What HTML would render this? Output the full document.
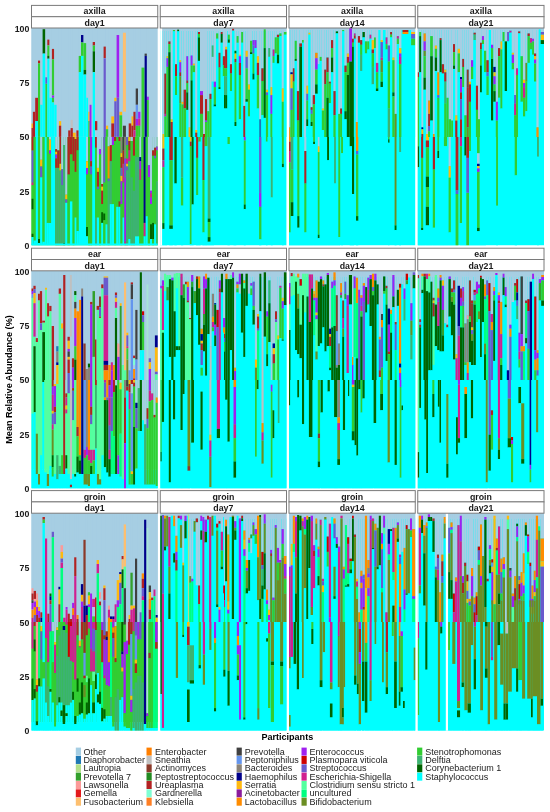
<!DOCTYPE html>
<html><head><meta charset="utf-8"><title>Mean Relative Abundance</title>
<style>
html,body{margin:0;padding:0;background:#fff;}
body{width:550px;height:812px;overflow:hidden;position:relative;}
svg text{font-family:"Liberation Sans",Arial,sans-serif;fill:#111;}
.b{font-size:8.8px;font-weight:bold;fill:#1a1a1a;}
.t{font-size:8.8px;font-weight:bold;fill:#1a1a1a;}
.a{font-size:9.05px;font-weight:bold;fill:#000;}
.l{font-size:9.0px;fill:#222;}
</style></head><body>
<svg width="550" height="812" viewBox="0 0 550 812" style="position:absolute;left:0;top:0">
<g>
<path fill="#A6CEE3" d="M31.5 28.0h126.2v109.0h-126.2z"/>
<path fill="#32CD32" d="M31.5 137.0h126.2v108.3h-126.2z"/>
<path fill="#A6CEE3" d="M31.5 28.0h1.4v95.4h-1.4z"/>
<path fill="#FFB90F" d="M31.5 123.4h1.4v4.7h-1.4z"/>
<path fill="#B22222" d="M31.5 128.1h1.4v8.8h-1.4z"/>
<path fill="#A6CEE3" d="M32.9 28.0h2.3v83.8h-2.3z"/>
<path fill="#B22222" d="M32.9 111.8h2.3v25.1h-2.3z"/>
<path fill="#A6CEE3" d="M35.2 28.0h2.8v69.8h-2.8z"/>
<path fill="#B22222" d="M35.2 97.8h2.8v23.3h-2.8z"/>
<path fill="#00FFFF" d="M35.2 121.1h2.8v15.8h-2.8z"/>
<path fill="#A6CEE3" d="M38.0 28.0h2.3v32.6h-2.3z"/>
<path fill="#B22222" d="M38.0 60.6h2.3v2.8h-2.3z"/>
<path fill="#32CD32" d="M38.0 63.4h2.3v73.5h-2.3z"/>
<path fill="#A6CEE3" d="M40.3 28.0h2.3v76.8h-2.3z"/>
<path fill="#00FFFF" d="M40.3 104.8h2.3v32.1h-2.3z"/>
<path fill="#A6CEE3" d="M42.6 28.0h2.8v1.2h-2.8z"/>
<path fill="#006400" d="M42.6 29.2h2.8v24.4h-2.8z"/>
<path fill="#00FFFF" d="M42.6 53.6h2.8v83.3h-2.8z"/>
<path fill="#A6CEE3" d="M45.4 28.0h1.9v49.3h-1.9z"/>
<path fill="#6A5ACD" d="M45.4 77.3h1.9v6.5h-1.9z"/>
<path fill="#32CD32" d="M45.4 83.9h1.9v53.1h-1.9z"/>
<path fill="#A6CEE3" d="M47.3 28.0h2.3v11.6h-2.3z"/>
<path fill="#B22222" d="M47.3 39.6h2.3v5.8h-2.3z"/>
<path fill="#32CD32" d="M47.3 45.5h2.3v10.5h-2.3z"/>
<path fill="#006400" d="M47.3 55.9h2.3v2.8h-2.3z"/>
<path fill="#00FFFF" d="M47.3 58.7h2.3v78.2h-2.3z"/>
<path fill="#A6CEE3" d="M49.6 28.0h2.3v69.8h-2.3z"/>
<path fill="#00FFFF" d="M49.6 97.8h2.3v39.1h-2.3z"/>
<path fill="#A6CEE3" d="M51.9 28.0h2.3v20.9h-2.3z"/>
<path fill="#B22222" d="M51.9 48.9h2.3v10.5h-2.3z"/>
<path fill="#32CD32" d="M51.9 59.4h2.3v36.1h-2.3z"/>
<path fill="#A020F0" d="M51.9 95.5h2.3v2.3h-2.3z"/>
<path fill="#32CD32" d="M51.9 97.8h2.3v4.7h-2.3z"/>
<path fill="#00FFFF" d="M51.9 102.5h2.3v34.4h-2.3z"/>
<path fill="#A6CEE3" d="M54.3 28.0h2.3v76.8h-2.3z"/>
<path fill="#00FFFF" d="M54.3 104.8h2.3v32.1h-2.3z"/>
<path fill="#A6CEE3" d="M58.9 28.0h2.3v93.1h-2.3z"/>
<path fill="#FFB90F" d="M58.9 121.1h2.3v4.7h-2.3z"/>
<path fill="#B22222" d="M58.9 125.7h2.3v11.2h-2.3z"/>
<path fill="#A6CEE3" d="M68.2 28.0h2.3v102.4h-2.3z"/>
<path fill="#B22222" d="M68.2 130.4h2.3v6.5h-2.3z"/>
<path fill="#A6CEE3" d="M70.6 28.0h2.3v91.9h-2.3z"/>
<path fill="#C0C0C0" d="M70.6 119.9h2.3v8.1h-2.3z"/>
<path fill="#B22222" d="M70.6 128.1h2.3v8.8h-2.3z"/>
<path fill="#A6CEE3" d="M72.9 28.0h2.8v104.7h-2.8z"/>
<path fill="#FFB90F" d="M72.9 132.7h2.8v4.2h-2.8z"/>
<path fill="#A6CEE3" d="M76.4 28.0h2.3v102.4h-2.3z"/>
<path fill="#B22222" d="M76.4 130.4h2.3v6.5h-2.3z"/>
<path fill="#A6CEE3" d="M78.7 28.0h2.3v27.9h-2.3z"/>
<path fill="#32CD32" d="M78.7 55.9h2.3v16.3h-2.3z"/>
<path fill="#00FFFF" d="M78.7 72.2h2.3v64.7h-2.3z"/>
<path fill="#A6CEE3" d="M81.0 28.0h2.6v7.0h-2.6z"/>
<path fill="#00008B" d="M81.0 35.0h2.6v7.4h-2.6z"/>
<path fill="#32CD32" d="M81.0 42.4h2.6v13.5h-2.6z"/>
<path fill="#00FFFF" d="M81.0 55.9h2.6v81.0h-2.6z"/>
<path fill="#A6CEE3" d="M83.6 28.0h2.8v15.1h-2.8z"/>
<path fill="#32CD32" d="M83.6 43.1h2.8v26.8h-2.8z"/>
<path fill="#006400" d="M83.6 69.9h2.8v4.7h-2.8z"/>
<path fill="#00FFFF" d="M83.6 74.5h2.8v62.4h-2.8z"/>
<path fill="#A6CEE3" d="M86.4 28.0h1.9v69.8h-1.9z"/>
<path fill="#00FFFF" d="M86.4 97.8h1.9v39.1h-1.9z"/>
<path fill="#A6CEE3" d="M88.3 28.0h1.4v83.8h-1.4z"/>
<path fill="#FFB90F" d="M88.3 111.8h1.4v9.3h-1.4z"/>
<path fill="#32CD32" d="M88.3 121.1h1.4v15.8h-1.4z"/>
<path fill="#A6CEE3" d="M89.6 28.0h1.9v76.8h-1.9z"/>
<path fill="#A020F0" d="M89.6 104.8h1.9v32.1h-1.9z"/>
<path fill="#A6CEE3" d="M92.7 28.0h2.3v14.0h-2.3z"/>
<path fill="#B22222" d="M92.7 42.0h2.3v3.5h-2.3z"/>
<path fill="#32CD32" d="M92.7 45.5h2.3v5.8h-2.3z"/>
<path fill="#006400" d="M92.7 51.3h2.3v20.9h-2.3z"/>
<path fill="#00FFFF" d="M92.7 72.2h2.3v64.7h-2.3z"/>
<path fill="#A6CEE3" d="M95.0 28.0h2.3v93.1h-2.3z"/>
<path fill="#B22222" d="M95.0 121.1h2.3v9.3h-2.3z"/>
<path fill="#A6CEE3" d="M95.0 130.4h2.3v6.5h-2.3zM103.6 28.0h2.3v18.6h-2.3z"/>
<path fill="#B22222" d="M103.6 46.6h2.3v11.6h-2.3z"/>
<path fill="#6A5ACD" d="M103.6 58.3h2.3v78.7h-2.3z"/>
<path fill="#A6CEE3" d="M105.9 28.0h2.3v97.7h-2.3z"/>
<path fill="#FFB90F" d="M105.9 125.7h2.3v3.5h-2.3z"/>
<path fill="#32CD32" d="M105.9 129.2h2.3v7.7h-2.3z"/>
<path fill="#A6CEE3" d="M111.3 28.0h3.0v88.4h-3.0z"/>
<path fill="#FFB90F" d="M111.3 116.4h3.0v7.0h-3.0z"/>
<path fill="#B22222" d="M111.3 123.4h3.0v13.5h-3.0z"/>
<path fill="#A6CEE3" d="M114.3 28.0h2.3v69.8h-2.3z"/>
<path fill="#FFB90F" d="M114.3 97.8h2.3v3.5h-2.3z"/>
<path fill="#6A5ACD" d="M114.3 101.3h2.3v35.6h-2.3z"/>
<path fill="#A6CEE3" d="M116.6 28.0h2.8v7.0h-2.8z"/>
<path fill="#A020F0" d="M116.6 35.0h2.8v62.8h-2.8z"/>
<path fill="#6A5ACD" d="M116.6 97.8h2.8v39.1h-2.8z"/>
<path fill="#A6CEE3" d="M119.4 28.0h2.8v83.8h-2.8z"/>
<path fill="#FFB90F" d="M119.4 111.8h2.8v3.5h-2.8z"/>
<path fill="#32CD32" d="M119.4 115.3h2.8v21.6h-2.8z"/>
<path fill="#A6CEE3" d="M122.9 28.0h3.0v4.7h-3.0z"/>
<path fill="#FDBF6F" d="M122.9 32.7h3.0v79.1h-3.0z"/>
<path fill="#A6CEE3" d="M122.9 111.8h3.0v14.0h-3.0z"/>
<path fill="#404040" d="M122.9 125.7h3.0v11.2h-3.0z"/>
<path fill="#A6CEE3" d="M128.7 28.0h2.8v95.4h-2.8z"/>
<path fill="#B22222" d="M128.7 123.4h2.8v13.5h-2.8z"/>
<path fill="#A6CEE3" d="M131.5 28.0h1.9v88.4h-1.9z"/>
<path fill="#FFB90F" d="M131.5 116.4h1.9v9.3h-1.9z"/>
<path fill="#B22222" d="M131.5 125.7h1.9v11.2h-1.9z"/>
<path fill="#A6CEE3" d="M133.4 28.0h2.3v83.8h-2.3z"/>
<path fill="#B22222" d="M133.4 111.8h2.3v18.6h-2.3z"/>
<path fill="#D02090" d="M133.4 130.4h2.3v6.5h-2.3z"/>
<path fill="#A6CEE3" d="M135.7 28.0h2.3v60.5h-2.3z"/>
<path fill="#404040" d="M135.7 88.5h2.3v16.3h-2.3z"/>
<path fill="#6495ED" d="M135.7 104.8h2.3v14.0h-2.3z"/>
<path fill="#A020F0" d="M135.7 118.8h2.3v7.0h-2.3z"/>
<path fill="#32CD32" d="M135.7 125.7h2.3v11.2h-2.3z"/>
<path fill="#A6CEE3" d="M138.1 28.0h2.3v83.8h-2.3z"/>
<path fill="#A020F0" d="M138.1 111.8h2.3v7.0h-2.3z"/>
<path fill="#D02090" d="M138.1 118.8h2.3v7.0h-2.3z"/>
<path fill="#32CD32" d="M138.1 125.7h2.3v11.2h-2.3z"/>
<path fill="#A6CEE3" d="M141.5 28.0h3.0v39.6h-3.0z"/>
<path fill="#32CD32" d="M141.5 67.6h3.0v69.4h-3.0z"/>
<path fill="#A6CEE3" d="M144.6 28.0h2.3v25.6h-2.3z"/>
<path fill="#404040" d="M144.6 53.6h2.3v2.3h-2.3z"/>
<path fill="#00008B" d="M144.6 55.9h2.3v81.0h-2.3z"/>
<path fill="#A6CEE3" d="M146.9 28.0h1.9v68.7h-1.9z"/>
<path fill="#A020F0" d="M146.9 96.7h1.9v3.5h-1.9z"/>
<path fill="#32CD32" d="M146.9 100.1h1.9v36.8h-1.9z"/>
<path fill="#B22222" d="M31.5 137.0h2.1v13.4h-2.1z"/>
<path fill="#6A5ACD" d="M31.5 150.4h2.1v32.2h-2.1z"/>
<path fill="#D02090" d="M31.5 182.6h2.1v2.7h-2.1z"/>
<path fill="#32CD32" d="M31.5 185.3h2.1v13.4h-2.1z"/>
<path fill="#006400" d="M31.5 198.7h2.1v10.7h-2.1z"/>
<path fill="#32CD32" d="M31.5 209.5h2.1v24.2h-2.1z"/>
<path fill="#006400" d="M31.5 233.7h2.1v3.4h-2.1z"/>
<path fill="#00FFFF" d="M31.5 237.0h2.1v8.3h-2.1z"/>
<path fill="#32CD32" d="M33.7 137.0h2.1v103.4h-2.1z"/>
<path fill="#00FFFF" d="M33.7 240.4h2.1v4.9h-2.1zM35.8 137.0h2.1v108.3h-2.1z"/>
<path fill="#32CD32" d="M38.0 137.0h2.1v102.0h-2.1z"/>
<path fill="#006400" d="M38.0 239.0h2.1v4.0h-2.1z"/>
<path fill="#00FFFF" d="M38.0 243.0h2.1v2.3h-2.1z"/>
<path fill="#A6CEE3" d="M40.1 137.0h2.4v22.8h-2.4z"/>
<path fill="#FFB90F" d="M40.1 159.8h2.4v6.7h-2.4z"/>
<path fill="#6A5ACD" d="M40.1 166.5h2.4v10.7h-2.4z"/>
<path fill="#00FFFF" d="M40.1 177.3h2.4v68.0h-2.4z"/>
<path fill="#32CD32" d="M42.5 137.0h2.1v104.7h-2.1z"/>
<path fill="#00FFFF" d="M42.5 241.7h2.1v3.6h-2.1zM44.7 137.0h2.1v108.3h-2.1z"/>
<path fill="#32CD32" d="M46.8 137.0h2.1v85.9h-2.1z"/>
<path fill="#00FFFF" d="M46.8 222.9h2.1v22.4h-2.1z"/>
<path fill="#A6CEE3" d="M49.0 137.0h2.1v2.7h-2.1z"/>
<path fill="#FFB90F" d="M49.0 139.7h2.1v10.7h-2.1z"/>
<path fill="#A020F0" d="M49.0 150.4h2.1v3.4h-2.1z"/>
<path fill="#32CD32" d="M49.0 153.8h2.1v69.1h-2.1z"/>
<path fill="#00FFFF" d="M49.0 222.9h2.1v22.4h-2.1zM51.1 137.0h4.0v108.3h-4.0z"/>
<path fill="#A6CEE3" d="M55.2 137.0h2.0v12.1h-2.0z"/>
<path fill="#B22222" d="M55.2 149.1h2.0v2.7h-2.0z"/>
<path fill="#FFB90F" d="M55.2 151.8h2.0v2.7h-2.0z"/>
<path fill="#A020F0" d="M55.2 154.5h2.0v4.0h-2.0z"/>
<path fill="#B22222" d="M55.2 158.5h2.0v9.4h-2.0z"/>
<path fill="#3CB371" d="M55.2 167.9h2.0v77.4h-2.0z"/>
<path fill="#A6CEE3" d="M57.2 137.0h2.3v13.4h-2.3z"/>
<path fill="#B22222" d="M57.2 150.4h2.3v17.5h-2.3z"/>
<path fill="#3CB371" d="M57.2 167.9h2.3v77.4h-2.3z"/>
<path fill="#B22222" d="M59.5 137.0h1.7v26.8h-1.7z"/>
<path fill="#FFB90F" d="M59.5 163.8h1.7v6.7h-1.7z"/>
<path fill="#3CB371" d="M59.5 170.6h1.7v74.7h-1.7z"/>
<path fill="#A6CEE3" d="M61.2 137.0h2.0v32.2h-2.0z"/>
<path fill="#6A5ACD" d="M61.2 169.2h2.0v16.1h-2.0z"/>
<path fill="#3CB371" d="M61.2 185.3h2.0v60.0h-2.0z"/>
<path fill="#A6CEE3" d="M63.2 137.0h2.0v8.1h-2.0z"/>
<path fill="#3CB371" d="M63.2 145.1h2.0v98.0h-2.0z"/>
<path fill="#006400" d="M63.2 243.0h2.0v2.3h-2.0z"/>
<path fill="#A6CEE3" d="M65.2 137.0h2.3v57.7h-2.3z"/>
<path fill="#FFB90F" d="M65.2 194.7h2.3v4.7h-2.3z"/>
<path fill="#6A5ACD" d="M65.2 199.4h2.3v3.4h-2.3z"/>
<path fill="#00FFFF" d="M65.2 202.8h2.3v42.5h-2.3z"/>
<path fill="#B22222" d="M67.5 137.0h2.4v37.6h-2.4z"/>
<path fill="#32CD32" d="M67.5 174.6h2.4v70.7h-2.4z"/>
<path fill="#B22222" d="M69.9 137.0h2.7v17.5h-2.7z"/>
<path fill="#32CD32" d="M69.9 154.5h2.7v47.0h-2.7z"/>
<path fill="#00FFFF" d="M69.9 201.4h2.7v43.9h-2.7z"/>
<path fill="#B22222" d="M72.6 137.0h2.0v24.2h-2.0z"/>
<path fill="#32CD32" d="M72.6 161.2h2.0v84.1h-2.0z"/>
<path fill="#FFB90F" d="M74.6 137.0h2.0v2.0h-2.0z"/>
<path fill="#B22222" d="M74.6 139.0h2.0v32.9h-2.0z"/>
<path fill="#32CD32" d="M74.6 171.9h2.0v45.6h-2.0z"/>
<path fill="#00FFFF" d="M74.6 217.5h2.0v27.8h-2.0z"/>
<path fill="#B22222" d="M76.6 137.0h2.1v13.4h-2.1z"/>
<path fill="#32CD32" d="M76.6 150.4h2.1v80.5h-2.1z"/>
<path fill="#00FFFF" d="M76.6 231.0h2.1v14.3h-2.1zM78.8 137.0h7.2v108.3h-7.2z"/>
<path fill="#A6CEE3" d="M86.0 137.0h2.0v24.2h-2.0z"/>
<path fill="#FFB90F" d="M86.0 161.2h2.0v6.7h-2.0z"/>
<path fill="#A020F0" d="M86.0 167.9h2.0v6.7h-2.0z"/>
<path fill="#32CD32" d="M86.0 174.6h2.0v52.4h-2.0z"/>
<path fill="#006400" d="M86.0 226.9h2.0v9.4h-2.0z"/>
<path fill="#00FFFF" d="M86.0 236.3h2.0v9.0h-2.0z"/>
<path fill="#32CD32" d="M88.1 137.0h2.0v108.3h-2.0z"/>
<path fill="#A020F0" d="M90.1 137.0h2.1v24.2h-2.1z"/>
<path fill="#B22222" d="M90.1 161.2h2.1v5.4h-2.1z"/>
<path fill="#6A5ACD" d="M90.1 166.5h2.1v8.1h-2.1z"/>
<path fill="#32CD32" d="M90.1 174.6h2.1v70.7h-2.1z"/>
<path fill="#00FFFF" d="M92.2 137.0h2.8v108.3h-2.8z"/>
<path fill="#B22222" d="M95.0 137.0h1.9v10.7h-1.9z"/>
<path fill="#32CD32" d="M95.0 147.7h1.9v69.8h-1.9z"/>
<path fill="#3CB371" d="M95.0 217.5h1.9v27.8h-1.9z"/>
<path fill="#A6CEE3" d="M96.9 137.0h2.1v30.9h-2.1z"/>
<path fill="#FFB90F" d="M96.9 167.9h2.1v4.0h-2.1z"/>
<path fill="#B22222" d="M96.9 171.9h2.1v14.8h-2.1z"/>
<path fill="#6A5ACD" d="M96.9 186.7h2.1v2.7h-2.1z"/>
<path fill="#32CD32" d="M96.9 189.4h2.1v28.2h-2.1z"/>
<path fill="#00FFFF" d="M96.9 217.5h2.1v27.8h-2.1z"/>
<path fill="#A6CEE3" d="M99.0 137.0h2.1v12.1h-2.1z"/>
<path fill="#A020F0" d="M99.0 149.1h2.1v5.4h-2.1z"/>
<path fill="#32CD32" d="M99.0 154.5h2.1v90.8h-2.1z"/>
<path fill="#A6CEE3" d="M101.2 137.0h2.1v47.0h-2.1z"/>
<path fill="#B22222" d="M101.2 184.0h2.1v2.7h-2.1z"/>
<path fill="#FFB90F" d="M101.2 186.7h2.1v4.0h-2.1z"/>
<path fill="#B22222" d="M101.2 190.7h2.1v13.4h-2.1z"/>
<path fill="#32CD32" d="M101.2 204.1h2.1v8.1h-2.1z"/>
<path fill="#006400" d="M101.2 212.2h2.1v10.7h-2.1z"/>
<path fill="#00FFFF" d="M101.2 222.9h2.1v22.4h-2.1z"/>
<path fill="#6A5ACD" d="M103.3 137.0h2.1v45.6h-2.1z"/>
<path fill="#32CD32" d="M103.3 182.6h2.1v30.9h-2.1z"/>
<path fill="#006400" d="M103.3 213.5h2.1v6.7h-2.1z"/>
<path fill="#32CD32" d="M103.3 220.2h2.1v25.1h-2.1zM105.5 137.0h2.1v87.3h-2.1z"/>
<path fill="#00FFFF" d="M105.5 224.3h2.1v21.0h-2.1z"/>
<path fill="#A6CEE3" d="M107.6 137.0h2.1v9.4h-2.1z"/>
<path fill="#FF8C00" d="M107.6 146.4h2.1v32.2h-2.1z"/>
<path fill="#6A5ACD" d="M107.6 178.6h2.1v2.7h-2.1z"/>
<path fill="#3CB371" d="M107.6 181.3h2.1v64.0h-2.1z"/>
<path fill="#A6CEE3" d="M109.8 137.0h2.1v8.1h-2.1z"/>
<path fill="#B22222" d="M109.8 145.1h2.1v16.1h-2.1z"/>
<path fill="#3CB371" d="M109.8 161.2h2.1v43.0h-2.1z"/>
<path fill="#00FFFF" d="M109.8 204.1h2.1v41.2h-2.1z"/>
<path fill="#A020F0" d="M111.9 137.0h2.1v8.1h-2.1z"/>
<path fill="#32CD32" d="M111.9 145.1h2.1v59.1h-2.1z"/>
<path fill="#00FFFF" d="M111.9 204.1h2.1v41.2h-2.1z"/>
<path fill="#B22222" d="M114.1 137.0h2.1v4.0h-2.1z"/>
<path fill="#32CD32" d="M114.1 141.0h2.1v104.3h-2.1zM116.2 137.0h2.3v69.8h-2.3z"/>
<path fill="#00FFFF" d="M116.2 206.8h2.3v38.5h-2.3z"/>
<path fill="#B22222" d="M118.5 137.0h2.0v4.0h-2.0z"/>
<path fill="#32CD32" d="M118.5 141.0h2.0v60.4h-2.0z"/>
<path fill="#8B3A2A" d="M118.5 201.4h2.0v5.4h-2.0z"/>
<path fill="#00FFFF" d="M118.5 206.8h2.0v38.5h-2.0z"/>
<path fill="#8B8378" d="M120.5 137.0h2.0v16.1h-2.0z"/>
<path fill="#FFB90F" d="M120.5 153.1h2.0v4.0h-2.0z"/>
<path fill="#B22222" d="M120.5 157.1h2.0v10.7h-2.0z"/>
<path fill="#6A5ACD" d="M120.5 167.9h2.0v8.1h-2.0z"/>
<path fill="#FFB90F" d="M120.5 175.9h2.0v5.4h-2.0z"/>
<path fill="#A020F0" d="M120.5 181.3h2.0v22.8h-2.0z"/>
<path fill="#32CD32" d="M120.5 204.1h2.0v41.2h-2.0z"/>
<path fill="#404040" d="M122.5 137.0h1.7v13.4h-1.7z"/>
<path fill="#B22222" d="M122.5 150.4h1.7v13.4h-1.7z"/>
<path fill="#D02090" d="M122.5 163.8h1.7v18.8h-1.7z"/>
<path fill="#32CD32" d="M122.5 182.6h1.7v34.9h-1.7z"/>
<path fill="#00FFFF" d="M122.5 217.5h1.7v27.8h-1.7z"/>
<path fill="#8B8378" d="M124.3 137.0h1.9v21.5h-1.9z"/>
<path fill="#A020F0" d="M124.3 158.5h1.9v5.4h-1.9z"/>
<path fill="#6A5ACD" d="M124.3 163.8h1.9v13.4h-1.9z"/>
<path fill="#A020F0" d="M124.3 177.3h1.9v64.4h-1.9z"/>
<path fill="#D02090" d="M124.3 241.7h1.9v3.6h-1.9z"/>
<path fill="#6A5ACD" d="M126.1 137.0h2.1v8.1h-2.1z"/>
<path fill="#32CD32" d="M126.1 145.1h2.1v13.4h-2.1z"/>
<path fill="#D02090" d="M126.1 158.5h2.1v5.4h-2.1z"/>
<path fill="#FFB90F" d="M126.1 163.8h2.1v2.7h-2.1z"/>
<path fill="#6A5ACD" d="M126.1 166.5h2.1v4.0h-2.1z"/>
<path fill="#3CB371" d="M126.1 170.6h2.1v74.7h-2.1z"/>
<path fill="#FFB90F" d="M128.3 137.0h2.3v4.0h-2.3z"/>
<path fill="#B22222" d="M128.3 141.0h2.3v9.4h-2.3z"/>
<path fill="#D02090" d="M128.3 150.4h2.3v10.7h-2.3z"/>
<path fill="#3CB371" d="M128.3 161.2h2.3v77.9h-2.3z"/>
<path fill="#00FFFF" d="M128.3 239.0h2.3v6.3h-2.3z"/>
<path fill="#A6CEE3" d="M130.6 137.0h2.3v4.0h-2.3z"/>
<path fill="#32CD32" d="M130.6 141.0h2.3v36.2h-2.3z"/>
<path fill="#3CB371" d="M130.6 177.3h2.3v68.0h-2.3z"/>
<path fill="#B22222" d="M132.9 137.0h2.1v18.8h-2.1z"/>
<path fill="#32CD32" d="M132.9 155.8h2.1v34.9h-2.1z"/>
<path fill="#3CB371" d="M132.9 190.7h2.1v54.6h-2.1z"/>
<path fill="#32CD32" d="M135.0 137.0h4.3v20.1h-4.3z"/>
<path fill="#3CB371" d="M135.0 157.1h4.3v79.2h-4.3z"/>
<path fill="#00FFFF" d="M135.0 236.3h4.3v9.0h-4.3z"/>
<path fill="#A6CEE3" d="M139.3 137.0h2.1v20.1h-2.1z"/>
<path fill="#00008B" d="M139.3 157.1h2.1v4.0h-2.1z"/>
<path fill="#A020F0" d="M139.3 161.2h2.1v8.1h-2.1z"/>
<path fill="#D02090" d="M139.3 169.2h2.1v10.7h-2.1z"/>
<path fill="#32CD32" d="M139.3 180.0h2.1v65.3h-2.1zM141.4 137.0h2.1v108.3h-2.1z"/>
<path fill="#00008B" d="M143.6 137.0h2.1v85.9h-2.1z"/>
<path fill="#D02090" d="M143.6 222.9h2.1v13.4h-2.1z"/>
<path fill="#00FFFF" d="M143.6 236.3h2.1v9.0h-2.1z"/>
<path fill="#32CD32" d="M145.7 137.0h2.1v79.2h-2.1z"/>
<path fill="#00FFFF" d="M145.7 216.2h2.1v29.1h-2.1z"/>
<path fill="#A6CEE3" d="M147.9 137.0h2.1v28.2h-2.1z"/>
<path fill="#A020F0" d="M147.9 165.2h2.1v12.1h-2.1z"/>
<path fill="#32CD32" d="M147.9 177.3h2.1v68.0h-2.1z"/>
<path fill="#A6CEE3" d="M150.0 137.0h2.0v53.7h-2.0z"/>
<path fill="#A020F0" d="M150.0 190.7h2.0v2.7h-2.0z"/>
<path fill="#D02090" d="M150.0 193.4h2.0v4.0h-2.0z"/>
<path fill="#A020F0" d="M150.0 197.4h2.0v6.7h-2.0z"/>
<path fill="#32CD32" d="M150.0 204.1h2.0v20.1h-2.0z"/>
<path fill="#006400" d="M150.0 224.3h2.0v14.8h-2.0z"/>
<path fill="#00FFFF" d="M150.0 239.0h2.0v6.3h-2.0z"/>
<path fill="#A6CEE3" d="M152.1 137.0h2.0v13.4h-2.0z"/>
<path fill="#B22222" d="M152.1 150.4h2.0v5.4h-2.0z"/>
<path fill="#32CD32" d="M152.1 155.8h2.0v67.1h-2.0z"/>
<path fill="#006400" d="M152.1 222.9h2.0v16.1h-2.0z"/>
<path fill="#32CD32" d="M152.1 239.0h2.0v6.3h-2.0z"/>
<path fill="#A6CEE3" d="M154.1 137.0h2.1v10.7h-2.1z"/>
<path fill="#B22222" d="M154.1 147.7h2.1v8.1h-2.1z"/>
<path fill="#6A5ACD" d="M154.1 155.8h2.1v2.7h-2.1z"/>
<path fill="#32CD32" d="M154.1 158.5h2.1v65.8h-2.1z"/>
<path fill="#00FFFF" d="M154.1 224.3h2.1v21.0h-2.1z"/>
<path fill="#A6CEE3" d="M156.2 137.0h1.5v9.4h-1.5z"/>
<path fill="#A020F0" d="M156.2 146.4h1.5v4.0h-1.5z"/>
<path fill="#32CD32" d="M156.2 150.4h1.5v30.9h-1.5z"/>
<path fill="#3CB371" d="M156.2 181.3h1.5v64.0h-1.5z"/>
<path fill="#00FFFF" d="M31.5 243.6h126.2v1.7h-126.2z"/>
</g>
<g>
<path fill="#A6CEE3" d="M160.2 28.0h126.2v2.7h-126.2z"/>
<path fill="#00FFFF" d="M160.2 30.7h126.2v214.6h-126.2z"/>
<path fill="#FFFFFF" d="M160.2 28.0h2.2v109.0h-2.2z"/>
<path fill="#A6CEE3" d="M162.4 28.0h1.9v106.0h-1.9z"/>
<path fill="#FFB90F" d="M162.4 134.0h1.9v3.0h-1.9z"/>
<path fill="#A6CEE3" d="M164.3 28.0h2.1v45.6h-2.1z"/>
<path fill="#B22222" d="M164.3 73.6h2.1v40.3h-2.1z"/>
<path fill="#D02090" d="M164.3 113.9h2.1v2.7h-2.1z"/>
<path fill="#32CD32" d="M164.3 116.6h2.1v20.4h-2.1z"/>
<path fill="#A6CEE3" d="M166.4 28.0h1.9v28.2h-1.9z"/>
<path fill="#FFB90F" d="M166.4 56.2h1.9v2.0h-1.9z"/>
<path fill="#A020F0" d="M166.4 58.2h1.9v8.7h-1.9z"/>
<path fill="#32CD32" d="M166.4 66.9h1.9v70.1h-1.9z"/>
<path fill="#A6CEE3" d="M168.3 28.0h2.4v13.4h-2.4z"/>
<path fill="#B22222" d="M168.3 41.4h2.4v2.7h-2.4z"/>
<path fill="#32CD32" d="M168.3 44.1h2.4v8.1h-2.4z"/>
<path fill="#006400" d="M168.3 52.2h2.4v84.8h-2.4z"/>
<path fill="#A6CEE3" d="M170.7 28.0h2.1v91.3h-2.1z"/>
<path fill="#FFB90F" d="M170.7 119.3h2.1v2.7h-2.1z"/>
<path fill="#B22222" d="M170.7 122.0h2.1v15.0h-2.1z"/>
<path fill="#A6CEE3" d="M172.9 28.0h2.1v2.0h-2.1z"/>
<path fill="#32CD32" d="M172.9 30.0h2.1v1.3h-2.1z"/>
<path fill="#00FFFF" d="M172.9 31.4h2.1v105.6h-2.1z"/>
<path fill="#A6CEE3" d="M175.0 28.0h2.1v36.2h-2.1z"/>
<path fill="#B22222" d="M175.0 64.2h2.1v12.1h-2.1z"/>
<path fill="#32CD32" d="M175.0 76.3h2.1v18.8h-2.1z"/>
<path fill="#00FFFF" d="M175.0 95.1h2.1v41.9h-2.1z"/>
<path fill="#A6CEE3" d="M177.2 28.0h2.1v1.6h-2.1z"/>
<path fill="#006400" d="M177.2 29.6h2.1v1.7h-2.1z"/>
<path fill="#00FFFF" d="M177.2 31.4h2.1v105.6h-2.1z"/>
<path fill="#A6CEE3" d="M179.3 28.0h2.1v32.2h-2.1z"/>
<path fill="#FFB90F" d="M179.3 60.2h2.1v2.0h-2.1z"/>
<path fill="#A020F0" d="M179.3 62.2h2.1v10.1h-2.1z"/>
<path fill="#B22222" d="M179.3 72.3h2.1v4.0h-2.1z"/>
<path fill="#6B8E23" d="M179.3 76.3h2.1v26.8h-2.1z"/>
<path fill="#32CD32" d="M179.3 103.2h2.1v33.8h-2.1z"/>
<path fill="#A6CEE3" d="M181.5 28.0h2.1v73.8h-2.1z"/>
<path fill="#FFB90F" d="M181.5 101.8h2.1v2.7h-2.1z"/>
<path fill="#32CD32" d="M181.5 104.5h2.1v32.5h-2.1z"/>
<path fill="#A6CEE3" d="M183.6 28.0h2.7v61.7h-2.7z"/>
<path fill="#B22222" d="M183.6 89.7h2.7v18.8h-2.7z"/>
<path fill="#32CD32" d="M183.6 108.5h2.7v28.5h-2.7z"/>
<path fill="#A6CEE3" d="M186.3 28.0h2.1v28.2h-2.1z"/>
<path fill="#A020F0" d="M186.3 56.2h2.1v24.2h-2.1z"/>
<path fill="#B22222" d="M186.3 80.4h2.1v2.7h-2.1z"/>
<path fill="#32CD32" d="M186.3 83.0h2.1v9.4h-2.1z"/>
<path fill="#006400" d="M186.3 92.4h2.1v17.5h-2.1z"/>
<path fill="#00FFFF" d="M186.3 109.9h2.1v27.1h-2.1z"/>
<path fill="#A6CEE3" d="M188.5 28.0h2.1v99.3h-2.1z"/>
<path fill="#FFB90F" d="M188.5 127.3h2.1v9.7h-2.1z"/>
<path fill="#A6CEE3" d="M190.6 28.0h2.1v27.5h-2.1z"/>
<path fill="#A020F0" d="M190.6 55.5h2.1v10.1h-2.1z"/>
<path fill="#32CD32" d="M190.6 65.6h2.1v14.8h-2.1z"/>
<path fill="#006400" d="M190.6 80.4h2.1v56.6h-2.1z"/>
<path fill="#A6CEE3" d="M192.8 28.0h2.4v35.6h-2.4z"/>
<path fill="#FFB90F" d="M192.8 63.6h2.4v2.0h-2.4z"/>
<path fill="#32CD32" d="M192.8 65.6h2.4v6.7h-2.4z"/>
<path fill="#00FFFF" d="M192.8 72.3h2.4v64.7h-2.4z"/>
<path fill="#A6CEE3" d="M195.2 28.0h2.1v102.0h-2.1z"/>
<path fill="#FFB90F" d="M195.2 130.0h2.1v2.7h-2.1z"/>
<path fill="#B22222" d="M195.2 132.7h2.1v4.3h-2.1z"/>
<path fill="#A6CEE3" d="M197.9 28.0h2.1v4.0h-2.1z"/>
<path fill="#B22222" d="M197.9 32.0h2.1v2.0h-2.1z"/>
<path fill="#32CD32" d="M197.9 34.0h2.1v3.4h-2.1z"/>
<path fill="#006400" d="M197.9 37.4h2.1v23.5h-2.1z"/>
<path fill="#00FFFF" d="M197.9 60.9h2.1v76.1h-2.1z"/>
<path fill="#A6CEE3" d="M200.0 28.0h3.0v63.1h-3.0z"/>
<path fill="#A020F0" d="M200.0 91.1h3.0v4.0h-3.0z"/>
<path fill="#B22222" d="M200.0 95.1h3.0v18.8h-3.0z"/>
<path fill="#32CD32" d="M200.0 113.9h3.0v23.1h-3.0z"/>
<path fill="#A6CEE3" d="M203.0 28.0h2.0v106.0h-2.0z"/>
<path fill="#B22222" d="M203.0 134.0h2.0v3.0h-2.0z"/>
<path fill="#A6CEE3" d="M205.0 28.0h2.3v71.1h-2.3z"/>
<path fill="#B22222" d="M205.0 99.1h2.3v21.5h-2.3z"/>
<path fill="#A020F0" d="M205.0 120.6h2.3v1.3h-2.3z"/>
<path fill="#32CD32" d="M205.0 122.0h2.3v15.0h-2.3z"/>
<path fill="#A6CEE3" d="M207.3 28.0h2.1v83.2h-2.1z"/>
<path fill="#32CD32" d="M207.3 111.2h2.1v25.8h-2.1z"/>
<path fill="#A6CEE3" d="M209.4 28.0h2.3v65.8h-2.3z"/>
<path fill="#B22222" d="M209.4 93.8h2.3v5.4h-2.3z"/>
<path fill="#32CD32" d="M209.4 99.1h2.3v37.9h-2.3z"/>
<path fill="#A6CEE3" d="M211.7 28.0h2.0v17.5h-2.0z"/>
<path fill="#3CB371" d="M211.7 45.5h2.0v11.4h-2.0z"/>
<path fill="#A6CEE3" d="M211.7 56.9h2.0v24.8h-2.0z"/>
<path fill="#00FFFF" d="M211.7 81.7h2.0v55.3h-2.0z"/>
<path fill="#A6CEE3" d="M213.7 28.0h2.4v53.7h-2.4z"/>
<path fill="#A020F0" d="M213.7 81.7h2.4v5.4h-2.4z"/>
<path fill="#32CD32" d="M213.7 87.1h2.4v17.5h-2.4z"/>
<path fill="#006400" d="M213.7 104.5h2.4v2.0h-2.4z"/>
<path fill="#00FFFF" d="M213.7 106.5h2.4v30.5h-2.4z"/>
<path fill="#A6CEE3" d="M216.1 28.0h2.4v5.4h-2.4z"/>
<path fill="#32CD32" d="M216.1 33.4h2.4v5.4h-2.4z"/>
<path fill="#00FFFF" d="M216.1 38.7h2.4v98.3h-2.4z"/>
<path fill="#A6CEE3" d="M218.5 28.0h2.1v24.8h-2.1z"/>
<path fill="#B22222" d="M218.5 52.8h2.1v14.8h-2.1z"/>
<path fill="#32CD32" d="M218.5 67.6h2.1v19.5h-2.1z"/>
<path fill="#006400" d="M218.5 87.1h2.1v2.0h-2.1z"/>
<path fill="#00FFFF" d="M218.5 89.1h2.1v47.9h-2.1z"/>
<path fill="#A6CEE3" d="M220.7 28.0h2.1v4.0h-2.1z"/>
<path fill="#B22222" d="M220.7 32.0h2.1v2.0h-2.1z"/>
<path fill="#006400" d="M220.7 34.0h2.1v8.7h-2.1z"/>
<path fill="#00FFFF" d="M220.7 42.8h2.1v94.2h-2.1z"/>
<path fill="#A6CEE3" d="M222.8 28.0h1.2v28.2h-1.2z"/>
<path fill="#B22222" d="M222.8 56.2h1.2v9.4h-1.2z"/>
<path fill="#32CD32" d="M222.8 65.6h1.2v10.7h-1.2z"/>
<path fill="#00FFFF" d="M222.8 76.3h1.2v60.7h-1.2z"/>
<path fill="#A6CEE3" d="M224.0 28.0h1.1v28.2h-1.1z"/>
<path fill="#B22222" d="M224.0 56.2h1.1v12.1h-1.1z"/>
<path fill="#32CD32" d="M224.0 68.3h1.1v8.1h-1.1z"/>
<path fill="#3CB371" d="M224.0 76.3h1.1v18.8h-1.1z"/>
<path fill="#006400" d="M224.0 95.1h1.1v13.4h-1.1z"/>
<path fill="#00FFFF" d="M224.0 108.5h1.1v28.5h-1.1z"/>
<path fill="#A6CEE3" d="M225.1 28.0h2.1v18.8h-2.1z"/>
<path fill="#FFB90F" d="M225.1 46.8h2.1v2.7h-2.1z"/>
<path fill="#B22222" d="M225.1 49.5h2.1v18.8h-2.1z"/>
<path fill="#32CD32" d="M225.1 68.3h2.1v8.1h-2.1z"/>
<path fill="#3CB371" d="M225.1 76.3h2.1v18.8h-2.1z"/>
<path fill="#006400" d="M225.1 95.1h2.1v13.4h-2.1z"/>
<path fill="#00FFFF" d="M225.1 108.5h2.1v28.5h-2.1z"/>
<path fill="#A6CEE3" d="M227.8 28.0h2.1v6.7h-2.1z"/>
<path fill="#32CD32" d="M227.8 34.7h2.1v4.7h-2.1z"/>
<path fill="#006400" d="M227.8 39.4h2.1v3.4h-2.1z"/>
<path fill="#00FFFF" d="M227.8 42.8h2.1v94.2h-2.1z"/>
<path fill="#A6CEE3" d="M229.9 28.0h2.1v36.2h-2.1z"/>
<path fill="#B22222" d="M229.9 64.2h2.1v9.4h-2.1z"/>
<path fill="#32CD32" d="M229.9 73.6h2.1v17.5h-2.1z"/>
<path fill="#00FFFF" d="M229.9 91.1h2.1v45.9h-2.1z"/>
<path fill="#A6CEE3" d="M232.1 28.0h2.1v0.7h-2.1z"/>
<path fill="#B22222" d="M232.1 28.7h2.1v2.0h-2.1z"/>
<path fill="#00FFFF" d="M232.1 30.7h2.1v106.3h-2.1z"/>
<path fill="#A6CEE3" d="M234.5 28.0h2.1v22.8h-2.1z"/>
<path fill="#006400" d="M234.5 50.8h2.1v2.7h-2.1z"/>
<path fill="#FFB90F" d="M234.5 53.5h2.1v5.4h-2.1z"/>
<path fill="#B22222" d="M234.5 58.9h2.1v3.4h-2.1z"/>
<path fill="#32CD32" d="M234.5 62.2h2.1v59.7h-2.1z"/>
<path fill="#006400" d="M234.5 122.0h2.1v4.0h-2.1z"/>
<path fill="#00FFFF" d="M234.5 126.0h2.1v11.0h-2.1z"/>
<path fill="#A6CEE3" d="M236.6 28.0h2.1v8.1h-2.1z"/>
<path fill="#32CD32" d="M236.6 36.1h2.1v6.7h-2.1z"/>
<path fill="#00FFFF" d="M236.6 42.8h2.1v94.2h-2.1z"/>
<path fill="#A6CEE3" d="M238.8 28.0h2.4v26.8h-2.4z"/>
<path fill="#FFB90F" d="M238.8 54.8h2.4v1.3h-2.4z"/>
<path fill="#A020F0" d="M238.8 56.2h2.4v6.7h-2.4z"/>
<path fill="#B22222" d="M238.8 62.9h2.4v12.1h-2.4z"/>
<path fill="#32CD32" d="M238.8 75.0h2.4v44.3h-2.4z"/>
<path fill="#00FFFF" d="M238.8 119.3h2.4v17.7h-2.4z"/>
<path fill="#A6CEE3" d="M241.2 28.0h2.1v4.0h-2.1z"/>
<path fill="#32CD32" d="M241.2 32.0h2.1v10.7h-2.1z"/>
<path fill="#00FFFF" d="M241.2 42.8h2.1v94.2h-2.1z"/>
<path fill="#A6CEE3" d="M243.3 28.0h2.1v77.9h-2.1z"/>
<path fill="#B22222" d="M243.3 105.9h2.1v31.1h-2.1z"/>
<path fill="#A6CEE3" d="M245.5 28.0h2.4v22.8h-2.4z"/>
<path fill="#FFB90F" d="M245.5 50.8h2.4v6.0h-2.4z"/>
<path fill="#6A5ACD" d="M245.5 56.9h2.4v11.4h-2.4z"/>
<path fill="#32CD32" d="M245.5 68.3h2.4v30.9h-2.4z"/>
<path fill="#006400" d="M245.5 99.1h2.4v2.7h-2.4z"/>
<path fill="#00FFFF" d="M245.5 101.8h2.4v35.2h-2.4z"/>
<path fill="#A6CEE3" d="M247.9 28.0h2.1v56.4h-2.1z"/>
<path fill="#FFB90F" d="M247.9 84.4h2.1v5.4h-2.1z"/>
<path fill="#32CD32" d="M247.9 89.7h2.1v26.8h-2.1z"/>
<path fill="#00FFFF" d="M247.9 116.6h2.1v20.4h-2.1z"/>
<path fill="#A6CEE3" d="M250.0 28.0h2.4v12.8h-2.4z"/>
<path fill="#32CD32" d="M250.0 40.8h2.4v11.4h-2.4z"/>
<path fill="#006400" d="M250.0 52.2h2.4v2.0h-2.4z"/>
<path fill="#00FFFF" d="M250.0 54.2h2.4v82.8h-2.4z"/>
<path fill="#A6CEE3" d="M252.5 28.0h2.1v12.1h-2.1z"/>
<path fill="#A020F0" d="M252.5 40.1h2.1v5.4h-2.1z"/>
<path fill="#6A5ACD" d="M252.5 45.5h2.1v8.1h-2.1z"/>
<path fill="#32CD32" d="M252.5 53.5h2.1v20.1h-2.1z"/>
<path fill="#006400" d="M252.5 73.6h2.1v6.0h-2.1z"/>
<path fill="#00FFFF" d="M252.5 79.7h2.1v57.3h-2.1z"/>
<path fill="#A6CEE3" d="M254.6 28.0h2.1v12.1h-2.1z"/>
<path fill="#A020F0" d="M254.6 40.1h2.1v8.1h-2.1z"/>
<path fill="#00FFFF" d="M254.6 48.1h2.1v88.9h-2.1z"/>
<path fill="#A6CEE3" d="M256.8 28.0h2.4v28.2h-2.4z"/>
<path fill="#FFB90F" d="M256.8 56.2h2.4v6.7h-2.4z"/>
<path fill="#B22222" d="M256.8 62.9h2.4v12.1h-2.4z"/>
<path fill="#32CD32" d="M256.8 75.0h2.4v33.6h-2.4z"/>
<path fill="#00FFFF" d="M256.8 108.5h2.4v28.5h-2.4z"/>
<path fill="#A6CEE3" d="M259.2 28.0h2.1v91.3h-2.1z"/>
<path fill="#1F78B4" d="M259.2 119.3h2.1v17.7h-2.1z"/>
<path fill="#A6CEE3" d="M261.3 28.0h2.4v40.3h-2.4z"/>
<path fill="#B22222" d="M261.3 68.3h2.4v12.8h-2.4z"/>
<path fill="#32CD32" d="M261.3 81.0h2.4v34.2h-2.4z"/>
<path fill="#00FFFF" d="M261.3 115.3h2.4v21.7h-2.4z"/>
<path fill="#A6CEE3" d="M263.7 28.0h2.1v1.3h-2.1z"/>
<path fill="#32CD32" d="M263.7 29.3h2.1v18.8h-2.1z"/>
<path fill="#006400" d="M263.7 48.1h2.1v69.8h-2.1z"/>
<path fill="#00FFFF" d="M263.7 117.9h2.1v19.1h-2.1z"/>
<path fill="#A6CEE3" d="M265.9 28.0h2.4v61.7h-2.4z"/>
<path fill="#FFB90F" d="M265.9 89.7h2.4v2.7h-2.4z"/>
<path fill="#6A5ACD" d="M265.9 92.4h2.4v2.7h-2.4z"/>
<path fill="#32CD32" d="M265.9 95.1h2.4v41.9h-2.4z"/>
<path fill="#A6CEE3" d="M268.3 28.0h2.1v20.1h-2.1z"/>
<path fill="#3CB371" d="M268.3 48.1h2.1v8.7h-2.1z"/>
<path fill="#00FFFF" d="M268.3 56.9h2.1v80.1h-2.1z"/>
<path fill="#A6CEE3" d="M270.4 28.0h2.1v59.1h-2.1z"/>
<path fill="#FFB90F" d="M270.4 87.1h2.1v8.1h-2.1z"/>
<path fill="#A020F0" d="M270.4 95.1h2.1v18.8h-2.1z"/>
<path fill="#32CD32" d="M270.4 113.9h2.1v23.1h-2.1z"/>
<path fill="#A6CEE3" d="M272.6 28.0h2.1v21.5h-2.1z"/>
<path fill="#D02090" d="M272.6 49.5h2.1v6.7h-2.1z"/>
<path fill="#32CD32" d="M272.6 56.2h2.1v6.7h-2.1z"/>
<path fill="#00FFFF" d="M272.6 62.9h2.1v74.1h-2.1z"/>
<path fill="#A6CEE3" d="M274.7 28.0h2.1v9.4h-2.1z"/>
<path fill="#32CD32" d="M274.7 37.4h2.1v16.1h-2.1z"/>
<path fill="#00FFFF" d="M274.7 53.5h2.1v83.5h-2.1z"/>
<path fill="#A6CEE3" d="M276.9 28.0h2.4v6.7h-2.4z"/>
<path fill="#B22222" d="M276.9 34.7h2.4v2.7h-2.4z"/>
<path fill="#32CD32" d="M276.9 37.4h2.4v17.5h-2.4z"/>
<path fill="#006400" d="M276.9 54.8h2.4v8.7h-2.4z"/>
<path fill="#00FFFF" d="M276.9 63.6h2.4v73.4h-2.4z"/>
<path fill="#A6CEE3" d="M279.3 28.0h2.4v5.4h-2.4z"/>
<path fill="#32CD32" d="M279.3 33.4h2.4v2.7h-2.4z"/>
<path fill="#00FFFF" d="M279.3 36.1h2.4v100.9h-2.4z"/>
<path fill="#A6CEE3" d="M281.7 28.0h2.1v60.4h-2.1z"/>
<path fill="#FFB90F" d="M281.7 88.4h2.1v13.4h-2.1z"/>
<path fill="#32CD32" d="M281.7 101.8h2.1v35.2h-2.1z"/>
<path fill="#A6CEE3" d="M283.9 28.0h2.6v4.0h-2.6z"/>
<path fill="#32CD32" d="M283.9 32.0h2.6v2.7h-2.6z"/>
<path fill="#00FFFF" d="M283.9 34.7h2.6v102.3h-2.6z"/>
<path fill="#FFFFFF" d="M160.2 137.0h2.1v108.3h-2.1z"/>
<path fill="#FFB90F" d="M162.3 137.0h2.3v11.6h-2.3z"/>
<path fill="#B22222" d="M162.3 148.6h2.3v11.6h-2.3z"/>
<path fill="#D02090" d="M162.3 160.3h2.3v7.0h-2.3z"/>
<path fill="#32CD32" d="M162.3 167.3h2.3v55.9h-2.3z"/>
<path fill="#006400" d="M162.3 223.1h2.3v5.8h-2.3z"/>
<path fill="#00FFFF" d="M162.3 228.9h2.3v16.4h-2.3zM164.7 137.0h2.3v108.3h-2.3z"/>
<path fill="#B22222" d="M169.3 137.0h3.5v23.3h-3.5z"/>
<path fill="#32CD32" d="M169.3 160.3h3.5v65.2h-3.5z"/>
<path fill="#006400" d="M169.3 225.4h3.5v3.5h-3.5z"/>
<path fill="#00FFFF" d="M169.3 228.9h3.5v16.4h-3.5z"/>
<path fill="#006400" d="M174.4 137.0h2.3v46.5h-2.3z"/>
<path fill="#00FFFF" d="M174.4 183.5h2.3v61.8h-2.3z"/>
<path fill="#3CB371" d="M180.9 137.0h2.3v40.7h-2.3z"/>
<path fill="#32CD32" d="M180.9 177.7h2.3v27.9h-2.3z"/>
<path fill="#00FFFF" d="M180.9 205.7h2.3v39.6h-2.3z"/>
<path fill="#FFB90F" d="M189.8 137.0h1.9v4.7h-1.9z"/>
<path fill="#B22222" d="M189.8 141.7h1.9v4.7h-1.9z"/>
<path fill="#32CD32" d="M189.8 146.3h1.9v97.7h-1.9z"/>
<path fill="#00FFFF" d="M189.8 244.1h1.9v1.2h-1.9z"/>
<path fill="#006400" d="M191.7 137.0h1.9v67.5h-1.9z"/>
<path fill="#00FFFF" d="M191.7 204.5h1.9v40.8h-1.9z"/>
<path fill="#B22222" d="M196.1 137.0h2.3v20.9h-2.3z"/>
<path fill="#32CD32" d="M196.1 157.9h2.3v37.2h-2.3z"/>
<path fill="#00FFFF" d="M196.1 195.2h2.3v50.1h-2.3z"/>
<path fill="#32CD32" d="M198.4 137.0h2.3v4.7h-2.3z"/>
<path fill="#00FFFF" d="M198.4 141.7h2.3v103.6h-2.3z"/>
<path fill="#B22222" d="M202.4 137.0h2.3v43.1h-2.3z"/>
<path fill="#32CD32" d="M202.4 180.1h2.3v52.4h-2.3z"/>
<path fill="#00FFFF" d="M202.4 232.4h2.3v12.9h-2.3z"/>
<path fill="#32CD32" d="M204.7 137.0h2.8v9.3h-2.8z"/>
<path fill="#00FFFF" d="M204.7 146.3h2.8v99.0h-2.8z"/>
<path fill="#3CB371" d="M207.7 137.0h3.0v81.5h-3.0z"/>
<path fill="#006400" d="M207.7 218.5h3.0v3.5h-3.0z"/>
<path fill="#32CD32" d="M207.7 221.9h3.0v15.1h-3.0z"/>
<path fill="#006400" d="M207.7 237.1h3.0v4.7h-3.0z"/>
<path fill="#00FFFF" d="M207.7 241.7h3.0v3.6h-3.0zM210.7 137.0h3.3v108.3h-3.3z"/>
<path fill="#32CD32" d="M227.5 137.0h2.3v7.0h-2.3z"/>
<path fill="#00FFFF" d="M227.5 144.0h2.3v101.3h-2.3zM233.5 137.0h2.8v108.3h-2.8z"/>
<path fill="#A020F0" d="M243.8 137.0h1.9v3.5h-1.9z"/>
<path fill="#32CD32" d="M243.8 140.5h1.9v64.0h-1.9z"/>
<path fill="#006400" d="M243.8 204.5h1.9v4.7h-1.9z"/>
<path fill="#00FFFF" d="M243.8 209.1h1.9v36.2h-1.9z"/>
<path fill="#6A5ACD" d="M259.1 137.0h2.3v55.9h-2.3z"/>
<path fill="#A020F0" d="M259.1 192.9h2.3v14.0h-2.3z"/>
<path fill="#32CD32" d="M259.1 206.8h2.3v32.6h-2.3z"/>
<path fill="#00FFFF" d="M259.1 239.4h2.3v5.9h-2.3z"/>
<path fill="#32CD32" d="M265.9 137.0h1.6v4.7h-1.6z"/>
<path fill="#00FFFF" d="M265.9 141.7h1.6v103.6h-1.6z"/>
<path fill="#3CB371" d="M270.8 137.0h1.9v60.5h-1.9z"/>
<path fill="#00FFFF" d="M270.8 197.5h1.9v47.8h-1.9z"/>
<path fill="#32CD32" d="M281.9 137.0h1.9v26.8h-1.9z"/>
<path fill="#006400" d="M281.9 163.8h1.9v3.5h-1.9z"/>
<path fill="#00FFFF" d="M281.9 167.3h1.9v78.0h-1.9z"/>
</g>
<g>
<path fill="#A6CEE3" d="M289.0 28.0h126.2v2.1h-126.2z"/>
<path fill="#00FFFF" d="M289.0 30.1h126.2v215.2h-126.2z"/>
<path fill="#FFFFFF" d="M289.0 28.0h0.1v109.0h-0.1z"/>
<path fill="#A6CEE3" d="M289.1 28.0h1.3v99.3h-1.3z"/>
<path fill="#FF8C00" d="M289.1 127.3h1.3v9.7h-1.3z"/>
<path fill="#A6CEE3" d="M290.4 28.0h2.4v44.3h-2.4z"/>
<path fill="#00008B" d="M290.4 72.3h2.4v2.0h-2.4z"/>
<path fill="#FFB90F" d="M290.4 74.3h2.4v14.1h-2.4z"/>
<path fill="#6A5ACD" d="M290.4 88.4h2.4v21.5h-2.4z"/>
<path fill="#32CD32" d="M290.4 109.9h2.4v27.1h-2.4z"/>
<path fill="#A6CEE3" d="M292.8 28.0h1.9v40.3h-1.9z"/>
<path fill="#B22222" d="M292.8 68.3h1.9v13.4h-1.9z"/>
<path fill="#32CD32" d="M292.8 81.7h1.9v55.3h-1.9z"/>
<path fill="#A6CEE3" d="M294.7 28.0h2.1v12.8h-2.1z"/>
<path fill="#32CD32" d="M294.7 40.8h2.1v18.1h-2.1z"/>
<path fill="#006400" d="M294.7 58.9h2.1v2.0h-2.1z"/>
<path fill="#00FFFF" d="M294.7 60.9h2.1v76.1h-2.1z"/>
<path fill="#A6CEE3" d="M296.9 28.0h2.4v63.1h-2.4z"/>
<path fill="#B22222" d="M296.9 91.1h2.4v29.5h-2.4z"/>
<path fill="#32CD32" d="M296.9 120.6h2.4v16.4h-2.4z"/>
<path fill="#A6CEE3" d="M299.3 28.0h2.7v15.4h-2.7z"/>
<path fill="#B22222" d="M299.3 43.4h2.7v3.4h-2.7z"/>
<path fill="#006400" d="M299.3 46.8h2.7v90.2h-2.7z"/>
<path fill="#A6CEE3" d="M302.0 28.0h1.9v12.1h-1.9z"/>
<path fill="#32CD32" d="M302.0 40.1h1.9v2.7h-1.9z"/>
<path fill="#00FFFF" d="M302.0 42.8h1.9v94.2h-1.9z"/>
<path fill="#A6CEE3" d="M303.8 28.0h2.4v109.0h-2.4zM306.3 28.0h2.1v57.7h-2.1z"/>
<path fill="#FFB90F" d="M306.3 85.7h2.1v8.1h-2.1z"/>
<path fill="#6A5ACD" d="M306.3 93.8h2.1v6.7h-2.1z"/>
<path fill="#32CD32" d="M306.3 100.5h2.1v18.8h-2.1z"/>
<path fill="#006400" d="M306.3 119.3h2.1v6.7h-2.1z"/>
<path fill="#00FFFF" d="M306.3 126.0h2.1v11.0h-2.1z"/>
<path fill="#A6CEE3" d="M308.4 28.0h2.1v4.7h-2.1z"/>
<path fill="#FFB90F" d="M308.4 32.7h2.1v2.0h-2.1z"/>
<path fill="#00FFFF" d="M308.4 34.7h2.1v102.3h-2.1z"/>
<path fill="#A6CEE3" d="M310.6 28.0h2.1v79.2h-2.1z"/>
<path fill="#B22222" d="M310.6 107.2h2.1v2.7h-2.1z"/>
<path fill="#6A5ACD" d="M310.6 109.9h2.1v4.0h-2.1z"/>
<path fill="#32CD32" d="M310.6 113.9h2.1v8.1h-2.1z"/>
<path fill="#006400" d="M310.6 122.0h2.1v4.0h-2.1z"/>
<path fill="#00FFFF" d="M310.6 126.0h2.1v11.0h-2.1z"/>
<path fill="#A6CEE3" d="M312.7 28.0h2.4v67.1h-2.4z"/>
<path fill="#B22222" d="M312.7 95.1h2.4v9.4h-2.4z"/>
<path fill="#32CD32" d="M312.7 104.5h2.4v32.5h-2.4z"/>
<path fill="#A6CEE3" d="M315.1 28.0h2.7v24.8h-2.7z"/>
<path fill="#FF8C00" d="M315.1 52.8h2.7v5.4h-2.7z"/>
<path fill="#A020F0" d="M315.1 58.2h2.7v11.4h-2.7z"/>
<path fill="#32CD32" d="M315.1 69.6h2.7v14.8h-2.7z"/>
<path fill="#006400" d="M315.1 84.4h2.7v9.4h-2.7z"/>
<path fill="#00FFFF" d="M315.1 93.8h2.7v43.2h-2.7z"/>
<path fill="#A6CEE3" d="M317.8 28.0h1.9v36.2h-1.9z"/>
<path fill="#00FFFF" d="M317.8 64.2h1.9v72.8h-1.9z"/>
<path fill="#A6CEE3" d="M319.7 28.0h2.1v28.9h-2.1z"/>
<path fill="#32CD32" d="M319.7 56.9h2.1v4.0h-2.1z"/>
<path fill="#00FFFF" d="M319.7 60.9h2.1v76.1h-2.1z"/>
<path fill="#A6CEE3" d="M321.8 28.0h2.4v80.5h-2.4z"/>
<path fill="#FFB90F" d="M321.8 108.5h2.4v2.0h-2.4z"/>
<path fill="#32CD32" d="M321.8 110.6h2.4v19.5h-2.4z"/>
<path fill="#00FFFF" d="M321.8 130.0h2.4v7.0h-2.4z"/>
<path fill="#A6CEE3" d="M324.2 28.0h2.1v41.6h-2.1z"/>
<path fill="#B22222" d="M324.2 69.6h2.1v14.8h-2.1z"/>
<path fill="#32CD32" d="M324.2 84.4h2.1v52.6h-2.1z"/>
<path fill="#A6CEE3" d="M326.4 28.0h2.4v29.5h-2.4z"/>
<path fill="#B22222" d="M326.4 57.5h2.4v14.8h-2.4z"/>
<path fill="#32CD32" d="M326.4 72.3h2.4v25.5h-2.4z"/>
<path fill="#006400" d="M326.4 97.8h2.4v39.2h-2.4z"/>
<path fill="#A6CEE3" d="M328.8 28.0h2.1v53.7h-2.1z"/>
<path fill="#8B3A2A" d="M328.8 81.7h2.1v2.0h-2.1z"/>
<path fill="#32CD32" d="M328.8 83.7h2.1v19.5h-2.1z"/>
<path fill="#00FFFF" d="M328.8 103.2h2.1v33.8h-2.1z"/>
<path fill="#A6CEE3" d="M331.0 28.0h2.4v12.1h-2.4z"/>
<path fill="#B22222" d="M331.0 40.1h2.4v8.1h-2.4z"/>
<path fill="#32CD32" d="M331.0 48.1h2.4v9.4h-2.4z"/>
<path fill="#006400" d="M331.0 57.5h2.4v14.8h-2.4z"/>
<path fill="#00FFFF" d="M331.0 72.3h2.4v64.7h-2.4z"/>
<path fill="#A6CEE3" d="M333.4 28.0h2.4v63.1h-2.4z"/>
<path fill="#B22222" d="M333.4 91.1h2.4v24.2h-2.4z"/>
<path fill="#32CD32" d="M333.4 115.3h2.4v21.7h-2.4z"/>
<path fill="#A6CEE3" d="M335.8 28.0h2.4v3.4h-2.4z"/>
<path fill="#006400" d="M335.8 31.4h2.4v2.0h-2.4z"/>
<path fill="#00FFFF" d="M335.8 33.4h2.4v103.6h-2.4z"/>
<path fill="#A6CEE3" d="M338.2 28.0h1.9v85.9h-1.9z"/>
<path fill="#32CD32" d="M338.2 113.9h1.9v23.1h-1.9z"/>
<path fill="#A6CEE3" d="M340.1 28.0h2.1v80.5h-2.1z"/>
<path fill="#B22222" d="M340.1 108.5h2.1v5.4h-2.1z"/>
<path fill="#32CD32" d="M340.1 113.9h2.1v23.1h-2.1z"/>
<path fill="#A6CEE3" d="M342.2 28.0h2.1v2.0h-2.1z"/>
<path fill="#32CD32" d="M342.2 30.0h2.1v1.3h-2.1z"/>
<path fill="#00FFFF" d="M342.2 31.4h2.1v105.6h-2.1z"/>
<path fill="#A6CEE3" d="M344.4 28.0h2.4v37.6h-2.4z"/>
<path fill="#B22222" d="M344.4 65.6h2.4v6.7h-2.4z"/>
<path fill="#32CD32" d="M344.4 72.3h2.4v38.9h-2.4z"/>
<path fill="#006400" d="M344.4 111.2h2.4v8.1h-2.4z"/>
<path fill="#00FFFF" d="M344.4 119.3h2.4v17.7h-2.4z"/>
<path fill="#A6CEE3" d="M346.8 28.0h2.4v25.5h-2.4z"/>
<path fill="#FFB90F" d="M346.8 53.5h2.4v3.4h-2.4z"/>
<path fill="#B22222" d="M346.8 56.9h2.4v6.0h-2.4z"/>
<path fill="#32CD32" d="M346.8 62.9h2.4v12.1h-2.4z"/>
<path fill="#006400" d="M346.8 75.0h2.4v62.0h-2.4z"/>
<path fill="#A020F0" d="M349.2 28.0h2.8v33.6h-2.8z"/>
<path fill="#006400" d="M349.2 61.6h2.8v75.4h-2.8z"/>
<path fill="#A6CEE3" d="M352.0 28.0h1.9v10.7h-1.9z"/>
<path fill="#B22222" d="M352.0 38.7h1.9v4.0h-1.9z"/>
<path fill="#32CD32" d="M352.0 42.8h1.9v4.0h-1.9z"/>
<path fill="#006400" d="M352.0 46.8h1.9v90.2h-1.9z"/>
<path fill="#A6CEE3" d="M353.9 28.0h1.9v5.4h-1.9z"/>
<path fill="#D02090" d="M353.9 33.4h1.9v2.0h-1.9z"/>
<path fill="#B22222" d="M353.9 35.4h1.9v3.4h-1.9z"/>
<path fill="#00FFFF" d="M353.9 38.7h1.9v98.3h-1.9z"/>
<path fill="#A6CEE3" d="M355.8 28.0h2.1v94.0h-2.1z"/>
<path fill="#FF8C00" d="M355.8 122.0h2.1v15.0h-2.1z"/>
<path fill="#A6CEE3" d="M357.9 28.0h2.1v8.1h-2.1z"/>
<path fill="#B22222" d="M357.9 36.1h2.1v6.7h-2.1z"/>
<path fill="#00FFFF" d="M357.9 42.8h2.1v94.2h-2.1z"/>
<path fill="#A6CEE3" d="M360.1 28.0h2.4v12.1h-2.4z"/>
<path fill="#B22222" d="M360.1 40.1h2.4v4.7h-2.4z"/>
<path fill="#32CD32" d="M360.1 44.8h2.4v10.1h-2.4z"/>
<path fill="#3CB371" d="M360.1 54.8h2.4v16.1h-2.4z"/>
<path fill="#00FFFF" d="M360.1 71.0h2.4v66.0h-2.4z"/>
<path fill="#A6CEE3" d="M362.5 28.0h2.4v4.0h-2.4z"/>
<path fill="#006400" d="M362.5 32.0h2.4v5.4h-2.4z"/>
<path fill="#00FFFF" d="M362.5 37.4h2.4v99.6h-2.4z"/>
<path fill="#A6CEE3" d="M364.9 28.0h2.4v13.4h-2.4z"/>
<path fill="#32CD32" d="M364.9 41.4h2.4v12.1h-2.4z"/>
<path fill="#00FFFF" d="M364.9 53.5h2.4v83.5h-2.4z"/>
<path fill="#A6CEE3" d="M367.3 28.0h2.1v13.4h-2.1z"/>
<path fill="#32CD32" d="M367.3 41.4h2.1v8.1h-2.1z"/>
<path fill="#00FFFF" d="M367.3 49.5h2.1v87.5h-2.1z"/>
<path fill="#A6CEE3" d="M369.5 28.0h2.1v6.7h-2.1z"/>
<path fill="#D02090" d="M369.5 34.7h2.1v4.0h-2.1z"/>
<path fill="#00FFFF" d="M369.5 38.7h2.1v98.3h-2.1z"/>
<path fill="#A6CEE3" d="M371.6 28.0h2.4v12.1h-2.4z"/>
<path fill="#FFB90F" d="M371.6 40.1h2.4v9.4h-2.4z"/>
<path fill="#B22222" d="M371.6 49.5h2.4v4.0h-2.4z"/>
<path fill="#32CD32" d="M371.6 53.5h2.4v13.4h-2.4z"/>
<path fill="#3CB371" d="M371.6 66.9h2.4v17.5h-2.4z"/>
<path fill="#00FFFF" d="M371.6 84.4h2.4v52.6h-2.4z"/>
<path fill="#A6CEE3" d="M374.0 28.0h1.9v9.4h-1.9z"/>
<path fill="#32CD32" d="M374.0 37.4h1.9v10.7h-1.9z"/>
<path fill="#00FFFF" d="M374.0 48.1h1.9v88.9h-1.9z"/>
<path fill="#A6CEE3" d="M375.9 28.0h2.4v34.9h-2.4z"/>
<path fill="#D02090" d="M375.9 62.9h2.4v9.4h-2.4z"/>
<path fill="#32CD32" d="M375.9 72.3h2.4v16.1h-2.4z"/>
<path fill="#006400" d="M375.9 88.4h2.4v2.7h-2.4z"/>
<path fill="#00FFFF" d="M375.9 91.1h2.4v45.9h-2.4z"/>
<path fill="#A6CEE3" d="M380.5 28.0h2.4v12.1h-2.4z"/>
<path fill="#FFB90F" d="M380.5 40.1h2.4v2.0h-2.4z"/>
<path fill="#6A5ACD" d="M380.5 42.1h2.4v15.4h-2.4z"/>
<path fill="#D02090" d="M380.5 57.5h2.4v2.7h-2.4z"/>
<path fill="#6B8E23" d="M380.5 60.2h2.4v12.1h-2.4z"/>
<path fill="#32CD32" d="M380.5 72.3h2.4v9.4h-2.4z"/>
<path fill="#006400" d="M380.5 81.7h2.4v5.4h-2.4z"/>
<path fill="#00FFFF" d="M380.5 87.1h2.4v49.9h-2.4z"/>
<path fill="#A6CEE3" d="M385.6 28.0h2.1v9.4h-2.1z"/>
<path fill="#D02090" d="M385.6 37.4h2.1v6.7h-2.1z"/>
<path fill="#32CD32" d="M385.6 44.1h2.1v5.4h-2.1z"/>
<path fill="#00FFFF" d="M385.6 49.5h2.1v87.5h-2.1z"/>
<path fill="#A6CEE3" d="M387.7 28.0h2.4v17.5h-2.4z"/>
<path fill="#6A5ACD" d="M387.7 45.5h2.4v16.1h-2.4z"/>
<path fill="#32CD32" d="M387.7 61.6h2.4v47.0h-2.4z"/>
<path fill="#3CB371" d="M387.7 108.5h2.4v28.5h-2.4z"/>
<path fill="#A6CEE3" d="M390.1 28.0h2.1v4.0h-2.1z"/>
<path fill="#B22222" d="M390.1 32.0h2.1v2.7h-2.1z"/>
<path fill="#32CD32" d="M390.1 34.7h2.1v2.7h-2.1z"/>
<path fill="#00FFFF" d="M390.1 37.4h2.1v99.6h-2.1z"/>
<path fill="#A6CEE3" d="M392.3 28.0h2.4v29.5h-2.4z"/>
<path fill="#FFB90F" d="M392.3 57.5h2.4v2.7h-2.4z"/>
<path fill="#32CD32" d="M392.3 60.2h2.4v32.2h-2.4z"/>
<path fill="#006400" d="M392.3 92.4h2.4v4.0h-2.4z"/>
<path fill="#32CD32" d="M392.3 96.5h2.4v40.5h-2.4z"/>
<path fill="#A6CEE3" d="M394.7 28.0h2.1v85.9h-2.1z"/>
<path fill="#6B8E23" d="M394.7 113.9h2.1v23.1h-2.1z"/>
<path fill="#A6CEE3" d="M396.8 28.0h2.1v8.1h-2.1z"/>
<path fill="#D02090" d="M396.8 36.1h2.1v2.7h-2.1z"/>
<path fill="#32CD32" d="M396.8 38.7h2.1v5.4h-2.1z"/>
<path fill="#00FFFF" d="M396.8 44.1h2.1v92.9h-2.1z"/>
<path fill="#A6CEE3" d="M399.0 28.0h2.4v20.1h-2.4z"/>
<path fill="#FFB90F" d="M399.0 48.1h2.4v5.4h-2.4z"/>
<path fill="#A020F0" d="M399.0 53.5h2.4v3.4h-2.4z"/>
<path fill="#D02090" d="M399.0 56.9h2.4v7.4h-2.4z"/>
<path fill="#32CD32" d="M399.0 64.2h2.4v72.8h-2.4z"/>
<path fill="#A6CEE3" d="M402.5 28.0h5.9v2.0h-5.9z"/>
<path fill="#B22222" d="M402.5 30.0h5.9v2.0h-5.9z"/>
<path fill="#FF8C00" d="M402.5 32.0h5.9v2.0h-5.9z"/>
<path fill="#00FFFF" d="M402.5 34.0h5.9v103.0h-5.9z"/>
<path fill="#A6CEE3" d="M411.1 28.0h4.0v4.0h-4.0z"/>
<path fill="#FFB90F" d="M411.1 32.0h4.0v2.0h-4.0z"/>
<path fill="#6A5ACD" d="M411.1 34.0h4.0v4.7h-4.0z"/>
<path fill="#32CD32" d="M411.1 38.7h4.0v6.7h-4.0z"/>
<path fill="#00FFFF" d="M411.1 45.5h4.0v91.5h-4.0z"/>
<path fill="#FF8C00" d="M289.0 137.0h1.8v4.7h-1.8z"/>
<path fill="#B22222" d="M289.0 141.7h1.8v9.3h-1.8z"/>
<path fill="#D02090" d="M289.0 151.0h1.8v11.6h-1.8z"/>
<path fill="#32CD32" d="M289.0 162.6h1.8v69.8h-1.8z"/>
<path fill="#00FFFF" d="M289.0 232.4h1.8v12.9h-1.8z"/>
<path fill="#3CB371" d="M290.8 137.0h2.8v32.6h-2.8z"/>
<path fill="#32CD32" d="M290.8 169.6h2.8v32.6h-2.8z"/>
<path fill="#006400" d="M290.8 202.2h2.8v14.0h-2.8z"/>
<path fill="#00FFFF" d="M290.8 216.1h2.8v29.2h-2.8zM293.6 137.0h3.7v108.3h-3.7z"/>
<path fill="#32CD32" d="M297.3 137.0h2.3v79.1h-2.3z"/>
<path fill="#006400" d="M297.3 216.1h2.3v11.6h-2.3z"/>
<path fill="#00FFFF" d="M297.3 227.8h2.3v17.5h-2.3zM299.6 137.0h4.7v108.3h-4.7z"/>
<path fill="#A6CEE3" d="M304.3 137.0h2.3v14.0h-2.3z"/>
<path fill="#B22222" d="M304.3 151.0h2.3v32.6h-2.3z"/>
<path fill="#32CD32" d="M304.3 183.5h2.3v48.9h-2.3z"/>
<path fill="#00FFFF" d="M304.3 232.4h2.3v12.9h-2.3zM306.6 137.0h6.5v108.3h-6.5z"/>
<path fill="#32CD32" d="M313.1 137.0h1.9v4.7h-1.9z"/>
<path fill="#006400" d="M313.1 141.7h1.9v2.3h-1.9z"/>
<path fill="#00FFFF" d="M313.1 144.0h1.9v101.3h-1.9zM315.0 137.0h2.8v108.3h-2.8z"/>
<path fill="#A6CEE3" d="M317.8 137.0h1.9v9.3h-1.9z"/>
<path fill="#FFB90F" d="M317.8 146.3h1.9v5.8h-1.9z"/>
<path fill="#32CD32" d="M317.8 152.1h1.9v82.6h-1.9z"/>
<path fill="#006400" d="M317.8 234.7h1.9v3.5h-1.9z"/>
<path fill="#00FFFF" d="M317.8 238.2h1.9v7.1h-1.9zM319.7 137.0h7.4v108.3h-7.4z"/>
<path fill="#006400" d="M327.1 137.0h1.9v23.3h-1.9z"/>
<path fill="#00FFFF" d="M327.1 160.3h1.9v85.0h-1.9zM329.0 137.0h5.1v108.3h-5.1z"/>
<path fill="#3CB371" d="M334.1 137.0h1.9v46.5h-1.9z"/>
<path fill="#00FFFF" d="M334.1 183.5h1.9v61.8h-1.9zM335.9 137.0h2.3v108.3h-2.3z"/>
<path fill="#32CD32" d="M338.3 137.0h1.9v100.1h-1.9z"/>
<path fill="#00FFFF" d="M338.3 237.1h1.9v8.2h-1.9z"/>
<path fill="#32CD32" d="M341.1 137.0h1.9v16.3h-1.9z"/>
<path fill="#00FFFF" d="M341.1 153.3h1.9v92.0h-1.9z"/>
<path fill="#006400" d="M349.7 137.0h2.3v9.3h-2.3z"/>
<path fill="#00FFFF" d="M349.7 146.3h2.3v99.0h-2.3z"/>
<path fill="#006400" d="M352.0 137.0h2.1v57.0h-2.1z"/>
<path fill="#00FFFF" d="M352.0 194.0h2.1v51.3h-2.1z"/>
<path fill="#FF8C00" d="M356.0 137.0h2.3v14.0h-2.3z"/>
<path fill="#6A5ACD" d="M356.0 151.0h2.3v3.5h-2.3z"/>
<path fill="#32CD32" d="M356.0 154.5h2.3v61.7h-2.3z"/>
<path fill="#006400" d="M356.0 216.1h2.3v4.7h-2.3z"/>
<path fill="#00FFFF" d="M356.0 220.8h2.3v24.5h-2.3z"/>
<path fill="#32CD32" d="M388.1 137.0h1.4v2.3h-1.4z"/>
<path fill="#006400" d="M388.1 139.3h1.4v3.5h-1.4z"/>
<path fill="#00FFFF" d="M388.1 142.8h1.4v102.5h-1.4z"/>
<path fill="#6B8E23" d="M394.6 137.0h1.9v88.4h-1.9z"/>
<path fill="#006400" d="M394.6 225.4h1.9v4.7h-1.9z"/>
<path fill="#00FFFF" d="M394.6 230.1h1.9v15.2h-1.9z"/>
<path fill="#3CB371" d="M399.2 137.0h1.9v15.1h-1.9z"/>
<path fill="#00FFFF" d="M399.2 152.1h1.9v93.2h-1.9z"/>
</g>
<g>
<path fill="#A6CEE3" d="M417.8 28.0h126.2v2.1h-126.2z"/>
<path fill="#00FFFF" d="M417.8 30.1h126.2v215.2h-126.2z"/>
<path fill="#A6CEE3" d="M417.8 28.0h1.5v44.3h-1.5z"/>
<path fill="#B22222" d="M417.8 72.3h1.5v4.7h-1.5z"/>
<path fill="#32CD32" d="M417.8 77.0h1.5v60.0h-1.5z"/>
<path fill="#A6CEE3" d="M419.2 28.0h2.1v4.0h-2.1z"/>
<path fill="#32CD32" d="M419.2 32.0h2.1v4.0h-2.1z"/>
<path fill="#006400" d="M419.2 36.1h2.1v36.2h-2.1z"/>
<path fill="#00FFFF" d="M419.2 72.3h2.1v64.7h-2.1z"/>
<path fill="#A6CEE3" d="M421.4 28.0h2.1v99.3h-2.1z"/>
<path fill="#00008B" d="M421.4 127.3h2.1v2.0h-2.1z"/>
<path fill="#FFB90F" d="M421.4 129.3h2.1v4.7h-2.1z"/>
<path fill="#B22222" d="M421.4 134.0h2.1v3.0h-2.1z"/>
<path fill="#A6CEE3" d="M423.5 28.0h2.4v5.4h-2.4z"/>
<path fill="#FF8C00" d="M423.5 33.4h2.4v8.1h-2.4z"/>
<path fill="#A020F0" d="M423.5 41.4h2.4v9.4h-2.4z"/>
<path fill="#6B8E23" d="M423.5 50.8h2.4v5.4h-2.4z"/>
<path fill="#32CD32" d="M423.5 56.2h2.4v21.5h-2.4z"/>
<path fill="#006400" d="M423.5 77.7h2.4v12.1h-2.4z"/>
<path fill="#00FFFF" d="M423.5 89.7h2.4v47.3h-2.4z"/>
<path fill="#A6CEE3" d="M425.9 28.0h2.1v106.0h-2.1z"/>
<path fill="#FFB90F" d="M425.9 134.0h2.1v3.0h-2.1z"/>
<path fill="#A6CEE3" d="M428.1 28.0h2.1v72.5h-2.1z"/>
<path fill="#FF8C00" d="M428.1 100.5h2.1v13.4h-2.1z"/>
<path fill="#B22222" d="M428.1 113.9h2.1v12.1h-2.1z"/>
<path fill="#6A5ACD" d="M428.1 126.0h2.1v5.4h-2.1z"/>
<path fill="#32CD32" d="M428.1 131.4h2.1v5.6h-2.1z"/>
<path fill="#A6CEE3" d="M430.2 28.0h2.7v8.1h-2.7z"/>
<path fill="#32CD32" d="M430.2 36.1h2.7v20.1h-2.7z"/>
<path fill="#006400" d="M430.2 56.2h2.7v64.4h-2.7z"/>
<path fill="#00FFFF" d="M430.2 120.6h2.7v16.4h-2.7z"/>
<path fill="#A6CEE3" d="M432.9 28.0h1.9v106.0h-1.9z"/>
<path fill="#FF8C00" d="M432.9 134.0h1.9v3.0h-1.9z"/>
<path fill="#A6CEE3" d="M434.8 28.0h2.4v17.5h-2.4z"/>
<path fill="#FFB90F" d="M434.8 45.5h2.4v3.4h-2.4z"/>
<path fill="#32CD32" d="M434.8 48.8h2.4v8.7h-2.4z"/>
<path fill="#006400" d="M434.8 57.5h2.4v13.4h-2.4z"/>
<path fill="#00FFFF" d="M434.8 71.0h2.4v66.0h-2.4z"/>
<path fill="#A6CEE3" d="M437.2 28.0h2.4v44.3h-2.4z"/>
<path fill="#FF8C00" d="M437.2 72.3h2.4v22.8h-2.4z"/>
<path fill="#6A5ACD" d="M437.2 95.1h2.4v2.7h-2.4z"/>
<path fill="#32CD32" d="M437.2 97.8h2.4v39.2h-2.4z"/>
<path fill="#A6CEE3" d="M439.6 28.0h2.1v10.1h-2.1z"/>
<path fill="#B22222" d="M439.6 38.1h2.1v2.0h-2.1z"/>
<path fill="#006400" d="M439.6 40.1h2.1v32.2h-2.1z"/>
<path fill="#00FFFF" d="M439.6 72.3h2.1v64.7h-2.1z"/>
<path fill="#A6CEE3" d="M441.8 28.0h2.4v36.2h-2.4z"/>
<path fill="#B22222" d="M441.8 64.2h2.4v9.4h-2.4z"/>
<path fill="#00FFFF" d="M441.8 73.6h2.4v63.4h-2.4z"/>
<path fill="#A6CEE3" d="M444.2 28.0h2.4v41.6h-2.4z"/>
<path fill="#FFB90F" d="M444.2 69.6h2.4v2.7h-2.4z"/>
<path fill="#B22222" d="M444.2 72.3h2.4v9.4h-2.4z"/>
<path fill="#3CB371" d="M444.2 81.7h2.4v21.5h-2.4z"/>
<path fill="#32CD32" d="M444.2 103.2h2.4v33.8h-2.4z"/>
<path fill="#A6CEE3" d="M446.6 28.0h2.1v69.8h-2.1z"/>
<path fill="#32CD32" d="M446.6 97.8h2.1v39.2h-2.1z"/>
<path fill="#A6CEE3" d="M448.8 28.0h2.4v91.3h-2.4z"/>
<path fill="#32CD32" d="M448.8 119.3h2.4v17.7h-2.4z"/>
<path fill="#A6CEE3" d="M451.2 28.0h2.1v92.6h-2.1z"/>
<path fill="#32CD32" d="M451.2 120.6h2.1v16.4h-2.1z"/>
<path fill="#A6CEE3" d="M453.0 28.0h2.1v16.1h-2.1z"/>
<path fill="#B22222" d="M453.0 44.1h2.1v8.1h-2.1z"/>
<path fill="#32CD32" d="M453.0 52.2h2.1v13.4h-2.1z"/>
<path fill="#006400" d="M453.0 65.6h2.1v3.4h-2.1z"/>
<path fill="#00FFFF" d="M453.0 68.9h2.1v68.1h-2.1z"/>
<path fill="#A6CEE3" d="M455.2 28.0h2.4v87.3h-2.4z"/>
<path fill="#FFB90F" d="M455.2 115.3h2.4v5.4h-2.4z"/>
<path fill="#B22222" d="M455.2 120.6h2.4v16.4h-2.4z"/>
<path fill="#A6CEE3" d="M457.6 28.0h2.4v20.8h-2.4z"/>
<path fill="#FFB90F" d="M457.6 48.8h2.4v4.7h-2.4z"/>
<path fill="#32CD32" d="M457.6 53.5h2.4v18.8h-2.4z"/>
<path fill="#00FFFF" d="M457.6 72.3h2.4v64.7h-2.4z"/>
<path fill="#A6CEE3" d="M460.0 28.0h2.1v49.0h-2.1z"/>
<path fill="#00008B" d="M460.0 77.0h2.1v2.0h-2.1z"/>
<path fill="#A020F0" d="M460.0 79.0h2.1v13.4h-2.1z"/>
<path fill="#B22222" d="M460.0 92.4h2.1v6.7h-2.1z"/>
<path fill="#6A5ACD" d="M460.0 99.1h2.1v20.1h-2.1z"/>
<path fill="#B22222" d="M460.0 119.3h2.1v17.7h-2.1z"/>
<path fill="#A6CEE3" d="M462.2 28.0h2.1v30.9h-2.1z"/>
<path fill="#B22222" d="M462.2 58.9h2.1v8.1h-2.1z"/>
<path fill="#32CD32" d="M462.2 66.9h2.1v20.1h-2.1z"/>
<path fill="#00FFFF" d="M462.2 87.1h2.1v49.9h-2.1z"/>
<path fill="#A6CEE3" d="M464.3 28.0h2.4v87.3h-2.4z"/>
<path fill="#32CD32" d="M464.3 115.3h2.4v21.7h-2.4z"/>
<path fill="#A6CEE3" d="M466.7 28.0h2.1v41.6h-2.1z"/>
<path fill="#8B3A2A" d="M466.7 69.6h2.1v17.5h-2.1z"/>
<path fill="#B22222" d="M466.7 87.1h2.1v40.3h-2.1z"/>
<path fill="#6B8E23" d="M466.7 127.3h2.1v9.7h-2.1z"/>
<path fill="#A6CEE3" d="M468.9 28.0h2.1v53.7h-2.1z"/>
<path fill="#FFB90F" d="M468.9 81.7h2.1v2.7h-2.1z"/>
<path fill="#B22222" d="M468.9 84.4h2.1v17.5h-2.1z"/>
<path fill="#32CD32" d="M468.9 101.8h2.1v35.2h-2.1z"/>
<path fill="#A6CEE3" d="M471.0 28.0h2.4v32.2h-2.4z"/>
<path fill="#A020F0" d="M471.0 60.2h2.4v6.7h-2.4z"/>
<path fill="#32CD32" d="M471.0 66.9h2.4v12.1h-2.4z"/>
<path fill="#00FFFF" d="M471.0 79.0h2.4v58.0h-2.4z"/>
<path fill="#A6CEE3" d="M473.5 28.0h2.4v4.7h-2.4z"/>
<path fill="#B22222" d="M473.5 32.7h2.4v2.0h-2.4z"/>
<path fill="#3CB371" d="M473.5 34.7h2.4v5.4h-2.4z"/>
<path fill="#00FFFF" d="M473.5 40.1h2.4v96.9h-2.4z"/>
<path fill="#A6CEE3" d="M475.9 28.0h2.1v57.7h-2.1z"/>
<path fill="#B22222" d="M475.9 85.7h2.1v24.2h-2.1z"/>
<path fill="#32CD32" d="M475.9 109.9h2.1v27.1h-2.1z"/>
<path fill="#A6CEE3" d="M478.0 28.0h2.0v91.3h-2.0z"/>
<path fill="#32CD32" d="M478.0 119.3h2.0v17.7h-2.0z"/>
<path fill="#A6CEE3" d="M480.0 28.0h1.9v14.8h-1.9z"/>
<path fill="#B22222" d="M480.0 42.8h1.9v6.7h-1.9z"/>
<path fill="#32CD32" d="M480.0 49.5h1.9v16.1h-1.9z"/>
<path fill="#006400" d="M480.0 65.6h1.9v26.8h-1.9z"/>
<path fill="#00FFFF" d="M480.0 92.4h1.9v44.6h-1.9z"/>
<path fill="#A6CEE3" d="M481.9 28.0h2.1v8.1h-2.1z"/>
<path fill="#A020F0" d="M481.9 36.1h2.1v4.0h-2.1z"/>
<path fill="#32CD32" d="M481.9 40.1h2.1v4.0h-2.1z"/>
<path fill="#00FFFF" d="M481.9 44.1h2.1v92.9h-2.1z"/>
<path fill="#A6CEE3" d="M484.0 28.0h2.4v22.8h-2.4z"/>
<path fill="#32CD32" d="M484.0 50.8h2.4v21.5h-2.4z"/>
<path fill="#00FFFF" d="M484.0 72.3h2.4v64.7h-2.4z"/>
<path fill="#A6CEE3" d="M486.4 28.0h2.4v32.2h-2.4z"/>
<path fill="#B22222" d="M486.4 60.2h2.4v12.1h-2.4z"/>
<path fill="#6A5ACD" d="M486.4 72.3h2.4v4.0h-2.4z"/>
<path fill="#32CD32" d="M486.4 76.3h2.4v18.8h-2.4z"/>
<path fill="#00FFFF" d="M486.4 95.1h2.4v41.9h-2.4z"/>
<path fill="#A6CEE3" d="M488.9 28.0h2.1v2.0h-2.1z"/>
<path fill="#00FFFF" d="M488.9 30.0h2.1v107.0h-2.1z"/>
<path fill="#A6CEE3" d="M491.0 28.0h2.4v16.8h-2.4z"/>
<path fill="#A020F0" d="M491.0 44.8h2.4v3.4h-2.4z"/>
<path fill="#32CD32" d="M491.0 48.1h2.4v10.7h-2.4z"/>
<path fill="#006400" d="M491.0 58.9h2.4v61.7h-2.4z"/>
<path fill="#00FFFF" d="M491.0 120.6h2.4v16.4h-2.4z"/>
<path fill="#A6CEE3" d="M493.4 28.0h2.4v38.9h-2.4z"/>
<path fill="#00008B" d="M493.4 66.9h2.4v5.4h-2.4z"/>
<path fill="#FFB90F" d="M493.4 72.3h2.4v4.0h-2.4z"/>
<path fill="#A020F0" d="M493.4 76.3h2.4v8.1h-2.4z"/>
<path fill="#32CD32" d="M493.4 84.4h2.4v6.7h-2.4z"/>
<path fill="#006400" d="M493.4 91.1h2.4v10.7h-2.4z"/>
<path fill="#00FFFF" d="M493.4 101.8h2.4v35.2h-2.4z"/>
<path fill="#A6CEE3" d="M495.8 28.0h2.1v73.8h-2.1z"/>
<path fill="#A020F0" d="M495.8 101.8h2.1v18.8h-2.1z"/>
<path fill="#32CD32" d="M495.8 120.6h2.1v16.4h-2.1z"/>
<path fill="#A6CEE3" d="M498.0 28.0h2.4v20.1h-2.4z"/>
<path fill="#B22222" d="M498.0 48.1h2.4v8.1h-2.4z"/>
<path fill="#32CD32" d="M498.0 56.2h2.4v41.6h-2.4z"/>
<path fill="#00FFFF" d="M498.0 97.8h2.4v39.2h-2.4z"/>
<path fill="#A6CEE3" d="M500.4 28.0h2.1v13.4h-2.1z"/>
<path fill="#FFB90F" d="M500.4 41.4h2.1v8.1h-2.1z"/>
<path fill="#32CD32" d="M500.4 49.5h2.1v59.1h-2.1z"/>
<path fill="#00FFFF" d="M500.4 108.5h2.1v28.5h-2.1z"/>
<path fill="#A6CEE3" d="M502.6 28.0h2.1v4.0h-2.1z"/>
<path fill="#32CD32" d="M502.6 32.0h2.1v9.4h-2.1z"/>
<path fill="#00FFFF" d="M502.6 41.4h2.1v95.6h-2.1z"/>
<path fill="#A6CEE3" d="M504.7 28.0h2.4v13.4h-2.4z"/>
<path fill="#006400" d="M504.7 41.4h2.4v49.7h-2.4z"/>
<path fill="#00FFFF" d="M504.7 91.1h2.4v45.9h-2.4z"/>
<path fill="#A6CEE3" d="M507.1 28.0h2.1v4.0h-2.1z"/>
<path fill="#6A5ACD" d="M507.1 32.0h2.1v9.4h-2.1z"/>
<path fill="#00FFFF" d="M507.1 41.4h2.1v95.6h-2.1z"/>
<path fill="#A6CEE3" d="M509.3 28.0h2.4v2.7h-2.4z"/>
<path fill="#D02090" d="M509.3 30.7h2.4v2.0h-2.4z"/>
<path fill="#00FFFF" d="M509.3 32.7h2.4v104.3h-2.4z"/>
<path fill="#A6CEE3" d="M511.7 28.0h2.4v24.8h-2.4z"/>
<path fill="#FFB90F" d="M511.7 52.8h2.4v2.0h-2.4z"/>
<path fill="#A020F0" d="M511.7 54.8h2.4v8.1h-2.4z"/>
<path fill="#32CD32" d="M511.7 62.9h2.4v6.7h-2.4z"/>
<path fill="#00FFFF" d="M511.7 69.6h2.4v67.4h-2.4z"/>
<path fill="#A6CEE3" d="M514.1 28.0h1.9v67.1h-1.9z"/>
<path fill="#6A5ACD" d="M514.1 95.1h1.9v8.1h-1.9z"/>
<path fill="#D02090" d="M514.1 103.2h1.9v12.1h-1.9z"/>
<path fill="#32CD32" d="M514.1 115.3h1.9v21.7h-1.9z"/>
<path fill="#A6CEE3" d="M516.0 28.0h2.1v40.3h-2.1z"/>
<path fill="#D02090" d="M516.0 68.3h2.1v6.7h-2.1z"/>
<path fill="#32CD32" d="M516.0 75.0h2.1v62.0h-2.1z"/>
<path fill="#A6CEE3" d="M518.1 28.0h2.4v3.4h-2.4z"/>
<path fill="#B22222" d="M518.1 31.4h2.4v2.0h-2.4z"/>
<path fill="#00FFFF" d="M518.1 33.4h2.4v103.6h-2.4z"/>
<path fill="#A6CEE3" d="M520.5 28.0h2.4v28.2h-2.4z"/>
<path fill="#32CD32" d="M520.5 56.2h2.4v45.6h-2.4z"/>
<path fill="#00FFFF" d="M520.5 101.8h2.4v35.2h-2.4z"/>
<path fill="#A6CEE3" d="M523.0 28.0h2.4v51.7h-2.4z"/>
<path fill="#FFB90F" d="M523.0 79.7h2.4v3.4h-2.4z"/>
<path fill="#A020F0" d="M523.0 83.0h2.4v4.0h-2.4z"/>
<path fill="#D02090" d="M523.0 87.1h2.4v10.7h-2.4z"/>
<path fill="#32CD32" d="M523.0 97.8h2.4v18.8h-2.4z"/>
<path fill="#00FFFF" d="M523.0 116.6h2.4v20.4h-2.4z"/>
<path fill="#A6CEE3" d="M525.4 28.0h2.1v34.9h-2.1z"/>
<path fill="#6B8E23" d="M525.4 62.9h2.1v18.8h-2.1z"/>
<path fill="#32CD32" d="M525.4 81.7h2.1v29.5h-2.1z"/>
<path fill="#00FFFF" d="M525.4 111.2h2.1v25.8h-2.1z"/>
<path fill="#A6CEE3" d="M527.5 28.0h2.4v5.4h-2.4z"/>
<path fill="#B22222" d="M527.5 33.4h2.4v2.7h-2.4z"/>
<path fill="#32CD32" d="M527.5 36.1h2.4v26.8h-2.4z"/>
<path fill="#00FFFF" d="M527.5 62.9h2.4v74.1h-2.4z"/>
<path fill="#A6CEE3" d="M529.9 28.0h2.1v10.1h-2.1z"/>
<path fill="#D02090" d="M529.9 38.1h2.1v4.7h-2.1z"/>
<path fill="#32CD32" d="M529.9 42.8h2.1v6.7h-2.1z"/>
<path fill="#00FFFF" d="M529.9 49.5h2.1v87.5h-2.1z"/>
<path fill="#A6CEE3" d="M532.1 28.0h1.9v10.7h-1.9z"/>
<path fill="#A020F0" d="M532.1 38.7h1.9v2.7h-1.9z"/>
<path fill="#32CD32" d="M532.1 41.4h1.9v13.4h-1.9z"/>
<path fill="#00FFFF" d="M532.1 54.8h1.9v82.2h-1.9z"/>
<path fill="#A6CEE3" d="M534.0 28.0h2.4v25.5h-2.4z"/>
<path fill="#B22222" d="M534.0 53.5h2.4v2.7h-2.4z"/>
<path fill="#FFB90F" d="M534.0 56.2h2.4v3.4h-2.4z"/>
<path fill="#A020F0" d="M534.0 59.5h2.4v4.0h-2.4z"/>
<path fill="#32CD32" d="M534.0 63.6h2.4v18.1h-2.4z"/>
<path fill="#00FFFF" d="M534.0 81.7h2.4v55.3h-2.4z"/>
<path fill="#A6CEE3" d="M536.4 28.0h2.4v99.3h-2.4z"/>
<path fill="#FF8C00" d="M536.4 127.3h2.4v9.7h-2.4z"/>
<path fill="#A6CEE3" d="M538.8 28.0h1.9v1.3h-1.9z"/>
<path fill="#00FFFF" d="M538.8 29.3h1.9v107.7h-1.9z"/>
<path fill="#A6CEE3" d="M540.7 28.0h3.3v4.0h-3.3z"/>
<path fill="#6A5ACD" d="M540.7 32.0h3.3v2.7h-3.3z"/>
<path fill="#FFB90F" d="M540.7 34.7h3.3v5.4h-3.3z"/>
<path fill="#006400" d="M540.7 40.1h3.3v4.0h-3.3z"/>
<path fill="#00FFFF" d="M540.7 44.1h3.3v92.9h-3.3z"/>
<path fill="#32CD32" d="M417.8 137.0h1.5v9.3h-1.5z"/>
<path fill="#006400" d="M417.8 146.3h1.5v20.9h-1.5z"/>
<path fill="#00FFFF" d="M417.8 167.3h1.5v78.0h-1.5zM419.3 137.0h1.9v108.3h-1.9z"/>
<path fill="#B22222" d="M421.1 137.0h2.3v20.9h-2.3z"/>
<path fill="#32CD32" d="M421.1 157.9h2.3v69.8h-2.3z"/>
<path fill="#006400" d="M421.1 227.8h2.3v2.3h-2.3z"/>
<path fill="#00FFFF" d="M421.1 230.1h2.3v15.2h-2.3zM423.4 137.0h2.3v108.3h-2.3z"/>
<path fill="#FFB90F" d="M425.8 137.0h3.3v3.5h-3.3z"/>
<path fill="#B22222" d="M425.8 140.5h3.3v7.0h-3.3z"/>
<path fill="#32CD32" d="M425.8 147.5h3.3v29.1h-3.3z"/>
<path fill="#006400" d="M425.8 176.6h3.3v10.5h-3.3z"/>
<path fill="#32CD32" d="M425.8 187.0h3.3v19.8h-3.3z"/>
<path fill="#006400" d="M425.8 206.8h3.3v18.6h-3.3z"/>
<path fill="#00FFFF" d="M425.8 225.4h3.3v19.9h-3.3zM429.0 137.0h3.7v108.3h-3.7z"/>
<path fill="#B22222" d="M432.8 137.0h2.3v32.6h-2.3z"/>
<path fill="#32CD32" d="M432.8 169.6h2.3v58.2h-2.3z"/>
<path fill="#00FFFF" d="M432.8 227.8h2.3v17.5h-2.3zM435.1 137.0h2.3v108.3h-2.3z"/>
<path fill="#32CD32" d="M437.4 137.0h1.9v14.0h-1.9z"/>
<path fill="#006400" d="M437.4 151.0h1.9v7.0h-1.9z"/>
<path fill="#00FFFF" d="M437.4 157.9h1.9v87.4h-1.9zM439.3 137.0h4.7v108.3h-4.7z"/>
<path fill="#32CD32" d="M443.9 137.0h3.3v9.3h-3.3z"/>
<path fill="#00FFFF" d="M443.9 146.3h3.3v99.0h-3.3zM447.2 137.0h1.4v108.3h-1.4z"/>
<path fill="#A6CEE3" d="M448.6 137.0h2.3v29.1h-2.3z"/>
<path fill="#FFB90F" d="M448.6 166.1h2.3v11.6h-2.3z"/>
<path fill="#32CD32" d="M448.6 177.7h2.3v54.7h-2.3z"/>
<path fill="#00FFFF" d="M448.6 232.4h2.3v12.9h-2.3zM450.9 137.0h4.7v108.3h-4.7z"/>
<path fill="#B22222" d="M455.6 137.0h2.8v53.5h-2.8z"/>
<path fill="#6A5ACD" d="M455.6 190.5h2.8v3.5h-2.8z"/>
<path fill="#32CD32" d="M455.6 194.0h2.8v51.3h-2.8z"/>
<path fill="#D02090" d="M459.8 137.0h2.3v9.3h-2.3z"/>
<path fill="#32CD32" d="M459.8 146.3h2.3v76.8h-2.3z"/>
<path fill="#00FFFF" d="M459.8 223.1h2.3v22.2h-2.3zM462.1 137.0h2.3v108.3h-2.3z"/>
<path fill="#006400" d="M464.4 137.0h1.9v18.6h-1.9z"/>
<path fill="#00FFFF" d="M464.4 155.6h1.9v89.7h-1.9z"/>
<path fill="#B22222" d="M466.3 137.0h2.8v20.9h-2.8z"/>
<path fill="#6A5ACD" d="M466.3 157.9h2.8v34.9h-2.8z"/>
<path fill="#32CD32" d="M466.3 192.9h2.8v52.4h-2.8zM469.1 137.0h1.9v14.0h-1.9z"/>
<path fill="#00FFFF" d="M469.1 151.0h1.9v94.3h-1.9zM470.9 137.0h6.1v108.3h-6.1z"/>
<path fill="#32CD32" d="M477.0 137.0h2.8v16.3h-2.8z"/>
<path fill="#A6CEE3" d="M477.0 153.3h2.8v10.5h-2.8z"/>
<path fill="#00008B" d="M477.0 163.8h2.8v2.3h-2.8z"/>
<path fill="#FFB90F" d="M477.0 166.1h2.8v2.3h-2.8z"/>
<path fill="#A020F0" d="M477.0 168.4h2.8v3.5h-2.8z"/>
<path fill="#32CD32" d="M477.0 171.9h2.8v55.9h-2.8z"/>
<path fill="#006400" d="M477.0 227.8h2.8v3.5h-2.8z"/>
<path fill="#00FFFF" d="M477.0 231.3h2.8v14.0h-2.8zM479.8 137.0h6.1v108.3h-6.1z"/>
<path fill="#32CD32" d="M496.1 137.0h1.9v68.7h-1.9z"/>
<path fill="#00FFFF" d="M496.1 205.7h1.9v39.6h-1.9z"/>
<path fill="#32CD32" d="M514.7 137.0h2.3v38.4h-2.3z"/>
<path fill="#00FFFF" d="M514.7 175.4h2.3v69.9h-2.3z"/>
<path fill="#3CB371" d="M537.0 137.0h1.9v19.8h-1.9z"/>
<path fill="#00FFFF" d="M537.0 156.8h1.9v88.5h-1.9z"/>
</g>
<g>
<path fill="#A6CEE3" d="M31.5 271.0h126.2v109.0h-126.2z"/>
<path fill="#54FF9F" d="M31.5 380.0h126.2v89.7h-126.2z"/>
<path fill="#00FFFF" d="M31.5 469.7h126.2v18.6h-126.2z"/>
<path fill="#A6CEE3" d="M31.5 271.0h1.9v17.5h-1.9z"/>
<path fill="#B22222" d="M31.5 288.5h1.9v2.7h-1.9z"/>
<path fill="#A020F0" d="M31.5 291.1h1.9v3.4h-1.9z"/>
<path fill="#6495ED" d="M31.5 294.5h1.9v3.4h-1.9z"/>
<path fill="#54FF9F" d="M31.5 297.8h1.9v82.2h-1.9z"/>
<path fill="#A6CEE3" d="M33.4 271.0h2.4v14.8h-2.4z"/>
<path fill="#B22222" d="M33.4 285.8h2.4v3.4h-2.4z"/>
<path fill="#6A5ACD" d="M33.4 289.1h2.4v4.0h-2.4z"/>
<path fill="#FFB90F" d="M33.4 293.1h2.4v10.1h-2.4z"/>
<path fill="#D02090" d="M33.4 303.2h2.4v33.6h-2.4z"/>
<path fill="#54FF9F" d="M33.4 336.8h2.4v9.4h-2.4z"/>
<path fill="#006400" d="M33.4 346.2h2.4v33.8h-2.4z"/>
<path fill="#A6CEE3" d="M35.8 271.0h2.1v67.1h-2.1z"/>
<path fill="#B22222" d="M35.8 338.1h2.1v4.0h-2.1z"/>
<path fill="#54FF9F" d="M35.8 342.1h2.1v37.9h-2.1z"/>
<path fill="#A6CEE3" d="M38.0 271.0h1.9v22.8h-1.9z"/>
<path fill="#B22222" d="M38.0 293.8h1.9v6.7h-1.9z"/>
<path fill="#54FF9F" d="M38.0 300.5h1.9v79.5h-1.9z"/>
<path fill="#A6CEE3" d="M39.9 271.0h2.4v20.1h-2.4z"/>
<path fill="#B22222" d="M39.9 291.1h2.4v32.2h-2.4z"/>
<path fill="#6A5ACD" d="M39.9 323.4h2.4v6.7h-2.4z"/>
<path fill="#54FF9F" d="M39.9 330.1h2.4v49.9h-2.4z"/>
<path fill="#A6CEE3" d="M42.3 271.0h2.7v49.7h-2.7z"/>
<path fill="#B22222" d="M42.3 320.7h2.7v2.0h-2.7z"/>
<path fill="#54FF9F" d="M42.3 322.7h2.7v9.4h-2.7z"/>
<path fill="#006400" d="M42.3 332.1h2.7v47.9h-2.7z"/>
<path fill="#A6CEE3" d="M45.0 271.0h2.1v16.8h-2.1z"/>
<path fill="#FFB90F" d="M45.0 287.8h2.1v2.0h-2.1z"/>
<path fill="#54FF9F" d="M45.0 289.8h2.1v90.2h-2.1z"/>
<path fill="#A6CEE3" d="M47.1 271.0h2.1v32.2h-2.1z"/>
<path fill="#B22222" d="M47.1 303.2h2.1v13.4h-2.1z"/>
<path fill="#54FF9F" d="M47.1 316.6h2.1v63.4h-2.1z"/>
<path fill="#A6CEE3" d="M49.3 271.0h2.4v34.9h-2.4z"/>
<path fill="#B22222" d="M49.3 305.9h2.4v5.4h-2.4z"/>
<path fill="#54FF9F" d="M49.3 311.3h2.4v68.7h-2.4z"/>
<path fill="#A6CEE3" d="M51.7 271.0h2.4v55.0h-2.4z"/>
<path fill="#B22222" d="M51.7 326.0h2.4v54.0h-2.4z"/>
<path fill="#A6CEE3" d="M54.1 271.0h2.1v109.0h-2.1zM56.2 271.0h2.4v75.2h-2.4z"/>
<path fill="#1F78B4" d="M56.2 346.2h2.4v5.4h-2.4z"/>
<path fill="#8B8378" d="M56.2 351.5h2.4v10.7h-2.4z"/>
<path fill="#00008B" d="M56.2 362.3h2.4v2.7h-2.4z"/>
<path fill="#FFB90F" d="M56.2 365.0h2.4v15.0h-2.4z"/>
<path fill="#A6CEE3" d="M58.7 271.0h2.4v17.5h-2.4z"/>
<path fill="#B22222" d="M58.7 288.5h2.4v5.4h-2.4z"/>
<path fill="#54FF9F" d="M58.7 293.8h2.4v86.2h-2.4z"/>
<path fill="#A6CEE3" d="M61.1 271.0h2.1v52.4h-2.1z"/>
<path fill="#FFB90F" d="M61.1 323.4h2.1v5.4h-2.1z"/>
<path fill="#54FF9F" d="M61.1 328.7h2.1v51.3h-2.1z"/>
<path fill="#A6CEE3" d="M63.2 271.0h2.4v4.0h-2.4z"/>
<path fill="#B22222" d="M63.2 275.0h2.4v105.0h-2.4z"/>
<path fill="#A6CEE3" d="M65.6 271.0h1.9v109.0h-1.9zM67.5 271.0h2.4v65.8h-2.4z"/>
<path fill="#B22222" d="M67.5 336.8h2.4v4.0h-2.4z"/>
<path fill="#FFB90F" d="M67.5 340.8h2.4v8.1h-2.4z"/>
<path fill="#A020F0" d="M67.5 348.9h2.4v2.7h-2.4z"/>
<path fill="#404040" d="M67.5 351.5h2.4v5.4h-2.4z"/>
<path fill="#FFB90F" d="M67.5 356.9h2.4v2.7h-2.4z"/>
<path fill="#B22222" d="M67.5 359.6h2.4v13.4h-2.4z"/>
<path fill="#6A5ACD" d="M67.5 373.0h2.4v7.0h-2.4z"/>
<path fill="#A6CEE3" d="M69.9 271.0h2.0v4.0h-2.0z"/>
<path fill="#C0C0C0" d="M69.9 275.0h2.0v61.7h-2.0z"/>
<path fill="#A6CEE3" d="M69.9 336.8h2.0v43.2h-2.0zM71.9 271.0h2.3v87.3h-2.3z"/>
<path fill="#B22222" d="M71.9 358.3h2.3v9.4h-2.3z"/>
<path fill="#A020F0" d="M71.9 367.7h2.3v12.3h-2.3z"/>
<path fill="#A6CEE3" d="M74.2 271.0h2.4v20.1h-2.4z"/>
<path fill="#006400" d="M74.2 291.1h2.4v4.0h-2.4z"/>
<path fill="#54FF9F" d="M74.2 295.2h2.4v6.7h-2.4z"/>
<path fill="#404040" d="M74.2 301.9h2.4v6.7h-2.4z"/>
<path fill="#FF8C00" d="M74.2 308.6h2.4v9.4h-2.4z"/>
<path fill="#A020F0" d="M74.2 318.0h2.4v28.2h-2.4z"/>
<path fill="#32CD32" d="M74.2 346.2h2.4v13.4h-2.4z"/>
<path fill="#006400" d="M74.2 359.6h2.4v20.4h-2.4z"/>
<path fill="#A6CEE3" d="M76.6 271.0h2.4v40.3h-2.4z"/>
<path fill="#FF8C00" d="M76.6 311.3h2.4v68.7h-2.4z"/>
<path fill="#A6CEE3" d="M79.1 271.0h2.1v28.9h-2.1z"/>
<path fill="#FF8C00" d="M79.1 299.9h2.1v80.1h-2.1z"/>
<path fill="#A6CEE3" d="M81.2 271.0h2.1v17.5h-2.1z"/>
<path fill="#8B8378" d="M81.2 288.5h2.1v8.1h-2.1z"/>
<path fill="#00008B" d="M81.2 296.5h2.1v83.5h-2.1z"/>
<path fill="#A6CEE3" d="M83.4 271.0h2.4v72.5h-2.4z"/>
<path fill="#8B3A2A" d="M83.4 343.5h2.4v36.5h-2.4z"/>
<path fill="#A6CEE3" d="M85.8 271.0h2.1v98.0h-2.1z"/>
<path fill="#8B8378" d="M85.8 369.0h2.1v11.0h-2.1z"/>
<path fill="#A6CEE3" d="M87.9 271.0h2.1v92.6h-2.1z"/>
<path fill="#006400" d="M87.9 363.6h2.1v4.0h-2.1z"/>
<path fill="#8B8378" d="M87.9 367.7h2.1v12.3h-2.1z"/>
<path fill="#A6CEE3" d="M90.1 271.0h2.4v30.9h-2.4z"/>
<path fill="#B22222" d="M90.1 301.9h2.4v2.7h-2.4z"/>
<path fill="#A020F0" d="M90.1 304.6h2.4v75.4h-2.4z"/>
<path fill="#A6CEE3" d="M92.5 271.0h2.6v20.1h-2.6z"/>
<path fill="#33A02C" d="M92.5 291.1h2.6v65.8h-2.6z"/>
<path fill="#54FF9F" d="M92.5 356.9h2.6v23.1h-2.6z"/>
<path fill="#A6CEE3" d="M95.0 271.0h1.6v68.5h-1.6z"/>
<path fill="#B22222" d="M95.0 339.5h1.6v40.5h-1.6z"/>
<path fill="#A6CEE3" d="M96.6 271.0h2.4v34.9h-2.4z"/>
<path fill="#B22222" d="M96.6 305.9h2.4v4.0h-2.4z"/>
<path fill="#54FF9F" d="M96.6 309.9h2.4v70.1h-2.4z"/>
<path fill="#A6CEE3" d="M99.0 271.0h2.1v25.5h-2.1z"/>
<path fill="#8B3A2A" d="M99.0 296.5h2.1v10.7h-2.1z"/>
<path fill="#6A5ACD" d="M99.0 307.2h2.1v9.4h-2.1z"/>
<path fill="#B22222" d="M99.0 316.6h2.1v1.3h-2.1z"/>
<path fill="#54FF9F" d="M99.0 318.0h2.1v62.0h-2.1z"/>
<path fill="#A6CEE3" d="M101.2 271.0h2.4v13.4h-2.4z"/>
<path fill="#B22222" d="M101.2 284.4h2.4v4.0h-2.4z"/>
<path fill="#54FF9F" d="M101.2 288.5h2.4v91.5h-2.4z"/>
<path fill="#A6CEE3" d="M103.6 271.0h4.8v5.4h-4.8z"/>
<path fill="#FFB90F" d="M103.6 276.4h4.8v1.3h-4.8z"/>
<path fill="#6A5ACD" d="M103.6 277.7h4.8v17.5h-4.8z"/>
<path fill="#D02090" d="M103.6 295.2h4.8v65.8h-4.8z"/>
<path fill="#00008B" d="M103.6 360.9h4.8v4.0h-4.8z"/>
<path fill="#B22222" d="M103.6 365.0h4.8v5.4h-4.8z"/>
<path fill="#FF8C00" d="M103.6 370.3h4.8v9.7h-4.8z"/>
<path fill="#A6CEE3" d="M108.4 271.0h2.4v94.0h-2.4z"/>
<path fill="#FF8C00" d="M108.4 365.0h2.4v15.0h-2.4z"/>
<path fill="#A6CEE3" d="M110.8 271.0h2.1v91.3h-2.1z"/>
<path fill="#D02090" d="M110.8 362.3h2.1v8.1h-2.1z"/>
<path fill="#A020F0" d="M110.8 370.3h2.1v9.7h-2.1z"/>
<path fill="#A6CEE3" d="M113.0 271.0h1.9v94.0h-1.9z"/>
<path fill="#FF8C00" d="M113.0 365.0h1.9v15.0h-1.9z"/>
<path fill="#A6CEE3" d="M114.9 271.0h2.4v21.5h-2.4z"/>
<path fill="#B22222" d="M114.9 292.5h2.4v2.7h-2.4z"/>
<path fill="#6A5ACD" d="M114.9 295.2h2.4v2.7h-2.4z"/>
<path fill="#FFB90F" d="M114.9 297.8h2.4v4.0h-2.4z"/>
<path fill="#D02090" d="M114.9 301.9h2.4v6.0h-2.4z"/>
<path fill="#54FF9F" d="M114.9 307.9h2.4v10.1h-2.4z"/>
<path fill="#006400" d="M114.9 318.0h2.4v62.0h-2.4z"/>
<path fill="#A6CEE3" d="M117.3 271.0h2.4v72.5h-2.4z"/>
<path fill="#FB9A99" d="M117.3 343.5h2.4v13.4h-2.4z"/>
<path fill="#A020F0" d="M117.3 356.9h2.4v23.1h-2.4z"/>
<path fill="#A6CEE3" d="M119.7 271.0h2.1v32.2h-2.1z"/>
<path fill="#FFB90F" d="M119.7 303.2h2.1v2.7h-2.1z"/>
<path fill="#33A02C" d="M119.7 305.9h2.1v74.1h-2.1z"/>
<path fill="#A6CEE3" d="M121.8 271.0h2.1v94.0h-2.1z"/>
<path fill="#54FF9F" d="M121.8 365.0h2.1v15.0h-2.1z"/>
<path fill="#A6CEE3" d="M124.0 271.0h2.4v11.4h-2.4z"/>
<path fill="#FDBF6F" d="M124.0 282.4h2.4v87.9h-2.4z"/>
<path fill="#54FF9F" d="M124.0 370.3h2.4v9.7h-2.4z"/>
<path fill="#A6CEE3" d="M126.4 271.0h2.1v61.7h-2.1z"/>
<path fill="#FFB90F" d="M126.4 332.7h2.1v2.7h-2.1z"/>
<path fill="#6A5ACD" d="M126.4 335.4h2.1v10.7h-2.1z"/>
<path fill="#D02090" d="M126.4 346.2h2.1v2.0h-2.1z"/>
<path fill="#32CD32" d="M126.4 348.2h2.1v11.4h-2.1z"/>
<path fill="#6B8E23" d="M126.4 359.6h2.1v20.4h-2.1z"/>
<path fill="#A6CEE3" d="M128.6 271.0h2.1v99.3h-2.1z"/>
<path fill="#6495ED" d="M128.6 370.3h2.1v9.7h-2.1z"/>
<path fill="#A6CEE3" d="M130.7 271.0h2.4v11.4h-2.4z"/>
<path fill="#B22222" d="M130.7 282.4h2.4v2.0h-2.4z"/>
<path fill="#404040" d="M130.7 284.4h2.4v14.8h-2.4z"/>
<path fill="#6495ED" d="M130.7 299.2h2.4v80.8h-2.4z"/>
<path fill="#A6CEE3" d="M133.1 271.0h2.1v84.6h-2.1z"/>
<path fill="#B22222" d="M133.1 355.6h2.1v2.7h-2.1z"/>
<path fill="#7FFFD4" d="M133.1 358.3h2.1v6.7h-2.1z"/>
<path fill="#A6CEE3" d="M133.1 365.0h2.1v4.0h-2.1z"/>
<path fill="#FF8C00" d="M133.1 369.0h2.1v9.4h-2.1z"/>
<path fill="#B22222" d="M133.1 378.4h2.1v1.6h-2.1z"/>
<path fill="#A6CEE3" d="M135.3 271.0h2.4v38.9h-2.4z"/>
<path fill="#404040" d="M135.3 309.9h2.4v49.7h-2.4z"/>
<path fill="#6495ED" d="M135.3 359.6h2.4v20.4h-2.4z"/>
<path fill="#A6CEE3" d="M137.7 271.0h2.1v109.0h-2.1zM139.8 271.0h2.1v1.3h-2.1z"/>
<path fill="#006400" d="M139.8 272.3h2.1v77.9h-2.1z"/>
<path fill="#00FFFF" d="M139.8 350.2h2.1v29.8h-2.1z"/>
<path fill="#A6CEE3" d="M142.0 271.0h2.4v40.3h-2.4z"/>
<path fill="#CD0000" d="M142.0 311.3h2.4v4.0h-2.4z"/>
<path fill="#6A5ACD" d="M142.0 315.3h2.4v6.7h-2.4z"/>
<path fill="#32CD32" d="M142.0 322.0h2.4v28.2h-2.4z"/>
<path fill="#00FFFF" d="M142.0 350.2h2.4v29.8h-2.4z"/>
<path fill="#A6CEE3" d="M144.4 271.0h2.1v109.0h-2.1zM146.5 271.0h2.1v13.4h-2.1z"/>
<path fill="#A8E3D6" d="M146.5 284.4h2.1v95.6h-2.1z"/>
<path fill="#A6CEE3" d="M148.7 271.0h2.4v87.3h-2.4z"/>
<path fill="#6A5ACD" d="M148.7 358.3h2.4v4.0h-2.4z"/>
<path fill="#FFB90F" d="M148.7 362.3h2.4v6.7h-2.4z"/>
<path fill="#A020F0" d="M148.7 369.0h2.4v11.0h-2.4z"/>
<path fill="#A6CEE3" d="M151.1 271.0h3.8v109.0h-3.8zM154.9 271.0h2.8v64.4h-2.8z"/>
<path fill="#00008B" d="M154.9 335.4h2.8v12.1h-2.8z"/>
<path fill="#FFB90F" d="M154.9 347.5h2.8v24.2h-2.8z"/>
<path fill="#6A5ACD" d="M154.9 371.7h2.8v2.7h-2.8z"/>
<path fill="#54FF9F" d="M154.9 374.4h2.8v5.6h-2.8zM31.5 380.0h2.1v33.6h-2.1z"/>
<path fill="#00FFFF" d="M31.5 413.6h2.1v74.7h-2.1z"/>
<path fill="#006400" d="M33.7 380.0h2.1v32.2h-2.1z"/>
<path fill="#00FFFF" d="M33.7 412.2h2.1v76.1h-2.1z"/>
<path fill="#54FF9F" d="M35.8 380.0h2.1v53.7h-2.1z"/>
<path fill="#6B8E23" d="M35.8 433.7h2.1v40.3h-2.1z"/>
<path fill="#00FFFF" d="M35.8 474.0h2.1v14.3h-2.1z"/>
<path fill="#54FF9F" d="M38.0 380.0h2.1v94.0h-2.1z"/>
<path fill="#6B8E23" d="M38.0 474.0h2.1v10.7h-2.1z"/>
<path fill="#00FFFF" d="M38.0 484.7h2.1v3.6h-2.1z"/>
<path fill="#54FF9F" d="M40.1 380.0h2.1v75.2h-2.1z"/>
<path fill="#00FFFF" d="M40.1 455.2h2.1v33.1h-2.1z"/>
<path fill="#006400" d="M42.3 380.0h2.1v2.0h-2.1z"/>
<path fill="#00FFFF" d="M42.3 382.0h2.1v106.3h-2.1z"/>
<path fill="#54FF9F" d="M44.4 380.0h2.4v92.6h-2.4z"/>
<path fill="#00FFFF" d="M44.4 472.6h2.4v15.7h-2.4z"/>
<path fill="#54FF9F" d="M46.8 380.0h2.4v94.0h-2.4z"/>
<path fill="#6B8E23" d="M46.8 474.0h2.4v12.1h-2.4z"/>
<path fill="#00FFFF" d="M46.8 486.0h2.4v2.3h-2.4z"/>
<path fill="#54FF9F" d="M49.3 380.0h2.4v85.9h-2.4z"/>
<path fill="#00FFFF" d="M49.3 465.9h2.4v22.4h-2.4z"/>
<path fill="#B22222" d="M51.7 380.0h2.1v6.7h-2.1z"/>
<path fill="#A020F0" d="M51.7 386.7h2.1v8.1h-2.1z"/>
<path fill="#D02090" d="M51.7 394.8h2.1v16.1h-2.1z"/>
<path fill="#FFB90F" d="M51.7 410.9h2.1v2.7h-2.1z"/>
<path fill="#6A5ACD" d="M51.7 413.6h2.1v10.7h-2.1z"/>
<path fill="#D02090" d="M51.7 424.3h2.1v5.4h-2.1z"/>
<path fill="#6B8E23" d="M51.7 429.7h2.1v25.5h-2.1z"/>
<path fill="#006400" d="M51.7 455.2h2.1v12.1h-2.1z"/>
<path fill="#32CD32" d="M51.7 467.3h2.1v9.4h-2.1z"/>
<path fill="#00FFFF" d="M51.7 476.7h2.1v11.6h-2.1z"/>
<path fill="#A6CEE3" d="M53.8 380.0h2.4v4.0h-2.4z"/>
<path fill="#FFB90F" d="M53.8 384.0h2.4v2.0h-2.4z"/>
<path fill="#A020F0" d="M53.8 386.0h2.4v20.8h-2.4z"/>
<path fill="#B22222" d="M53.8 406.8h2.4v5.4h-2.4z"/>
<path fill="#6A5ACD" d="M53.8 412.2h2.4v12.1h-2.4z"/>
<path fill="#54FF9F" d="M53.8 424.3h2.4v49.7h-2.4z"/>
<path fill="#00FFFF" d="M53.8 474.0h2.4v14.3h-2.4z"/>
<path fill="#FFB90F" d="M56.2 380.0h2.4v4.0h-2.4z"/>
<path fill="#54FF9F" d="M56.2 384.0h2.4v71.1h-2.4z"/>
<path fill="#3CB371" d="M56.2 455.2h2.4v24.2h-2.4z"/>
<path fill="#00FFFF" d="M56.2 479.3h2.4v9.0h-2.4z"/>
<path fill="#54FF9F" d="M58.7 380.0h2.4v85.9h-2.4z"/>
<path fill="#3CB371" d="M58.7 465.9h2.4v8.1h-2.4z"/>
<path fill="#00FFFF" d="M58.7 474.0h2.4v14.3h-2.4z"/>
<path fill="#54FF9F" d="M61.1 380.0h2.1v75.2h-2.1z"/>
<path fill="#32CD32" d="M61.1 455.2h2.1v18.8h-2.1z"/>
<path fill="#00FFFF" d="M61.1 474.0h2.1v14.3h-2.1z"/>
<path fill="#B22222" d="M63.2 380.0h2.1v94.0h-2.1z"/>
<path fill="#00FFFF" d="M63.2 474.0h2.1v14.3h-2.1z"/>
<path fill="#A6CEE3" d="M65.4 380.0h2.1v13.4h-2.1z"/>
<path fill="#B22222" d="M65.4 393.4h2.1v4.0h-2.1z"/>
<path fill="#D02090" d="M65.4 397.5h2.1v8.1h-2.1z"/>
<path fill="#FFB90F" d="M65.4 405.5h2.1v4.0h-2.1z"/>
<path fill="#D02090" d="M65.4 409.5h2.1v4.0h-2.1z"/>
<path fill="#54FF9F" d="M65.4 413.6h2.1v41.6h-2.1z"/>
<path fill="#006400" d="M65.4 455.2h2.1v13.4h-2.1z"/>
<path fill="#00FFFF" d="M65.4 468.6h2.1v19.7h-2.1z"/>
<path fill="#6A5ACD" d="M67.5 380.0h2.4v13.4h-2.4z"/>
<path fill="#54FF9F" d="M67.5 393.4h2.4v80.5h-2.4z"/>
<path fill="#00FFFF" d="M67.5 474.0h2.4v14.3h-2.4z"/>
<path fill="#C0C0C0" d="M69.9 380.0h2.1v99.3h-2.1z"/>
<path fill="#00FFFF" d="M69.9 479.3h2.1v5.4h-2.1z"/>
<path fill="#B22222" d="M69.9 484.7h2.1v2.7h-2.1z"/>
<path fill="#00FFFF" d="M69.9 487.4h2.1v0.9h-2.1z"/>
<path fill="#A020F0" d="M72.1 380.0h2.1v8.1h-2.1z"/>
<path fill="#B22222" d="M72.1 388.1h2.1v2.7h-2.1z"/>
<path fill="#6A5ACD" d="M72.1 390.7h2.1v29.5h-2.1z"/>
<path fill="#54FF9F" d="M72.1 420.3h2.1v53.7h-2.1z"/>
<path fill="#00FFFF" d="M72.1 474.0h2.1v14.3h-2.1z"/>
<path fill="#54FF9F" d="M74.2 380.0h2.1v94.0h-2.1z"/>
<path fill="#006400" d="M74.2 474.0h2.1v2.7h-2.1z"/>
<path fill="#00FFFF" d="M74.2 476.7h2.1v11.6h-2.1z"/>
<path fill="#FF8C00" d="M76.4 380.0h2.4v47.0h-2.4z"/>
<path fill="#B22222" d="M76.4 427.0h2.4v9.4h-2.4z"/>
<path fill="#32CD32" d="M76.4 436.4h2.4v20.1h-2.4z"/>
<path fill="#006400" d="M76.4 456.5h2.4v16.1h-2.4z"/>
<path fill="#00FFFF" d="M76.4 472.6h2.4v15.7h-2.4z"/>
<path fill="#FF8C00" d="M78.8 380.0h2.4v75.2h-2.4z"/>
<path fill="#32CD32" d="M78.8 455.2h2.4v5.4h-2.4z"/>
<path fill="#006400" d="M78.8 460.5h2.4v13.4h-2.4z"/>
<path fill="#00FFFF" d="M78.8 474.0h2.4v14.3h-2.4z"/>
<path fill="#00008B" d="M81.2 380.0h2.4v94.0h-2.4z"/>
<path fill="#00FFFF" d="M81.2 474.0h2.4v14.3h-2.4z"/>
<path fill="#6495ED" d="M83.6 380.0h2.4v69.8h-2.4z"/>
<path fill="#D02090" d="M83.6 449.8h2.4v8.1h-2.4z"/>
<path fill="#32CD32" d="M83.6 457.9h2.4v16.1h-2.4z"/>
<path fill="#6B8E23" d="M83.6 474.0h2.4v10.7h-2.4z"/>
<path fill="#00FFFF" d="M83.6 484.7h2.4v3.6h-2.4z"/>
<path fill="#8B8378" d="M86.0 380.0h1.9v67.1h-1.9z"/>
<path fill="#A020F0" d="M86.0 447.1h1.9v8.1h-1.9z"/>
<path fill="#32CD32" d="M86.0 455.2h1.9v18.8h-1.9z"/>
<path fill="#6B8E23" d="M86.0 474.0h1.9v10.7h-1.9z"/>
<path fill="#00FFFF" d="M86.0 484.7h1.9v3.6h-1.9z"/>
<path fill="#FF8C00" d="M87.9 380.0h2.1v69.8h-2.1z"/>
<path fill="#D02090" d="M87.9 449.8h2.1v10.7h-2.1z"/>
<path fill="#32CD32" d="M87.9 460.5h2.1v13.4h-2.1z"/>
<path fill="#6B8E23" d="M87.9 474.0h2.1v12.1h-2.1z"/>
<path fill="#00FFFF" d="M87.9 486.0h2.1v2.3h-2.1z"/>
<path fill="#A020F0" d="M90.1 380.0h2.4v26.8h-2.4z"/>
<path fill="#B22222" d="M90.1 406.8h2.4v8.1h-2.4z"/>
<path fill="#6A5ACD" d="M90.1 414.9h2.4v9.4h-2.4z"/>
<path fill="#54FF9F" d="M90.1 424.3h2.4v25.5h-2.4z"/>
<path fill="#D02090" d="M90.1 449.8h2.4v13.4h-2.4z"/>
<path fill="#32CD32" d="M90.1 463.2h2.4v2.7h-2.4z"/>
<path fill="#006400" d="M90.1 465.9h2.4v8.1h-2.4z"/>
<path fill="#00FFFF" d="M90.1 474.0h2.4v14.3h-2.4z"/>
<path fill="#54FF9F" d="M92.5 380.0h2.6v69.8h-2.6z"/>
<path fill="#D02090" d="M92.5 449.8h2.6v10.7h-2.6z"/>
<path fill="#32CD32" d="M92.5 460.5h2.6v13.4h-2.6z"/>
<path fill="#00FFFF" d="M92.5 474.0h2.6v14.3h-2.6z"/>
<path fill="#B22222" d="M95.0 380.0h1.9v5.4h-1.9z"/>
<path fill="#3CB371" d="M95.0 385.4h1.9v63.1h-1.9z"/>
<path fill="#00FFFF" d="M95.0 448.5h1.9v39.8h-1.9z"/>
<path fill="#54FF9F" d="M96.9 380.0h2.1v94.0h-2.1z"/>
<path fill="#6B8E23" d="M96.9 474.0h2.1v10.7h-2.1z"/>
<path fill="#00FFFF" d="M96.9 484.7h2.1v3.6h-2.1z"/>
<path fill="#54FF9F" d="M99.0 380.0h2.4v99.3h-2.4z"/>
<path fill="#6B8E23" d="M99.0 479.3h2.4v5.4h-2.4z"/>
<path fill="#00FFFF" d="M99.0 484.7h2.4v3.6h-2.4z"/>
<path fill="#54FF9F" d="M101.4 380.0h2.4v75.2h-2.4z"/>
<path fill="#00FFFF" d="M101.4 455.2h2.4v33.1h-2.4z"/>
<path fill="#D02090" d="M103.9 380.0h2.4v2.7h-2.4z"/>
<path fill="#6A5ACD" d="M103.9 382.7h2.4v14.8h-2.4z"/>
<path fill="#FF8C00" d="M103.9 397.5h2.4v2.7h-2.4z"/>
<path fill="#006400" d="M103.9 400.1h2.4v67.1h-2.4z"/>
<path fill="#00FFFF" d="M103.9 467.3h2.4v21.0h-2.4z"/>
<path fill="#FF8C00" d="M106.3 380.0h2.1v17.5h-2.1z"/>
<path fill="#6A5ACD" d="M106.3 397.5h2.1v2.7h-2.1z"/>
<path fill="#006400" d="M106.3 400.1h2.1v72.5h-2.1z"/>
<path fill="#00FFFF" d="M106.3 472.6h2.1v15.7h-2.1z"/>
<path fill="#B22222" d="M108.4 380.0h2.4v5.4h-2.4z"/>
<path fill="#A020F0" d="M108.4 385.4h2.4v12.1h-2.4z"/>
<path fill="#D02090" d="M108.4 397.5h2.4v28.2h-2.4z"/>
<path fill="#6A5ACD" d="M108.4 425.6h2.4v24.2h-2.4z"/>
<path fill="#D02090" d="M108.4 449.8h2.4v9.4h-2.4z"/>
<path fill="#006400" d="M108.4 459.2h2.4v17.5h-2.4z"/>
<path fill="#00FFFF" d="M108.4 476.7h2.4v11.6h-2.4z"/>
<path fill="#A020F0" d="M110.8 380.0h2.1v17.5h-2.1z"/>
<path fill="#6A5ACD" d="M110.8 397.5h2.1v33.6h-2.1z"/>
<path fill="#00FF7F" d="M110.8 431.0h2.1v43.0h-2.1z"/>
<path fill="#00FFFF" d="M110.8 474.0h2.1v14.3h-2.1z"/>
<path fill="#B22222" d="M113.0 380.0h2.1v12.1h-2.1z"/>
<path fill="#32CD32" d="M113.0 392.1h2.1v44.3h-2.1z"/>
<path fill="#00FF7F" d="M113.0 436.4h2.1v37.6h-2.1z"/>
<path fill="#00FFFF" d="M113.0 474.0h2.1v14.3h-2.1z"/>
<path fill="#A6CEE3" d="M115.1 380.0h2.1v5.4h-2.1z"/>
<path fill="#006400" d="M115.1 385.4h2.1v88.6h-2.1z"/>
<path fill="#00FFFF" d="M115.1 474.0h2.1v14.3h-2.1z"/>
<path fill="#32CD32" d="M117.3 380.0h2.1v75.2h-2.1z"/>
<path fill="#A020F0" d="M117.3 455.2h2.1v18.8h-2.1z"/>
<path fill="#00FFFF" d="M117.3 474.0h2.1v14.3h-2.1z"/>
<path fill="#A6CEE3" d="M119.4 380.0h2.4v2.7h-2.4z"/>
<path fill="#FFB90F" d="M119.4 382.7h2.4v6.7h-2.4z"/>
<path fill="#32CD32" d="M119.4 389.4h2.4v44.3h-2.4z"/>
<path fill="#00FF7F" d="M119.4 433.7h2.4v43.0h-2.4z"/>
<path fill="#00FFFF" d="M119.4 476.7h2.4v11.6h-2.4z"/>
<path fill="#54FF9F" d="M121.8 380.0h2.1v99.3h-2.1z"/>
<path fill="#00FFFF" d="M121.8 479.3h2.1v9.0h-2.1z"/>
<path fill="#8B8378" d="M124.0 380.0h2.1v17.5h-2.1z"/>
<path fill="#B22222" d="M124.0 397.5h2.1v45.6h-2.1z"/>
<path fill="#A020F0" d="M124.0 443.1h2.1v45.2h-2.1z"/>
<path fill="#404040" d="M126.1 380.0h2.4v6.7h-2.4z"/>
<path fill="#B22222" d="M126.1 386.7h2.4v4.0h-2.4z"/>
<path fill="#00FFFF" d="M126.1 390.7h2.4v97.6h-2.4z"/>
<path fill="#FFB90F" d="M128.6 380.0h2.1v4.0h-2.1z"/>
<path fill="#B22222" d="M128.6 384.0h2.1v8.1h-2.1z"/>
<path fill="#D02090" d="M128.6 392.1h2.1v17.5h-2.1z"/>
<path fill="#32CD32" d="M128.6 409.5h2.1v75.2h-2.1z"/>
<path fill="#00FFFF" d="M128.6 484.7h2.1v3.6h-2.1z"/>
<path fill="#B22222" d="M130.7 380.0h2.4v4.0h-2.4z"/>
<path fill="#A6CEE3" d="M130.7 384.0h2.4v9.4h-2.4z"/>
<path fill="#6495ED" d="M130.7 393.4h2.4v77.9h-2.4z"/>
<path fill="#FFB90F" d="M130.7 471.3h2.4v2.7h-2.4z"/>
<path fill="#32CD32" d="M130.7 474.0h2.4v10.7h-2.4z"/>
<path fill="#00FFFF" d="M130.7 484.7h2.4v3.6h-2.4z"/>
<path fill="#FFB90F" d="M133.1 380.0h2.1v2.7h-2.1z"/>
<path fill="#B22222" d="M133.1 382.7h2.1v4.0h-2.1z"/>
<path fill="#32CD32" d="M133.1 386.7h2.1v40.3h-2.1z"/>
<path fill="#006400" d="M133.1 427.0h2.1v57.7h-2.1z"/>
<path fill="#00FFFF" d="M133.1 484.7h2.1v3.6h-2.1z"/>
<path fill="#A6CEE3" d="M135.3 380.0h2.4v22.8h-2.4z"/>
<path fill="#00008B" d="M135.3 402.8h2.4v5.4h-2.4z"/>
<path fill="#6A5ACD" d="M135.3 408.2h2.4v20.1h-2.4z"/>
<path fill="#32CD32" d="M135.3 428.3h2.4v40.3h-2.4z"/>
<path fill="#00FFFF" d="M135.3 468.6h2.4v19.7h-2.4z"/>
<path fill="#A6CEE3" d="M137.7 380.0h2.1v8.1h-2.1z"/>
<path fill="#3CB371" d="M137.7 388.1h2.1v43.0h-2.1z"/>
<path fill="#00FFFF" d="M137.7 431.0h2.1v57.3h-2.1z"/>
<path fill="#006400" d="M139.8 380.0h2.1v51.0h-2.1z"/>
<path fill="#00FFFF" d="M139.8 431.0h2.1v57.3h-2.1z"/>
<path fill="#A6CEE3" d="M142.0 380.0h2.1v40.3h-2.1z"/>
<path fill="#00FFFF" d="M142.0 420.3h2.1v68.0h-2.1z"/>
<path fill="#A6CEE3" d="M144.1 380.0h2.4v44.3h-2.4z"/>
<path fill="#3CB371" d="M144.1 424.3h2.4v60.4h-2.4z"/>
<path fill="#00FFFF" d="M144.1 484.7h2.4v3.6h-2.4z"/>
<path fill="#A6CEE3" d="M146.5 380.0h2.1v28.2h-2.1z"/>
<path fill="#B22222" d="M146.5 408.2h2.1v10.7h-2.1z"/>
<path fill="#6A5ACD" d="M146.5 418.9h2.1v9.4h-2.1z"/>
<path fill="#32CD32" d="M146.5 428.3h2.1v56.4h-2.1z"/>
<path fill="#00FFFF" d="M146.5 484.7h2.1v3.6h-2.1z"/>
<path fill="#A020F0" d="M148.7 380.0h2.4v10.7h-2.4z"/>
<path fill="#D02090" d="M148.7 390.7h2.4v10.7h-2.4z"/>
<path fill="#32CD32" d="M148.7 401.5h2.4v83.2h-2.4z"/>
<path fill="#00FFFF" d="M148.7 484.7h2.4v3.6h-2.4z"/>
<path fill="#A6CEE3" d="M151.1 380.0h2.4v13.4h-2.4z"/>
<path fill="#D02090" d="M151.1 393.4h2.4v6.7h-2.4z"/>
<path fill="#32CD32" d="M151.1 400.1h2.4v84.6h-2.4z"/>
<path fill="#00FFFF" d="M151.1 484.7h2.4v3.6h-2.4z"/>
<path fill="#A6CEE3" d="M153.5 380.0h2.1v34.9h-2.1z"/>
<path fill="#B22222" d="M153.5 414.9h2.1v2.7h-2.1z"/>
<path fill="#32CD32" d="M153.5 417.6h2.1v67.1h-2.1z"/>
<path fill="#00FFFF" d="M153.5 484.7h2.1v3.6h-2.1z"/>
<path fill="#A6CEE3" d="M155.7 380.0h2.0v17.5h-2.0z"/>
<path fill="#FF8C00" d="M155.7 397.5h2.0v5.4h-2.0z"/>
<path fill="#32CD32" d="M155.7 402.8h2.0v83.2h-2.0z"/>
<path fill="#00FFFF" d="M155.7 486.0h2.0v2.3h-2.0z"/>
</g>
<g>
<path fill="#A6CEE3" d="M160.2 271.0h126.2v5.4h-126.2z"/>
<path fill="#00FFFF" d="M160.2 276.4h126.2v211.9h-126.2z"/>
<path fill="#FFFFFF" d="M160.2 271.0h0.0v109.0h-0.0z"/>
<path fill="#A6CEE3" d="M160.3 271.0h1.6v14.8h-1.6z"/>
<path fill="#A020F0" d="M160.3 285.8h1.6v2.7h-1.6z"/>
<path fill="#54FF9F" d="M160.3 288.5h1.6v91.5h-1.6z"/>
<path fill="#A6CEE3" d="M161.9 271.0h2.1v9.4h-2.1z"/>
<path fill="#A020F0" d="M161.9 280.4h2.1v5.4h-2.1z"/>
<path fill="#D02090" d="M161.9 285.8h2.1v44.3h-2.1z"/>
<path fill="#54FF9F" d="M161.9 330.1h2.1v2.7h-2.1z"/>
<path fill="#006400" d="M161.9 332.7h2.1v47.3h-2.1z"/>
<path fill="#A6CEE3" d="M164.0 271.0h2.4v2.7h-2.4z"/>
<path fill="#54FF9F" d="M164.0 273.7h2.4v17.5h-2.4z"/>
<path fill="#00FFFF" d="M164.0 291.1h2.4v88.9h-2.4z"/>
<path fill="#A6CEE3" d="M166.4 271.0h2.4v4.0h-2.4z"/>
<path fill="#54FF9F" d="M166.4 275.0h2.4v12.1h-2.4z"/>
<path fill="#33A02C" d="M166.4 287.1h2.4v13.4h-2.4z"/>
<path fill="#00FFFF" d="M166.4 300.5h2.4v79.5h-2.4z"/>
<path fill="#A6CEE3" d="M168.9 271.0h2.4v4.0h-2.4z"/>
<path fill="#54FF9F" d="M168.9 275.0h2.4v4.0h-2.4z"/>
<path fill="#006400" d="M168.9 279.1h2.4v77.9h-2.4z"/>
<path fill="#00FFFF" d="M168.9 356.9h2.4v23.1h-2.4z"/>
<path fill="#A6CEE3" d="M171.3 271.0h2.4v6.7h-2.4z"/>
<path fill="#A020F0" d="M171.3 277.7h2.4v2.7h-2.4z"/>
<path fill="#006400" d="M171.3 280.4h2.4v99.6h-2.4z"/>
<path fill="#A6CEE3" d="M173.7 271.0h2.1v2.7h-2.1z"/>
<path fill="#54FF9F" d="M173.7 273.7h2.1v37.6h-2.1z"/>
<path fill="#006400" d="M173.7 311.3h2.1v45.6h-2.1z"/>
<path fill="#00FFFF" d="M173.7 356.9h2.1v23.1h-2.1z"/>
<path fill="#A6CEE3" d="M175.8 271.0h2.4v2.0h-2.4z"/>
<path fill="#54FF9F" d="M175.8 273.0h2.4v15.4h-2.4z"/>
<path fill="#00FFFF" d="M175.8 288.5h2.4v57.7h-2.4z"/>
<path fill="#006400" d="M175.8 346.2h2.4v4.0h-2.4z"/>
<path fill="#00FFFF" d="M175.8 350.2h2.4v29.8h-2.4z"/>
<path fill="#A6CEE3" d="M178.3 271.0h2.1v2.0h-2.1z"/>
<path fill="#54FF9F" d="M178.3 273.0h2.1v73.2h-2.1z"/>
<path fill="#006400" d="M178.3 346.2h2.1v4.0h-2.1z"/>
<path fill="#00FFFF" d="M178.3 350.2h2.1v29.8h-2.1z"/>
<path fill="#A6CEE3" d="M180.4 271.0h2.4v2.7h-2.4z"/>
<path fill="#D02090" d="M180.4 273.7h2.4v21.5h-2.4z"/>
<path fill="#006400" d="M180.4 295.2h2.4v84.8h-2.4z"/>
<path fill="#A6CEE3" d="M182.8 271.0h2.1v13.4h-2.1z"/>
<path fill="#33A02C" d="M182.8 284.4h2.1v13.4h-2.1z"/>
<path fill="#006400" d="M182.8 297.8h2.1v82.2h-2.1z"/>
<path fill="#A6CEE3" d="M185.0 271.0h1.9v10.7h-1.9z"/>
<path fill="#B22222" d="M185.0 281.7h1.9v2.7h-1.9z"/>
<path fill="#54FF9F" d="M185.0 284.4h1.9v95.6h-1.9z"/>
<path fill="#A6CEE3" d="M186.8 271.0h2.1v10.7h-2.1z"/>
<path fill="#FF8C00" d="M186.8 281.7h2.1v5.4h-2.1z"/>
<path fill="#A020F0" d="M186.8 287.1h2.1v13.4h-2.1z"/>
<path fill="#B22222" d="M186.8 300.5h2.1v2.0h-2.1z"/>
<path fill="#54FF9F" d="M186.8 302.5h2.1v77.5h-2.1z"/>
<path fill="#A6CEE3" d="M189.0 271.0h2.1v47.0h-2.1z"/>
<path fill="#B22222" d="M189.0 318.0h2.1v1.3h-2.1z"/>
<path fill="#54FF9F" d="M189.0 319.3h2.1v60.7h-2.1z"/>
<path fill="#A6CEE3" d="M191.1 271.0h2.4v4.0h-2.4z"/>
<path fill="#A020F0" d="M191.1 275.0h2.4v6.7h-2.4z"/>
<path fill="#33A02C" d="M191.1 281.7h2.4v5.4h-2.4z"/>
<path fill="#006400" d="M191.1 287.1h2.4v92.9h-2.4z"/>
<path fill="#A6CEE3" d="M193.6 271.0h2.4v20.1h-2.4z"/>
<path fill="#33A02C" d="M193.6 291.1h2.4v12.1h-2.4z"/>
<path fill="#00FFFF" d="M193.6 303.2h2.4v76.8h-2.4z"/>
<path fill="#A6CEE3" d="M196.0 271.0h2.1v5.4h-2.1z"/>
<path fill="#B22222" d="M196.0 276.4h2.1v2.7h-2.1z"/>
<path fill="#006400" d="M196.0 279.1h2.1v36.2h-2.1z"/>
<path fill="#00FFFF" d="M196.0 315.3h2.1v64.7h-2.1z"/>
<path fill="#A6CEE3" d="M198.1 271.0h2.4v5.4h-2.4z"/>
<path fill="#FF8C00" d="M198.1 276.4h2.4v12.1h-2.4z"/>
<path fill="#006400" d="M198.1 288.5h2.4v56.4h-2.4z"/>
<path fill="#00FFFF" d="M198.1 344.8h2.4v35.2h-2.4z"/>
<path fill="#A6CEE3" d="M200.5 271.0h2.4v57.7h-2.4z"/>
<path fill="#FF8C00" d="M200.5 328.7h2.4v5.4h-2.4z"/>
<path fill="#00008B" d="M200.5 334.1h2.4v6.7h-2.4z"/>
<path fill="#FFB90F" d="M200.5 340.8h2.4v2.7h-2.4z"/>
<path fill="#B22222" d="M200.5 343.5h2.4v6.7h-2.4z"/>
<path fill="#6A5ACD" d="M200.5 350.2h2.4v14.8h-2.4z"/>
<path fill="#00FFFF" d="M200.5 365.0h2.4v2.7h-2.4z"/>
<path fill="#32CD32" d="M200.5 367.7h2.4v8.1h-2.4z"/>
<path fill="#00FFFF" d="M200.5 375.7h2.4v4.3h-2.4z"/>
<path fill="#A6CEE3" d="M203.0 271.0h2.1v5.4h-2.1z"/>
<path fill="#A020F0" d="M203.0 276.4h2.1v12.1h-2.1z"/>
<path fill="#D02090" d="M203.0 288.5h2.1v25.5h-2.1z"/>
<path fill="#33A02C" d="M203.0 314.0h2.1v10.7h-2.1z"/>
<path fill="#006400" d="M203.0 324.7h2.1v26.8h-2.1z"/>
<path fill="#00FFFF" d="M203.0 351.5h2.1v28.5h-2.1z"/>
<path fill="#A6CEE3" d="M205.1 271.0h2.1v2.7h-2.1z"/>
<path fill="#FF8C00" d="M205.1 273.7h2.1v5.4h-2.1z"/>
<path fill="#A020F0" d="M205.1 279.1h2.1v9.4h-2.1z"/>
<path fill="#006400" d="M205.1 288.5h2.1v87.3h-2.1z"/>
<path fill="#00FFFF" d="M205.1 375.7h2.1v4.3h-2.1z"/>
<path fill="#A6CEE3" d="M207.3 271.0h2.4v6.7h-2.4z"/>
<path fill="#006400" d="M207.3 277.7h2.4v56.4h-2.4z"/>
<path fill="#00FFFF" d="M207.3 334.1h2.4v45.9h-2.4z"/>
<path fill="#A6CEE3" d="M209.7 271.0h2.1v75.2h-2.1z"/>
<path fill="#C0C0C0" d="M209.7 346.2h2.1v33.8h-2.1z"/>
<path fill="#A6CEE3" d="M211.8 271.0h2.4v22.8h-2.4z"/>
<path fill="#8B8378" d="M211.8 293.8h2.4v22.8h-2.4z"/>
<path fill="#FF8C00" d="M211.8 316.6h2.4v5.4h-2.4z"/>
<path fill="#D02090" d="M211.8 322.0h2.4v5.4h-2.4z"/>
<path fill="#32CD32" d="M211.8 327.4h2.4v4.0h-2.4z"/>
<path fill="#00FFFF" d="M211.8 331.4h2.4v48.6h-2.4z"/>
<path fill="#A6CEE3" d="M214.2 271.0h2.1v32.2h-2.1z"/>
<path fill="#00008B" d="M214.2 303.2h2.1v1.3h-2.1z"/>
<path fill="#006400" d="M214.2 304.6h2.1v20.1h-2.1z"/>
<path fill="#A020F0" d="M214.2 324.7h2.1v10.7h-2.1z"/>
<path fill="#006400" d="M214.2 335.4h2.1v10.7h-2.1z"/>
<path fill="#00FFFF" d="M214.2 346.2h2.1v33.8h-2.1z"/>
<path fill="#A6CEE3" d="M216.4 271.0h2.4v38.9h-2.4z"/>
<path fill="#CD0000" d="M216.4 309.9h2.4v17.5h-2.4z"/>
<path fill="#6A5ACD" d="M216.4 327.4h2.4v52.6h-2.4z"/>
<path fill="#A6CEE3" d="M218.8 271.0h2.1v9.4h-2.1z"/>
<path fill="#A020F0" d="M218.8 280.4h2.1v8.1h-2.1z"/>
<path fill="#B22222" d="M218.8 288.5h2.1v4.0h-2.1z"/>
<path fill="#D02090" d="M218.8 292.5h2.1v87.5h-2.1z"/>
<path fill="#A6CEE3" d="M220.9 271.0h2.1v2.7h-2.1z"/>
<path fill="#006400" d="M220.9 273.7h2.1v18.8h-2.1z"/>
<path fill="#00FFFF" d="M220.9 292.5h2.1v87.5h-2.1z"/>
<path fill="#A6CEE3" d="M223.1 271.0h0.9v47.0h-0.9z"/>
<path fill="#A020F0" d="M223.1 318.0h0.9v9.4h-0.9z"/>
<path fill="#FF8C00" d="M223.1 327.4h0.9v5.4h-0.9z"/>
<path fill="#00FFFF" d="M223.1 332.7h0.9v47.3h-0.9z"/>
<path fill="#A6CEE3" d="M224.0 271.0h1.3v47.0h-1.3z"/>
<path fill="#A020F0" d="M224.0 318.0h1.3v9.4h-1.3z"/>
<path fill="#FF8C00" d="M224.0 327.4h1.3v6.7h-1.3z"/>
<path fill="#B22222" d="M224.0 334.1h1.3v4.0h-1.3z"/>
<path fill="#6A5ACD" d="M224.0 338.1h1.3v4.0h-1.3z"/>
<path fill="#32CD32" d="M224.0 342.1h1.3v9.4h-1.3z"/>
<path fill="#006400" d="M224.0 351.5h1.3v28.5h-1.3z"/>
<path fill="#A6CEE3" d="M225.3 271.0h2.4v2.7h-2.4z"/>
<path fill="#FF8C00" d="M225.3 273.7h2.4v5.4h-2.4z"/>
<path fill="#006400" d="M225.3 279.1h2.4v100.9h-2.4z"/>
<path fill="#A6CEE3" d="M227.8 271.0h2.1v8.1h-2.1z"/>
<path fill="#006400" d="M227.8 279.1h2.1v100.9h-2.1z"/>
<path fill="#A6CEE3" d="M229.9 271.0h2.1v4.0h-2.1z"/>
<path fill="#54FF9F" d="M229.9 275.0h2.1v4.0h-2.1z"/>
<path fill="#006400" d="M229.9 279.1h2.1v71.1h-2.1z"/>
<path fill="#00FFFF" d="M229.9 350.2h2.1v29.8h-2.1z"/>
<path fill="#A6CEE3" d="M232.1 271.0h2.1v1.3h-2.1z"/>
<path fill="#A020F0" d="M232.1 272.3h2.1v5.4h-2.1z"/>
<path fill="#006400" d="M232.1 277.7h2.1v102.3h-2.1z"/>
<path fill="#A6CEE3" d="M234.2 271.0h2.1v96.7h-2.1z"/>
<path fill="#FF8C00" d="M234.2 367.7h2.1v3.4h-2.1z"/>
<path fill="#A020F0" d="M234.2 371.0h2.1v9.0h-2.1z"/>
<path fill="#A6CEE3" d="M236.3 271.0h2.4v10.7h-2.4z"/>
<path fill="#A020F0" d="M236.3 281.7h2.4v2.7h-2.4z"/>
<path fill="#FF8C00" d="M236.3 284.4h2.4v4.0h-2.4z"/>
<path fill="#32CD32" d="M236.3 288.5h2.4v4.0h-2.4z"/>
<path fill="#00FFFF" d="M236.3 292.5h2.4v87.5h-2.4z"/>
<path fill="#A6CEE3" d="M238.8 271.0h2.1v2.7h-2.1z"/>
<path fill="#A020F0" d="M238.8 273.7h2.1v10.7h-2.1z"/>
<path fill="#A6CEE3" d="M238.8 284.4h2.1v9.4h-2.1z"/>
<path fill="#00FFFF" d="M238.8 293.8h2.1v86.2h-2.1z"/>
<path fill="#A6CEE3" d="M240.9 271.0h2.4v2.7h-2.4z"/>
<path fill="#006400" d="M240.9 273.7h2.4v59.1h-2.4z"/>
<path fill="#00FFFF" d="M240.9 332.7h2.4v47.3h-2.4z"/>
<path fill="#A6CEE3" d="M243.3 271.0h2.1v9.4h-2.1z"/>
<path fill="#FF8C00" d="M243.3 280.4h2.1v2.7h-2.1z"/>
<path fill="#54FF9F" d="M243.3 283.1h2.1v5.4h-2.1z"/>
<path fill="#006400" d="M243.3 288.5h2.1v68.5h-2.1z"/>
<path fill="#00FFFF" d="M243.3 356.9h2.1v23.1h-2.1z"/>
<path fill="#A6CEE3" d="M245.5 271.0h2.4v2.7h-2.4z"/>
<path fill="#006400" d="M245.5 273.7h2.4v32.2h-2.4z"/>
<path fill="#00FFFF" d="M245.5 305.9h2.4v74.1h-2.4z"/>
<path fill="#A6CEE3" d="M247.9 271.0h2.4v22.8h-2.4z"/>
<path fill="#00FFFF" d="M247.9 293.8h2.4v86.2h-2.4z"/>
<path fill="#A6CEE3" d="M250.3 271.0h2.1v12.1h-2.1z"/>
<path fill="#A020F0" d="M250.3 283.1h2.1v2.7h-2.1z"/>
<path fill="#54FF9F" d="M250.3 285.8h2.1v2.7h-2.1z"/>
<path fill="#32CD32" d="M250.3 288.5h2.1v6.7h-2.1z"/>
<path fill="#00FFFF" d="M250.3 295.2h2.1v84.8h-2.1z"/>
<path fill="#A6CEE3" d="M252.5 271.0h2.4v10.7h-2.4z"/>
<path fill="#6A5ACD" d="M252.5 281.7h2.4v24.2h-2.4z"/>
<path fill="#32CD32" d="M252.5 305.9h2.4v4.0h-2.4z"/>
<path fill="#006400" d="M252.5 309.9h2.4v14.8h-2.4z"/>
<path fill="#00FFFF" d="M252.5 324.7h2.4v55.3h-2.4z"/>
<path fill="#A6CEE3" d="M254.9 271.0h2.1v88.6h-2.1z"/>
<path fill="#FFB90F" d="M254.9 359.6h2.1v8.1h-2.1z"/>
<path fill="#6B8E23" d="M254.9 367.7h2.1v12.3h-2.1z"/>
<path fill="#A6CEE3" d="M257.0 271.0h2.4v43.0h-2.4z"/>
<path fill="#FFB90F" d="M257.0 314.0h2.4v2.7h-2.4z"/>
<path fill="#B22222" d="M257.0 316.6h2.4v12.1h-2.4z"/>
<path fill="#6A5ACD" d="M257.0 328.7h2.4v2.0h-2.4z"/>
<path fill="#00FF7F" d="M257.0 330.7h2.4v49.3h-2.4z"/>
<path fill="#A6CEE3" d="M259.4 271.0h2.1v2.7h-2.1z"/>
<path fill="#006400" d="M259.4 273.7h2.1v37.6h-2.1z"/>
<path fill="#00FFFF" d="M259.4 311.3h2.1v68.7h-2.1z"/>
<path fill="#A6CEE3" d="M261.6 271.0h2.1v67.1h-2.1z"/>
<path fill="#C0C0C0" d="M261.6 338.1h2.1v41.9h-2.1z"/>
<path fill="#A6CEE3" d="M263.7 271.0h2.4v1.3h-2.4z"/>
<path fill="#006400" d="M263.7 272.3h2.4v64.4h-2.4z"/>
<path fill="#00FFFF" d="M263.7 336.8h2.4v43.2h-2.4z"/>
<path fill="#A6CEE3" d="M266.2 271.0h2.1v40.3h-2.1z"/>
<path fill="#A020F0" d="M266.2 311.3h2.1v5.4h-2.1z"/>
<path fill="#32CD32" d="M266.2 316.6h2.1v37.6h-2.1z"/>
<path fill="#006400" d="M266.2 354.2h2.1v12.1h-2.1z"/>
<path fill="#00FFFF" d="M266.2 366.3h2.1v13.7h-2.1z"/>
<path fill="#A6CEE3" d="M268.3 271.0h2.4v9.4h-2.4z"/>
<path fill="#3CB371" d="M268.3 280.4h2.4v22.8h-2.4z"/>
<path fill="#006400" d="M268.3 303.2h2.4v38.9h-2.4z"/>
<path fill="#00FFFF" d="M268.3 342.1h2.4v37.9h-2.4z"/>
<path fill="#A6CEE3" d="M270.7 271.0h1.9v109.0h-1.9zM272.6 271.0h2.4v72.5h-2.4z"/>
<path fill="#00008B" d="M272.6 343.5h2.4v4.7h-2.4z"/>
<path fill="#FFB90F" d="M272.6 348.2h2.4v6.0h-2.4z"/>
<path fill="#B22222" d="M272.6 354.2h2.4v9.4h-2.4z"/>
<path fill="#32CD32" d="M272.6 363.6h2.4v16.4h-2.4z"/>
<path fill="#A6CEE3" d="M275.0 271.0h2.1v40.3h-2.1z"/>
<path fill="#B22222" d="M275.0 311.3h2.1v8.1h-2.1z"/>
<path fill="#6A5ACD" d="M275.0 319.3h2.1v2.7h-2.1z"/>
<path fill="#54FF9F" d="M275.0 322.0h2.1v58.0h-2.1z"/>
<path fill="#A6CEE3" d="M277.2 271.0h2.1v64.4h-2.1z"/>
<path fill="#FFB90F" d="M277.2 335.4h2.1v4.0h-2.1z"/>
<path fill="#32CD32" d="M277.2 339.5h2.1v40.5h-2.1z"/>
<path fill="#A6CEE3" d="M279.3 271.0h2.4v14.8h-2.4z"/>
<path fill="#D02090" d="M279.3 285.8h2.4v2.0h-2.4z"/>
<path fill="#32CD32" d="M279.3 287.8h2.4v50.3h-2.4z"/>
<path fill="#00FFFF" d="M279.3 338.1h2.4v41.9h-2.4z"/>
<path fill="#A6CEE3" d="M281.7 271.0h2.1v26.8h-2.1z"/>
<path fill="#FFB90F" d="M281.7 297.8h2.1v3.4h-2.1z"/>
<path fill="#A020F0" d="M281.7 301.2h2.1v7.4h-2.1z"/>
<path fill="#32CD32" d="M281.7 308.6h2.1v30.9h-2.1z"/>
<path fill="#006400" d="M281.7 339.5h2.1v1.3h-2.1z"/>
<path fill="#00FFFF" d="M281.7 340.8h2.1v39.2h-2.1z"/>
<path fill="#A6CEE3" d="M283.9 271.0h2.6v1.3h-2.6z"/>
<path fill="#006400" d="M283.9 272.3h2.6v32.9h-2.6z"/>
<path fill="#00FFFF" d="M283.9 305.2h2.6v74.8h-2.6z"/>
<path fill="#FFFFFF" d="M160.2 380.0h0.2v108.3h-0.2z"/>
<path fill="#32CD32" d="M160.5 380.0h1.2v72.1h-1.2z"/>
<path fill="#006400" d="M160.5 452.1h1.2v9.3h-1.2z"/>
<path fill="#00FFFF" d="M160.5 461.5h1.2v26.8h-1.2z"/>
<path fill="#006400" d="M161.9 380.0h2.3v41.9h-2.3z"/>
<path fill="#00FFFF" d="M161.9 421.9h2.3v66.4h-2.3zM164.2 380.0h4.7v108.3h-4.7z"/>
<path fill="#006400" d="M168.8 380.0h2.1v102.4h-2.1z"/>
<path fill="#00FFFF" d="M168.8 482.4h2.1v5.9h-2.1zM170.9 380.0h2.1v108.3h-2.1z"/>
<path fill="#006400" d="M173.0 380.0h2.3v39.6h-2.3z"/>
<path fill="#00FFFF" d="M173.0 419.6h2.3v68.7h-2.3zM175.4 380.0h5.1v108.3h-5.1z"/>
<path fill="#006400" d="M180.5 380.0h2.3v50.0h-2.3z"/>
<path fill="#00FFFF" d="M180.5 430.0h2.3v58.3h-2.3z"/>
<path fill="#006400" d="M182.8 380.0h1.9v14.0h-1.9z"/>
<path fill="#00FFFF" d="M182.8 394.0h1.9v94.3h-1.9zM184.7 380.0h2.8v108.3h-2.8z"/>
<path fill="#6B8E23" d="M187.5 380.0h2.8v86.1h-2.8z"/>
<path fill="#8B3A2A" d="M187.5 466.1h2.8v4.7h-2.8z"/>
<path fill="#00FFFF" d="M187.5 470.8h2.8v17.5h-2.8z"/>
<path fill="#006400" d="M191.2 380.0h2.8v62.8h-2.8z"/>
<path fill="#00FFFF" d="M191.2 442.8h2.8v45.5h-2.8zM194.0 380.0h6.5v108.3h-6.5zM200.5 380.0h2.3v11.6h-2.3z"/>
<path fill="#006400" d="M200.5 391.6h2.3v58.2h-2.3z"/>
<path fill="#00FFFF" d="M200.5 449.8h2.3v38.5h-2.3zM202.8 380.0h6.5v108.3h-6.5z"/>
<path fill="#C0C0C0" d="M209.3 380.0h2.3v54.7h-2.3z"/>
<path fill="#FFB90F" d="M209.3 434.7h2.3v5.8h-2.3z"/>
<path fill="#D02090" d="M209.3 440.5h2.3v16.3h-2.3z"/>
<path fill="#6B8E23" d="M209.3 456.8h2.3v30.3h-2.3z"/>
<path fill="#00FFFF" d="M209.3 487.1h2.3v1.2h-2.3zM211.7 380.0h5.1v108.3h-5.1z"/>
<path fill="#D02090" d="M216.8 380.0h3.3v48.9h-3.3z"/>
<path fill="#006400" d="M216.8 428.9h3.3v9.3h-3.3z"/>
<path fill="#00FFFF" d="M216.8 438.2h3.3v50.1h-3.3zM220.0 380.0h5.1v108.3h-5.1z"/>
<path fill="#006400" d="M225.2 380.0h2.3v19.8h-2.3z"/>
<path fill="#00FFFF" d="M225.2 399.8h2.3v88.5h-2.3z"/>
<path fill="#006400" d="M227.5 380.0h2.3v61.7h-2.3z"/>
<path fill="#00FFFF" d="M227.5 441.7h2.3v46.6h-2.3zM229.8 380.0h3.7v108.3h-3.7z"/>
<path fill="#FF8C00" d="M233.5 380.0h2.8v7.0h-2.8z"/>
<path fill="#A020F0" d="M233.5 387.0h2.8v37.2h-2.8z"/>
<path fill="#D02090" d="M233.5 424.2h2.8v14.0h-2.8z"/>
<path fill="#32CD32" d="M233.5 438.2h2.8v23.3h-2.8z"/>
<path fill="#006400" d="M233.5 461.5h2.8v16.3h-2.8z"/>
<path fill="#00FFFF" d="M233.5 477.7h2.8v10.6h-2.8zM236.3 380.0h18.6v108.3h-18.6z"/>
<path fill="#32CD32" d="M255.0 380.0h1.9v76.8h-1.9z"/>
<path fill="#00FFFF" d="M255.0 456.8h1.9v31.5h-1.9z"/>
<path fill="#006400" d="M256.8 380.0h1.9v9.3h-1.9z"/>
<path fill="#00FFFF" d="M256.8 389.3h1.9v99.0h-1.9zM258.7 380.0h2.8v108.3h-2.8z"/>
<path fill="#C0C0C0" d="M261.5 380.0h2.3v43.1h-2.3z"/>
<path fill="#FF8C00" d="M261.5 423.1h2.3v9.3h-2.3z"/>
<path fill="#D02090" d="M261.5 432.4h2.3v8.1h-2.3z"/>
<path fill="#6B8E23" d="M261.5 440.5h2.3v23.3h-2.3z"/>
<path fill="#00FFFF" d="M261.5 463.8h2.3v24.5h-2.3zM263.8 380.0h7.0v108.3h-7.0zM270.8 380.0h1.9v4.7h-1.9z"/>
<path fill="#A020F0" d="M270.8 384.7h1.9v7.0h-1.9z"/>
<path fill="#32CD32" d="M270.8 391.6h1.9v86.1h-1.9z"/>
<path fill="#00FFFF" d="M270.8 477.7h1.9v10.6h-1.9zM272.6 380.0h1.9v30.3h-1.9z"/>
<path fill="#006400" d="M272.6 410.3h1.9v27.9h-1.9z"/>
<path fill="#00FFFF" d="M272.6 438.2h1.9v50.1h-1.9zM274.5 380.0h3.3v108.3h-3.3z"/>
<path fill="#3CB371" d="M277.8 380.0h1.9v43.1h-1.9z"/>
<path fill="#00FFFF" d="M277.8 423.1h1.9v65.2h-1.9zM279.6 380.0h6.9v108.3h-6.9z"/>
</g>
<g>
<path fill="#A6CEE3" d="M289.0 271.0h126.2v5.4h-126.2z"/>
<path fill="#00FFFF" d="M289.0 276.4h126.2v211.9h-126.2z"/>
<path fill="#A6CEE3" d="M289.0 271.0h1.7v12.1h-1.7z"/>
<path fill="#A020F0" d="M289.0 283.1h1.7v4.0h-1.7z"/>
<path fill="#D02090" d="M289.0 287.1h1.7v17.5h-1.7z"/>
<path fill="#54FF9F" d="M289.0 304.6h1.7v25.5h-1.7z"/>
<path fill="#006400" d="M289.0 330.1h1.7v49.9h-1.7z"/>
<path fill="#A6CEE3" d="M290.7 271.0h2.1v2.0h-2.1z"/>
<path fill="#B22222" d="M290.7 273.0h2.1v3.4h-2.1z"/>
<path fill="#54FF9F" d="M290.7 276.4h2.1v20.1h-2.1z"/>
<path fill="#00FFFF" d="M290.7 296.5h2.1v83.5h-2.1z"/>
<path fill="#A6CEE3" d="M292.8 271.0h2.1v2.7h-2.1z"/>
<path fill="#54FF9F" d="M292.8 273.7h2.1v21.5h-2.1z"/>
<path fill="#00FFFF" d="M292.8 295.2h2.1v84.8h-2.1z"/>
<path fill="#A6CEE3" d="M295.0 271.0h2.1v5.4h-2.1z"/>
<path fill="#54FF9F" d="M295.0 276.4h2.1v5.4h-2.1z"/>
<path fill="#006400" d="M295.0 281.7h2.1v68.5h-2.1z"/>
<path fill="#00FFFF" d="M295.0 350.2h2.1v29.8h-2.1z"/>
<path fill="#A6CEE3" d="M297.1 271.0h2.4v2.7h-2.4z"/>
<path fill="#FF8C00" d="M297.1 273.7h2.4v4.0h-2.4z"/>
<path fill="#54FF9F" d="M297.1 277.7h2.4v16.1h-2.4z"/>
<path fill="#6B8E23" d="M297.1 293.8h2.4v14.8h-2.4z"/>
<path fill="#006400" d="M297.1 308.6h2.4v45.6h-2.4z"/>
<path fill="#00FFFF" d="M297.1 354.2h2.4v25.8h-2.4z"/>
<path fill="#A6CEE3" d="M299.5 271.0h2.4v8.1h-2.4z"/>
<path fill="#CD0000" d="M299.5 279.1h2.4v6.7h-2.4z"/>
<path fill="#54FF9F" d="M299.5 285.8h2.4v38.9h-2.4z"/>
<path fill="#006400" d="M299.5 324.7h2.4v33.6h-2.4z"/>
<path fill="#00FFFF" d="M299.5 358.3h2.4v21.7h-2.4z"/>
<path fill="#A6CEE3" d="M302.0 271.0h2.1v2.7h-2.1z"/>
<path fill="#54FF9F" d="M302.0 273.7h2.1v21.5h-2.1z"/>
<path fill="#006400" d="M302.0 295.2h2.1v84.8h-2.1z"/>
<path fill="#A6CEE3" d="M304.1 271.0h2.4v2.7h-2.4z"/>
<path fill="#54FF9F" d="M304.1 273.7h2.4v38.9h-2.4z"/>
<path fill="#00FFFF" d="M304.1 312.6h2.4v67.4h-2.4z"/>
<path fill="#A6CEE3" d="M306.5 271.0h2.1v2.7h-2.1z"/>
<path fill="#54FF9F" d="M306.5 273.7h2.1v22.8h-2.1z"/>
<path fill="#006400" d="M306.5 296.5h2.1v83.5h-2.1z"/>
<path fill="#A6CEE3" d="M308.7 271.0h2.4v3.4h-2.4z"/>
<path fill="#D02090" d="M308.7 274.4h2.4v47.7h-2.4z"/>
<path fill="#006400" d="M308.7 322.0h2.4v58.0h-2.4z"/>
<path fill="#A6CEE3" d="M311.1 271.0h2.1v3.4h-2.1z"/>
<path fill="#D02090" d="M311.1 274.4h2.1v14.1h-2.1z"/>
<path fill="#006400" d="M311.1 288.5h2.1v91.5h-2.1z"/>
<path fill="#A6CEE3" d="M313.2 271.0h2.1v20.1h-2.1z"/>
<path fill="#FFB90F" d="M313.2 291.1h2.1v2.7h-2.1z"/>
<path fill="#FF8C00" d="M313.2 293.8h2.1v4.0h-2.1z"/>
<path fill="#A020F0" d="M313.2 297.8h2.1v2.7h-2.1z"/>
<path fill="#00FF7F" d="M313.2 300.5h2.1v34.9h-2.1z"/>
<path fill="#00FFFF" d="M313.2 335.4h2.1v44.6h-2.1z"/>
<path fill="#A6CEE3" d="M315.4 271.0h2.4v9.4h-2.4z"/>
<path fill="#FF8C00" d="M315.4 280.4h2.4v17.5h-2.4z"/>
<path fill="#A020F0" d="M315.4 297.8h2.4v14.8h-2.4z"/>
<path fill="#FFB90F" d="M315.4 312.6h2.4v2.7h-2.4z"/>
<path fill="#A020F0" d="M315.4 315.3h2.4v4.0h-2.4z"/>
<path fill="#54FF9F" d="M315.4 319.3h2.4v32.2h-2.4z"/>
<path fill="#6B8E23" d="M315.4 351.5h2.4v8.1h-2.4z"/>
<path fill="#00FFFF" d="M315.4 359.6h2.4v20.4h-2.4z"/>
<path fill="#A6CEE3" d="M317.8 271.0h2.1v10.7h-2.1z"/>
<path fill="#006400" d="M317.8 281.7h2.1v64.4h-2.1z"/>
<path fill="#00FFFF" d="M317.8 346.2h2.1v33.8h-2.1z"/>
<path fill="#A6CEE3" d="M319.9 271.0h2.4v5.4h-2.4z"/>
<path fill="#A020F0" d="M319.9 276.4h2.4v2.7h-2.4z"/>
<path fill="#006400" d="M319.9 279.1h2.4v64.4h-2.4z"/>
<path fill="#00FFFF" d="M319.9 343.5h2.4v36.5h-2.4z"/>
<path fill="#A6CEE3" d="M322.4 271.0h2.1v9.4h-2.1z"/>
<path fill="#FF8C00" d="M322.4 280.4h2.1v4.0h-2.1z"/>
<path fill="#B22222" d="M322.4 284.4h2.1v2.0h-2.1z"/>
<path fill="#006400" d="M322.4 286.4h2.1v40.9h-2.1z"/>
<path fill="#00FFFF" d="M322.4 327.4h2.1v52.6h-2.1z"/>
<path fill="#A6CEE3" d="M324.5 271.0h2.1v13.4h-2.1z"/>
<path fill="#006400" d="M324.5 284.4h2.1v67.1h-2.1z"/>
<path fill="#00FFFF" d="M324.5 351.5h2.1v28.5h-2.1z"/>
<path fill="#A6CEE3" d="M326.7 271.0h2.4v2.0h-2.4z"/>
<path fill="#A020F0" d="M326.7 273.0h2.4v2.0h-2.4z"/>
<path fill="#006400" d="M326.7 275.0h2.4v71.1h-2.4z"/>
<path fill="#00FFFF" d="M326.7 346.2h2.4v33.8h-2.4z"/>
<path fill="#A6CEE3" d="M329.1 271.0h2.1v57.7h-2.1z"/>
<path fill="#00008B" d="M329.1 328.7h2.1v5.4h-2.1z"/>
<path fill="#FFB90F" d="M329.1 334.1h2.1v2.7h-2.1z"/>
<path fill="#B22222" d="M329.1 336.8h2.1v9.4h-2.1z"/>
<path fill="#00FF7F" d="M329.1 346.2h2.1v21.5h-2.1z"/>
<path fill="#006400" d="M329.1 367.7h2.1v2.7h-2.1z"/>
<path fill="#00FFFF" d="M329.1 370.3h2.1v9.7h-2.1z"/>
<path fill="#A6CEE3" d="M331.2 271.0h2.1v10.7h-2.1z"/>
<path fill="#A020F0" d="M331.2 281.7h2.1v6.7h-2.1z"/>
<path fill="#00FF7F" d="M331.2 288.5h2.1v38.9h-2.1z"/>
<path fill="#006400" d="M331.2 327.4h2.1v52.6h-2.1z"/>
<path fill="#A6CEE3" d="M333.4 271.0h2.4v1.3h-2.4z"/>
<path fill="#FF8C00" d="M333.4 272.3h2.4v8.1h-2.4z"/>
<path fill="#A020F0" d="M333.4 280.4h2.4v5.4h-2.4z"/>
<path fill="#00FF7F" d="M333.4 285.8h2.4v40.3h-2.4z"/>
<path fill="#006400" d="M333.4 326.0h2.4v54.0h-2.4z"/>
<path fill="#A6CEE3" d="M335.8 271.0h2.1v24.2h-2.1z"/>
<path fill="#8B3A2A" d="M335.8 295.2h2.1v36.2h-2.1z"/>
<path fill="#6495ED" d="M335.8 331.4h2.1v33.6h-2.1z"/>
<path fill="#8B8378" d="M335.8 365.0h2.1v2.7h-2.1z"/>
<path fill="#006400" d="M335.8 367.7h2.1v12.3h-2.1z"/>
<path fill="#A6CEE3" d="M337.9 271.0h2.1v72.5h-2.1z"/>
<path fill="#8B8378" d="M337.9 343.5h2.1v21.5h-2.1z"/>
<path fill="#006400" d="M337.9 365.0h2.1v15.0h-2.1z"/>
<path fill="#A6CEE3" d="M340.1 271.0h2.1v12.1h-2.1z"/>
<path fill="#FF8C00" d="M340.1 283.1h2.1v9.4h-2.1z"/>
<path fill="#D02090" d="M340.1 292.5h2.1v2.7h-2.1z"/>
<path fill="#33A02C" d="M340.1 295.2h2.1v2.7h-2.1z"/>
<path fill="#00FFFF" d="M340.1 297.8h2.1v82.2h-2.1z"/>
<path fill="#A6CEE3" d="M342.2 271.0h2.1v29.5h-2.1z"/>
<path fill="#8B3A2A" d="M342.2 300.5h2.1v17.5h-2.1z"/>
<path fill="#D02090" d="M342.2 318.0h2.1v10.7h-2.1z"/>
<path fill="#6B8E23" d="M342.2 328.7h2.1v8.1h-2.1z"/>
<path fill="#006400" d="M342.2 336.8h2.1v43.2h-2.1z"/>
<path fill="#A6CEE3" d="M344.4 271.0h2.1v10.7h-2.1z"/>
<path fill="#6A5ACD" d="M344.4 281.7h2.1v12.1h-2.1z"/>
<path fill="#33A02C" d="M344.4 293.8h2.1v5.4h-2.1z"/>
<path fill="#00FFFF" d="M344.4 299.2h2.1v80.8h-2.1z"/>
<path fill="#A6CEE3" d="M346.5 271.0h2.4v24.2h-2.4z"/>
<path fill="#A020F0" d="M346.5 295.2h2.4v10.7h-2.4z"/>
<path fill="#D02090" d="M346.5 305.9h2.4v67.1h-2.4z"/>
<path fill="#00FFFF" d="M346.5 373.0h2.4v7.0h-2.4z"/>
<path fill="#A6CEE3" d="M348.9 271.0h3.1v4.0h-3.1z"/>
<path fill="#006400" d="M348.9 275.0h3.1v29.5h-3.1z"/>
<path fill="#00FFFF" d="M348.9 304.6h3.1v75.4h-3.1z"/>
<path fill="#A6CEE3" d="M352.0 271.0h1.6v85.9h-1.6z"/>
<path fill="#FF8C00" d="M352.0 356.9h1.6v8.1h-1.6z"/>
<path fill="#A020F0" d="M352.0 365.0h1.6v15.0h-1.6z"/>
<path fill="#A6CEE3" d="M353.6 271.0h2.1v5.4h-2.1z"/>
<path fill="#A020F0" d="M353.6 276.4h2.1v12.1h-2.1z"/>
<path fill="#00FF7F" d="M353.6 288.5h2.1v68.5h-2.1z"/>
<path fill="#00FFFF" d="M353.6 356.9h2.1v23.1h-2.1z"/>
<path fill="#A6CEE3" d="M355.8 271.0h2.4v6.7h-2.4z"/>
<path fill="#FF8C00" d="M355.8 277.7h2.4v25.5h-2.4z"/>
<path fill="#00FF7F" d="M355.8 303.2h2.4v55.0h-2.4z"/>
<path fill="#006400" d="M355.8 358.3h2.4v21.7h-2.4z"/>
<path fill="#A6CEE3" d="M358.2 271.0h2.1v18.8h-2.1z"/>
<path fill="#A020F0" d="M358.2 289.8h2.1v8.1h-2.1z"/>
<path fill="#6A5ACD" d="M358.2 297.8h2.1v82.2h-2.1z"/>
<path fill="#A6CEE3" d="M360.3 271.0h2.4v24.2h-2.4z"/>
<path fill="#FF8C00" d="M360.3 295.2h2.4v2.7h-2.4z"/>
<path fill="#A020F0" d="M360.3 297.8h2.4v8.1h-2.4z"/>
<path fill="#D02090" d="M360.3 305.9h2.4v5.4h-2.4z"/>
<path fill="#32CD32" d="M360.3 311.3h2.4v5.4h-2.4z"/>
<path fill="#006400" d="M360.3 316.6h2.4v63.4h-2.4z"/>
<path fill="#A6CEE3" d="M362.7 271.0h2.4v12.1h-2.4z"/>
<path fill="#FF8C00" d="M362.7 283.1h2.4v2.7h-2.4z"/>
<path fill="#A020F0" d="M362.7 285.8h2.4v16.1h-2.4z"/>
<path fill="#6A5ACD" d="M362.7 301.9h2.4v78.1h-2.4z"/>
<path fill="#A6CEE3" d="M365.2 271.0h2.1v16.1h-2.1z"/>
<path fill="#006400" d="M365.2 287.1h2.1v25.5h-2.1z"/>
<path fill="#00FFFF" d="M365.2 312.6h2.1v67.4h-2.1z"/>
<path fill="#A6CEE3" d="M367.3 271.0h2.1v6.7h-2.1z"/>
<path fill="#A020F0" d="M367.3 277.7h2.1v12.1h-2.1z"/>
<path fill="#D02090" d="M367.3 289.8h2.1v14.8h-2.1z"/>
<path fill="#00FFFF" d="M367.3 304.6h2.1v75.4h-2.1z"/>
<path fill="#A6CEE3" d="M369.5 271.0h2.4v4.0h-2.4z"/>
<path fill="#A020F0" d="M369.5 275.0h2.4v4.0h-2.4z"/>
<path fill="#006400" d="M369.5 279.1h2.4v47.0h-2.4z"/>
<path fill="#00FFFF" d="M369.5 326.0h2.4v54.0h-2.4z"/>
<path fill="#A6CEE3" d="M371.9 271.0h2.4v2.7h-2.4z"/>
<path fill="#FF8C00" d="M371.9 273.7h2.4v13.4h-2.4z"/>
<path fill="#6A5ACD" d="M371.9 287.1h2.4v4.0h-2.4z"/>
<path fill="#32CD32" d="M371.9 291.1h2.4v4.0h-2.4z"/>
<path fill="#006400" d="M371.9 295.2h2.4v84.8h-2.4z"/>
<path fill="#A6CEE3" d="M374.3 271.0h2.4v2.7h-2.4z"/>
<path fill="#A020F0" d="M374.3 273.7h2.4v6.7h-2.4z"/>
<path fill="#006400" d="M374.3 280.4h2.4v99.6h-2.4z"/>
<path fill="#A6CEE3" d="M376.7 271.0h2.1v13.4h-2.1z"/>
<path fill="#006400" d="M376.7 284.4h2.1v20.1h-2.1z"/>
<path fill="#00FFFF" d="M376.7 304.6h2.1v75.4h-2.1z"/>
<path fill="#A6CEE3" d="M378.8 271.0h2.1v65.8h-2.1z"/>
<path fill="#FF8C00" d="M378.8 336.8h2.1v2.7h-2.1z"/>
<path fill="#6A5ACD" d="M378.8 339.5h2.1v30.9h-2.1z"/>
<path fill="#B22222" d="M378.8 370.3h2.1v6.7h-2.1z"/>
<path fill="#00FFFF" d="M378.8 377.0h2.1v3.0h-2.1z"/>
<path fill="#A6CEE3" d="M381.0 271.0h2.1v43.0h-2.1z"/>
<path fill="#404040" d="M381.0 314.0h2.1v6.0h-2.1z"/>
<path fill="#FF8C00" d="M381.0 320.0h2.1v7.4h-2.1z"/>
<path fill="#6A5ACD" d="M381.0 327.4h2.1v40.3h-2.1z"/>
<path fill="#32CD32" d="M381.0 367.7h2.1v12.3h-2.1z"/>
<path fill="#A6CEE3" d="M383.1 271.0h2.4v5.4h-2.4z"/>
<path fill="#006400" d="M383.1 276.4h2.4v14.8h-2.4z"/>
<path fill="#32CD32" d="M383.1 291.1h2.4v2.7h-2.4z"/>
<path fill="#00FFFF" d="M383.1 293.8h2.4v86.2h-2.4z"/>
<path fill="#A6CEE3" d="M385.6 271.0h2.1v14.8h-2.1z"/>
<path fill="#B22222" d="M385.6 285.8h2.1v2.7h-2.1z"/>
<path fill="#32CD32" d="M385.6 288.5h2.1v16.1h-2.1z"/>
<path fill="#006400" d="M385.6 304.6h2.1v56.4h-2.1z"/>
<path fill="#00FFFF" d="M385.6 360.9h2.1v19.1h-2.1z"/>
<path fill="#A6CEE3" d="M387.7 271.0h2.4v37.6h-2.4z"/>
<path fill="#00008B" d="M387.7 308.6h2.4v16.1h-2.4z"/>
<path fill="#A020F0" d="M387.7 324.7h2.4v26.8h-2.4z"/>
<path fill="#B22222" d="M387.7 351.5h2.4v2.7h-2.4z"/>
<path fill="#32CD32" d="M387.7 354.2h2.4v25.8h-2.4z"/>
<path fill="#A6CEE3" d="M390.1 271.0h2.1v38.9h-2.1z"/>
<path fill="#FF8C00" d="M390.1 309.9h2.1v4.0h-2.1z"/>
<path fill="#00FF7F" d="M390.1 314.0h2.1v18.8h-2.1z"/>
<path fill="#006400" d="M390.1 332.7h2.1v47.3h-2.1z"/>
<path fill="#A6CEE3" d="M392.3 271.0h2.4v4.0h-2.4z"/>
<path fill="#A020F0" d="M392.3 275.0h2.4v21.5h-2.4z"/>
<path fill="#006400" d="M392.3 296.5h2.4v10.7h-2.4z"/>
<path fill="#00FFFF" d="M392.3 307.2h2.4v72.8h-2.4z"/>
<path fill="#A6CEE3" d="M394.7 271.0h2.1v51.0h-2.1z"/>
<path fill="#B22222" d="M394.7 322.0h2.1v2.7h-2.1z"/>
<path fill="#6A5ACD" d="M394.7 324.7h2.1v25.5h-2.1z"/>
<path fill="#00FF7F" d="M394.7 350.2h2.1v29.8h-2.1z"/>
<path fill="#A6CEE3" d="M396.8 271.0h2.1v18.8h-2.1z"/>
<path fill="#006400" d="M396.8 289.8h2.1v16.1h-2.1z"/>
<path fill="#00FFFF" d="M396.8 305.9h2.1v74.1h-2.1z"/>
<path fill="#A6CEE3" d="M399.0 271.0h2.4v12.8h-2.4z"/>
<path fill="#CD0000" d="M399.0 283.8h2.4v4.0h-2.4z"/>
<path fill="#FF8C00" d="M399.0 287.8h2.4v75.8h-2.4z"/>
<path fill="#00008B" d="M399.0 363.6h2.4v4.0h-2.4z"/>
<path fill="#FF8C00" d="M399.0 367.7h2.4v5.4h-2.4z"/>
<path fill="#A020F0" d="M399.0 373.0h2.4v7.0h-2.4z"/>
<path fill="#A6CEE3" d="M401.4 271.0h2.1v13.4h-2.1z"/>
<path fill="#00FFFF" d="M401.4 284.4h2.1v95.6h-2.1z"/>
<path fill="#A6CEE3" d="M403.5 271.0h2.1v17.5h-2.1z"/>
<path fill="#A020F0" d="M403.5 288.5h2.1v10.7h-2.1z"/>
<path fill="#3CB371" d="M403.5 299.2h2.1v21.5h-2.1z"/>
<path fill="#00FFFF" d="M403.5 320.7h2.1v59.3h-2.1z"/>
<path fill="#A6CEE3" d="M405.7 271.0h2.4v2.7h-2.4z"/>
<path fill="#CD0000" d="M405.7 273.7h2.4v6.7h-2.4z"/>
<path fill="#33A02C" d="M405.7 280.4h2.4v4.0h-2.4z"/>
<path fill="#00FFFF" d="M405.7 284.4h2.4v95.6h-2.4z"/>
<path fill="#A6CEE3" d="M408.1 271.0h2.1v6.7h-2.1z"/>
<path fill="#00FFFF" d="M408.1 277.7h2.1v102.3h-2.1z"/>
<path fill="#A6CEE3" d="M410.3 271.0h2.4v32.2h-2.4z"/>
<path fill="#A020F0" d="M410.3 303.2h2.4v17.5h-2.4z"/>
<path fill="#6B8E23" d="M410.3 320.7h2.4v14.8h-2.4z"/>
<path fill="#3CB371" d="M410.3 335.4h2.4v24.2h-2.4z"/>
<path fill="#00FFFF" d="M410.3 359.6h2.4v20.4h-2.4z"/>
<path fill="#A6CEE3" d="M412.7 271.0h2.6v1.3h-2.6z"/>
<path fill="#6A5ACD" d="M412.7 272.3h2.6v2.7h-2.6z"/>
<path fill="#006400" d="M412.7 275.0h2.6v13.4h-2.6z"/>
<path fill="#00FFFF" d="M412.7 288.5h2.6v91.5h-2.6z"/>
<path fill="#006400" d="M289.0 380.0h1.3v25.6h-1.3z"/>
<path fill="#00FFFF" d="M289.0 405.6h1.3v82.7h-1.3zM290.3 380.0h7.0v108.3h-7.0z"/>
<path fill="#006400" d="M297.3 380.0h1.9v17.5h-1.9z"/>
<path fill="#00FFFF" d="M297.3 397.5h1.9v90.8h-1.9zM299.2 380.0h2.8v108.3h-2.8z"/>
<path fill="#006400" d="M302.0 380.0h2.3v44.2h-2.3z"/>
<path fill="#00FFFF" d="M302.0 424.2h2.3v64.1h-2.3zM304.3 380.0h4.7v108.3h-4.7z"/>
<path fill="#006400" d="M308.9 380.0h3.7v57.0h-3.7z"/>
<path fill="#00FFFF" d="M308.9 437.0h3.7v51.3h-3.7zM312.7 380.0h5.1v108.3h-5.1z"/>
<path fill="#32CD32" d="M317.8 380.0h2.3v53.5h-2.3z"/>
<path fill="#8B3A2A" d="M317.8 433.5h2.3v4.7h-2.3z"/>
<path fill="#32CD32" d="M317.8 438.2h2.3v23.3h-2.3z"/>
<path fill="#006400" d="M317.8 461.5h2.3v5.8h-2.3z"/>
<path fill="#00FFFF" d="M317.8 467.3h2.3v21.0h-2.3z"/>
<path fill="#006400" d="M320.6 380.0h2.3v32.6h-2.3z"/>
<path fill="#00FFFF" d="M320.6 412.6h2.3v75.7h-2.3zM322.9 380.0h4.7v108.3h-4.7z"/>
<path fill="#006400" d="M327.6 380.0h2.3v11.6h-2.3z"/>
<path fill="#00FFFF" d="M327.6 391.6h2.3v96.7h-2.3zM329.9 380.0h4.2v108.3h-4.2z"/>
<path fill="#006400" d="M334.1 380.0h3.3v37.2h-3.3z"/>
<path fill="#00FFFF" d="M334.1 417.2h3.3v71.1h-3.3z"/>
<path fill="#8B8378" d="M337.3 380.0h2.8v37.2h-2.8z"/>
<path fill="#FF8C00" d="M337.3 417.2h2.8v5.8h-2.8z"/>
<path fill="#D02090" d="M337.3 423.1h2.8v7.0h-2.8z"/>
<path fill="#6B8E23" d="M337.3 430.0h2.8v29.1h-2.8z"/>
<path fill="#006400" d="M337.3 459.1h2.8v5.8h-2.8z"/>
<path fill="#00FFFF" d="M337.3 464.9h2.8v23.4h-2.8zM340.1 380.0h2.8v108.3h-2.8z"/>
<path fill="#006400" d="M342.9 380.0h2.3v50.0h-2.3z"/>
<path fill="#00FFFF" d="M342.9 430.0h2.3v58.3h-2.3zM345.3 380.0h2.8v108.3h-2.8z"/>
<path fill="#006400" d="M348.0 380.0h1.4v16.3h-1.4z"/>
<path fill="#00FFFF" d="M348.0 396.3h1.4v92.0h-1.4zM349.4 380.0h2.3v108.3h-2.3z"/>
<path fill="#A020F0" d="M351.8 380.0h2.8v4.7h-2.8z"/>
<path fill="#FFB90F" d="M351.8 384.7h2.8v2.3h-2.8z"/>
<path fill="#32CD32" d="M351.8 387.0h2.8v44.2h-2.8z"/>
<path fill="#006400" d="M351.8 431.2h2.8v9.3h-2.8z"/>
<path fill="#00FFFF" d="M351.8 440.5h2.8v47.8h-2.8z"/>
<path fill="#006400" d="M354.6 380.0h1.9v65.2h-1.9z"/>
<path fill="#00FFFF" d="M354.6 445.2h1.9v43.1h-1.9z"/>
<path fill="#006400" d="M356.4 380.0h1.9v75.6h-1.9z"/>
<path fill="#00FFFF" d="M356.4 455.6h1.9v32.7h-1.9z"/>
<path fill="#006400" d="M358.3 380.0h2.3v9.3h-2.3z"/>
<path fill="#00FFFF" d="M358.3 389.3h2.3v99.0h-2.3z"/>
<path fill="#32CD32" d="M360.6 380.0h1.9v32.6h-1.9z"/>
<path fill="#00FFFF" d="M360.6 412.6h1.9v75.7h-1.9z"/>
<path fill="#006400" d="M362.5 380.0h2.3v18.6h-2.3z"/>
<path fill="#00FFFF" d="M362.5 398.6h2.3v89.7h-2.3zM364.8 380.0h8.4v108.3h-8.4z"/>
<path fill="#006400" d="M373.6 380.0h2.8v43.1h-2.8z"/>
<path fill="#00FFFF" d="M373.6 423.1h2.8v65.2h-2.8zM376.4 380.0h3.7v108.3h-3.7z"/>
<path fill="#32CD32" d="M380.2 380.0h2.8v14.0h-2.8z"/>
<path fill="#006400" d="M380.2 394.0h2.8v16.3h-2.8z"/>
<path fill="#00FFFF" d="M380.2 410.3h2.8v78.0h-2.8zM383.0 380.0h4.7v108.3h-4.7z"/>
<path fill="#6B8E23" d="M387.6 380.0h2.3v82.6h-2.3z"/>
<path fill="#00FFFF" d="M387.6 462.6h2.3v25.7h-2.3zM389.9 380.0h4.7v108.3h-4.7z"/>
<path fill="#006400" d="M394.6 380.0h2.3v84.9h-2.3z"/>
<path fill="#00FFFF" d="M394.6 464.9h2.3v23.4h-2.3zM396.9 380.0h2.8v108.3h-2.8z"/>
<path fill="#A020F0" d="M399.7 380.0h1.9v7.0h-1.9z"/>
<path fill="#32CD32" d="M399.7 387.0h1.9v90.8h-1.9z"/>
<path fill="#00FFFF" d="M399.7 477.7h1.9v10.6h-1.9zM401.6 380.0h1.4v25.6h-1.4z"/>
<path fill="#006400" d="M401.6 405.6h1.4v4.7h-1.4z"/>
<path fill="#00FFFF" d="M401.6 410.3h1.4v78.0h-1.4zM403.0 380.0h12.3v108.3h-12.3z"/>
</g>
<g>
<path fill="#A6CEE3" d="M417.8 271.0h126.2v5.4h-126.2z"/>
<path fill="#00FFFF" d="M417.8 276.4h126.2v211.9h-126.2z"/>
<path fill="#A6CEE3" d="M417.8 271.0h1.5v4.0h-1.5z"/>
<path fill="#B22222" d="M417.8 275.0h1.5v3.4h-1.5z"/>
<path fill="#54FF9F" d="M417.8 278.4h1.5v101.6h-1.5z"/>
<path fill="#A6CEE3" d="M419.2 271.0h2.1v48.3h-2.1z"/>
<path fill="#B22222" d="M419.2 319.3h2.1v2.7h-2.1z"/>
<path fill="#6495ED" d="M419.2 322.0h2.1v2.7h-2.1z"/>
<path fill="#B22222" d="M419.2 324.7h2.1v2.7h-2.1z"/>
<path fill="#006400" d="M419.2 327.4h2.1v52.6h-2.1z"/>
<path fill="#A6CEE3" d="M421.4 271.0h2.1v2.7h-2.1z"/>
<path fill="#FF8C00" d="M421.4 273.7h2.1v2.7h-2.1z"/>
<path fill="#54FF9F" d="M421.4 276.4h2.1v13.4h-2.1z"/>
<path fill="#006400" d="M421.4 289.8h2.1v3.4h-2.1z"/>
<path fill="#00FFFF" d="M421.4 293.1h2.1v86.9h-2.1z"/>
<path fill="#A6CEE3" d="M423.5 271.0h2.4v2.7h-2.4z"/>
<path fill="#B22222" d="M423.5 273.7h2.4v2.7h-2.4z"/>
<path fill="#006400" d="M423.5 276.4h2.4v103.6h-2.4z"/>
<path fill="#A6CEE3" d="M425.9 271.0h2.4v2.7h-2.4z"/>
<path fill="#D02090" d="M425.9 273.7h2.4v5.4h-2.4z"/>
<path fill="#54FF9F" d="M425.9 279.1h2.4v12.1h-2.4z"/>
<path fill="#006400" d="M425.9 291.1h2.4v88.9h-2.4z"/>
<path fill="#A6CEE3" d="M428.3 271.0h2.1v2.7h-2.1z"/>
<path fill="#FF8C00" d="M428.3 273.7h2.1v2.7h-2.1z"/>
<path fill="#54FF9F" d="M428.3 276.4h2.1v16.1h-2.1z"/>
<path fill="#006400" d="M428.3 292.5h2.1v77.9h-2.1z"/>
<path fill="#00FFFF" d="M428.3 370.3h2.1v9.7h-2.1z"/>
<path fill="#A6CEE3" d="M430.5 271.0h2.1v10.7h-2.1z"/>
<path fill="#006400" d="M430.5 281.7h2.1v88.6h-2.1z"/>
<path fill="#00FFFF" d="M430.5 370.3h2.1v9.7h-2.1z"/>
<path fill="#A6CEE3" d="M432.6 271.0h2.1v26.8h-2.1z"/>
<path fill="#B22222" d="M432.6 297.8h2.1v2.7h-2.1z"/>
<path fill="#FFB90F" d="M432.6 300.5h2.1v2.7h-2.1z"/>
<path fill="#B22222" d="M432.6 303.2h2.1v13.4h-2.1z"/>
<path fill="#54FF9F" d="M432.6 316.6h2.1v48.3h-2.1z"/>
<path fill="#00FFFF" d="M432.6 365.0h2.1v15.0h-2.1z"/>
<path fill="#A6CEE3" d="M434.8 271.0h2.4v4.0h-2.4z"/>
<path fill="#54FF9F" d="M434.8 275.0h2.4v29.5h-2.4z"/>
<path fill="#006400" d="M434.8 304.6h2.4v41.6h-2.4z"/>
<path fill="#00FFFF" d="M434.8 346.2h2.4v33.8h-2.4z"/>
<path fill="#A6CEE3" d="M437.2 271.0h2.4v17.5h-2.4z"/>
<path fill="#FF8C00" d="M437.2 288.5h2.4v9.4h-2.4z"/>
<path fill="#A020F0" d="M437.2 297.8h2.4v4.0h-2.4z"/>
<path fill="#D02090" d="M437.2 301.9h2.4v24.2h-2.4z"/>
<path fill="#006400" d="M437.2 326.0h2.4v24.2h-2.4z"/>
<path fill="#00FFFF" d="M437.2 350.2h2.4v29.8h-2.4z"/>
<path fill="#A6CEE3" d="M439.6 271.0h2.1v4.0h-2.1z"/>
<path fill="#FF8C00" d="M439.6 275.0h2.1v2.7h-2.1z"/>
<path fill="#A020F0" d="M439.6 277.7h2.1v2.7h-2.1z"/>
<path fill="#006400" d="M439.6 280.4h2.1v71.1h-2.1z"/>
<path fill="#00FFFF" d="M439.6 351.5h2.1v28.5h-2.1z"/>
<path fill="#A6CEE3" d="M441.8 271.0h2.4v9.4h-2.4z"/>
<path fill="#FFB90F" d="M441.8 280.4h2.4v5.4h-2.4z"/>
<path fill="#A020F0" d="M441.8 285.8h2.4v24.2h-2.4z"/>
<path fill="#33A02C" d="M441.8 309.9h2.4v25.5h-2.4z"/>
<path fill="#006400" d="M441.8 335.4h2.4v16.1h-2.4z"/>
<path fill="#00FFFF" d="M441.8 351.5h2.4v28.5h-2.4z"/>
<path fill="#A6CEE3" d="M444.2 271.0h2.1v52.4h-2.1z"/>
<path fill="#00FFFF" d="M444.2 323.4h2.1v56.6h-2.1z"/>
<path fill="#A6CEE3" d="M446.3 271.0h2.1v53.7h-2.1z"/>
<path fill="#B22222" d="M446.3 324.7h2.1v2.7h-2.1z"/>
<path fill="#00FFFF" d="M446.3 327.4h2.1v52.6h-2.1z"/>
<path fill="#A6CEE3" d="M448.5 271.0h2.4v5.4h-2.4z"/>
<path fill="#A020F0" d="M448.5 276.4h2.4v2.7h-2.4z"/>
<path fill="#006400" d="M448.5 279.1h2.4v37.6h-2.4z"/>
<path fill="#00FFFF" d="M448.5 316.6h2.4v63.4h-2.4z"/>
<path fill="#A6CEE3" d="M450.9 271.0h2.1v17.5h-2.1z"/>
<path fill="#B22222" d="M450.9 288.5h2.1v4.0h-2.1z"/>
<path fill="#32CD32" d="M450.9 292.5h2.1v4.0h-2.1z"/>
<path fill="#6B8E23" d="M450.9 296.5h2.1v5.4h-2.1z"/>
<path fill="#006400" d="M450.9 301.9h2.1v33.6h-2.1z"/>
<path fill="#00FFFF" d="M450.9 335.4h2.1v44.6h-2.1z"/>
<path fill="#A6CEE3" d="M453.0 271.0h2.4v9.4h-2.4z"/>
<path fill="#B22222" d="M453.0 280.4h2.4v9.4h-2.4z"/>
<path fill="#6A5ACD" d="M453.0 289.8h2.4v2.7h-2.4z"/>
<path fill="#32CD32" d="M453.0 292.5h2.4v12.1h-2.4z"/>
<path fill="#006400" d="M453.0 304.6h2.4v55.0h-2.4z"/>
<path fill="#00FFFF" d="M453.0 359.6h2.4v20.4h-2.4z"/>
<path fill="#A6CEE3" d="M455.5 271.0h2.1v83.2h-2.1z"/>
<path fill="#FFB90F" d="M455.5 354.2h2.1v4.0h-2.1z"/>
<path fill="#D02090" d="M455.5 358.3h2.1v21.7h-2.1z"/>
<path fill="#A6CEE3" d="M457.6 271.0h2.4v14.8h-2.4z"/>
<path fill="#00008B" d="M457.6 285.8h2.4v40.3h-2.4z"/>
<path fill="#6A5ACD" d="M457.6 326.0h2.4v9.4h-2.4z"/>
<path fill="#D02090" d="M457.6 335.4h2.4v44.6h-2.4z"/>
<path fill="#A6CEE3" d="M460.0 271.0h2.1v17.5h-2.1z"/>
<path fill="#B22222" d="M460.0 288.5h2.1v9.4h-2.1z"/>
<path fill="#A020F0" d="M460.0 297.8h2.1v8.1h-2.1z"/>
<path fill="#00FF7F" d="M460.0 305.9h2.1v21.5h-2.1z"/>
<path fill="#006400" d="M460.0 327.4h2.1v52.6h-2.1z"/>
<path fill="#A6CEE3" d="M462.2 271.0h2.1v16.1h-2.1z"/>
<path fill="#A020F0" d="M462.2 287.1h2.1v4.0h-2.1z"/>
<path fill="#D02090" d="M462.2 291.1h2.1v10.7h-2.1z"/>
<path fill="#6A5ACD" d="M462.2 301.9h2.1v4.0h-2.1z"/>
<path fill="#32CD32" d="M462.2 305.9h2.1v21.5h-2.1z"/>
<path fill="#006400" d="M462.2 327.4h2.1v52.6h-2.1z"/>
<path fill="#A6CEE3" d="M464.3 271.0h2.4v52.4h-2.4z"/>
<path fill="#8B8378" d="M464.3 323.4h2.4v38.9h-2.4z"/>
<path fill="#32CD32" d="M464.3 362.3h2.4v2.7h-2.4z"/>
<path fill="#00FFFF" d="M464.3 365.0h2.4v15.0h-2.4z"/>
<path fill="#A6CEE3" d="M466.7 271.0h2.1v44.3h-2.1z"/>
<path fill="#FB9A99" d="M466.7 315.3h2.1v4.0h-2.1z"/>
<path fill="#8B8378" d="M466.7 319.3h2.1v43.0h-2.1z"/>
<path fill="#FF8C00" d="M466.7 362.3h2.1v10.7h-2.1z"/>
<path fill="#D02090" d="M466.7 373.0h2.1v7.0h-2.1z"/>
<path fill="#A6CEE3" d="M468.9 271.0h2.1v9.4h-2.1z"/>
<path fill="#8B3A2A" d="M468.9 280.4h2.1v36.2h-2.1z"/>
<path fill="#32CD32" d="M468.9 316.6h2.1v5.4h-2.1z"/>
<path fill="#006400" d="M468.9 322.0h2.1v40.3h-2.1z"/>
<path fill="#00FFFF" d="M468.9 362.3h2.1v17.7h-2.1z"/>
<path fill="#A6CEE3" d="M471.0 271.0h2.4v29.5h-2.4z"/>
<path fill="#B22222" d="M471.0 300.5h2.4v2.7h-2.4z"/>
<path fill="#8B3A2A" d="M471.0 303.2h2.4v24.2h-2.4z"/>
<path fill="#FFB90F" d="M471.0 327.4h2.4v2.7h-2.4z"/>
<path fill="#6A5ACD" d="M471.0 330.1h2.4v4.0h-2.4z"/>
<path fill="#6B8E23" d="M471.0 334.1h2.4v6.7h-2.4z"/>
<path fill="#006400" d="M471.0 340.8h2.4v24.2h-2.4z"/>
<path fill="#00FFFF" d="M471.0 365.0h2.4v15.0h-2.4z"/>
<path fill="#A6CEE3" d="M473.5 271.0h2.4v18.8h-2.4z"/>
<path fill="#CD0000" d="M473.5 289.8h2.4v2.7h-2.4z"/>
<path fill="#D02090" d="M473.5 292.5h2.4v2.7h-2.4z"/>
<path fill="#6495ED" d="M473.5 295.2h2.4v5.4h-2.4z"/>
<path fill="#32CD32" d="M473.5 300.5h2.4v4.0h-2.4z"/>
<path fill="#006400" d="M473.5 304.6h2.4v60.4h-2.4z"/>
<path fill="#00FFFF" d="M473.5 365.0h2.4v15.0h-2.4z"/>
<path fill="#A6CEE3" d="M475.9 271.0h2.1v10.7h-2.1z"/>
<path fill="#A020F0" d="M475.9 281.7h2.1v9.4h-2.1z"/>
<path fill="#D02090" d="M475.9 291.1h2.1v2.7h-2.1z"/>
<path fill="#00FF7F" d="M475.9 293.8h2.1v28.2h-2.1z"/>
<path fill="#00FFFF" d="M475.9 322.0h2.1v58.0h-2.1z"/>
<path fill="#A6CEE3" d="M478.0 271.0h2.0v13.4h-2.0z"/>
<path fill="#A020F0" d="M478.0 284.4h2.0v4.0h-2.0z"/>
<path fill="#00FF7F" d="M478.0 288.5h2.0v22.8h-2.0z"/>
<path fill="#6B8E23" d="M478.0 311.3h2.0v8.1h-2.0z"/>
<path fill="#00FFFF" d="M478.0 319.3h2.0v60.7h-2.0z"/>
<path fill="#A6CEE3" d="M480.0 271.0h1.9v4.7h-1.9z"/>
<path fill="#CD0000" d="M480.0 275.7h1.9v2.0h-1.9z"/>
<path fill="#006400" d="M480.0 277.7h1.9v79.2h-1.9z"/>
<path fill="#00FFFF" d="M480.0 356.9h1.9v23.1h-1.9z"/>
<path fill="#A6CEE3" d="M481.9 271.0h2.1v8.1h-2.1z"/>
<path fill="#006400" d="M481.9 279.1h2.1v43.0h-2.1z"/>
<path fill="#00FFFF" d="M481.9 322.0h2.1v58.0h-2.1z"/>
<path fill="#A6CEE3" d="M484.0 271.0h2.1v13.4h-2.1z"/>
<path fill="#FF8C00" d="M484.0 284.4h2.1v12.1h-2.1z"/>
<path fill="#6A5ACD" d="M484.0 296.5h2.1v2.7h-2.1z"/>
<path fill="#00FF7F" d="M484.0 299.2h2.1v44.3h-2.1z"/>
<path fill="#6B8E23" d="M484.0 343.5h2.1v10.7h-2.1z"/>
<path fill="#006400" d="M484.0 354.2h2.1v25.8h-2.1z"/>
<path fill="#A6CEE3" d="M486.2 271.0h2.1v9.4h-2.1z"/>
<path fill="#6A5ACD" d="M486.2 280.4h2.1v14.8h-2.1z"/>
<path fill="#00FF7F" d="M486.2 295.2h2.1v84.8h-2.1z"/>
<path fill="#A6CEE3" d="M488.3 271.0h2.4v12.1h-2.4z"/>
<path fill="#CD0000" d="M488.3 283.1h2.4v28.2h-2.4z"/>
<path fill="#6A5ACD" d="M488.3 311.3h2.4v68.7h-2.4z"/>
<path fill="#A6CEE3" d="M490.7 271.0h2.4v43.0h-2.4z"/>
<path fill="#D02090" d="M490.7 314.0h2.4v8.1h-2.4z"/>
<path fill="#FF8C00" d="M490.7 322.0h2.4v8.1h-2.4z"/>
<path fill="#6A5ACD" d="M490.7 330.1h2.4v49.9h-2.4z"/>
<path fill="#A6CEE3" d="M493.2 271.0h2.1v16.1h-2.1z"/>
<path fill="#FF8C00" d="M493.2 287.1h2.1v4.0h-2.1z"/>
<path fill="#A020F0" d="M493.2 291.1h2.1v4.0h-2.1z"/>
<path fill="#32CD32" d="M493.2 295.2h2.1v5.4h-2.1z"/>
<path fill="#006400" d="M493.2 300.5h2.1v60.4h-2.1z"/>
<path fill="#00FFFF" d="M493.2 360.9h2.1v19.1h-2.1z"/>
<path fill="#A6CEE3" d="M495.3 271.0h2.4v2.0h-2.4z"/>
<path fill="#A020F0" d="M495.3 273.0h2.4v2.0h-2.4z"/>
<path fill="#00FFFF" d="M495.3 275.0h2.4v105.0h-2.4z"/>
<path fill="#A6CEE3" d="M497.7 271.0h2.4v21.5h-2.4z"/>
<path fill="#FFB90F" d="M497.7 292.5h2.4v2.7h-2.4z"/>
<path fill="#A020F0" d="M497.7 295.2h2.4v5.4h-2.4z"/>
<path fill="#B22222" d="M497.7 300.5h2.4v2.7h-2.4z"/>
<path fill="#D02090" d="M497.7 303.2h2.4v76.8h-2.4z"/>
<path fill="#A6CEE3" d="M500.1 271.0h2.4v30.9h-2.4z"/>
<path fill="#FF8C00" d="M500.1 301.9h2.4v32.2h-2.4z"/>
<path fill="#D02090" d="M500.1 334.1h2.4v24.2h-2.4z"/>
<path fill="#32CD32" d="M500.1 358.3h2.4v6.7h-2.4z"/>
<path fill="#006400" d="M500.1 365.0h2.4v15.0h-2.4z"/>
<path fill="#A6CEE3" d="M502.6 271.0h2.1v2.7h-2.1z"/>
<path fill="#A020F0" d="M502.6 273.7h2.1v4.0h-2.1z"/>
<path fill="#006400" d="M502.6 277.7h2.1v17.5h-2.1z"/>
<path fill="#00FFFF" d="M502.6 295.2h2.1v84.8h-2.1z"/>
<path fill="#A6CEE3" d="M504.7 271.0h2.1v16.1h-2.1z"/>
<path fill="#A020F0" d="M504.7 287.1h2.1v9.4h-2.1z"/>
<path fill="#00FF7F" d="M504.7 296.5h2.1v8.1h-2.1z"/>
<path fill="#006400" d="M504.7 304.6h2.1v2.7h-2.1z"/>
<path fill="#00FFFF" d="M504.7 307.2h2.1v72.8h-2.1z"/>
<path fill="#A6CEE3" d="M506.8 271.0h2.4v99.3h-2.4z"/>
<path fill="#00008B" d="M506.8 370.3h2.4v9.7h-2.4z"/>
<path fill="#A6CEE3" d="M509.3 271.0h2.4v53.7h-2.4z"/>
<path fill="#A020F0" d="M509.3 324.7h2.4v4.0h-2.4z"/>
<path fill="#FF8C00" d="M509.3 328.7h2.4v8.1h-2.4z"/>
<path fill="#6A5ACD" d="M509.3 336.8h2.4v43.2h-2.4z"/>
<path fill="#A6CEE3" d="M511.7 271.0h2.4v30.9h-2.4z"/>
<path fill="#00FFFF" d="M511.7 301.9h2.4v78.1h-2.4z"/>
<path fill="#A6CEE3" d="M514.1 271.0h2.1v12.1h-2.1z"/>
<path fill="#B22222" d="M514.1 283.1h2.1v2.7h-2.1z"/>
<path fill="#32CD32" d="M514.1 285.8h2.1v14.8h-2.1z"/>
<path fill="#00FFFF" d="M514.1 300.5h2.1v79.5h-2.1z"/>
<path fill="#A6CEE3" d="M516.2 271.0h2.1v8.1h-2.1z"/>
<path fill="#CD0000" d="M516.2 279.1h2.1v13.4h-2.1z"/>
<path fill="#00008B" d="M516.2 292.5h2.1v8.1h-2.1z"/>
<path fill="#6A5ACD" d="M516.2 300.5h2.1v5.4h-2.1z"/>
<path fill="#3CB371" d="M516.2 305.9h2.1v13.4h-2.1z"/>
<path fill="#00FFFF" d="M516.2 319.3h2.1v60.7h-2.1z"/>
<path fill="#A6CEE3" d="M518.4 271.0h2.1v61.7h-2.1z"/>
<path fill="#A020F0" d="M518.4 332.7h2.1v18.8h-2.1z"/>
<path fill="#D02090" d="M518.4 351.5h2.1v8.1h-2.1z"/>
<path fill="#32CD32" d="M518.4 359.6h2.1v8.1h-2.1z"/>
<path fill="#00FFFF" d="M518.4 367.7h2.1v12.3h-2.1z"/>
<path fill="#A6CEE3" d="M520.5 271.0h2.4v5.4h-2.4z"/>
<path fill="#404040" d="M520.5 276.4h2.4v57.7h-2.4z"/>
<path fill="#A020F0" d="M520.5 334.1h2.4v12.1h-2.4z"/>
<path fill="#FF8C00" d="M520.5 346.2h2.4v5.4h-2.4z"/>
<path fill="#6A5ACD" d="M520.5 351.5h2.4v28.5h-2.4z"/>
<path fill="#A6CEE3" d="M523.0 271.0h2.1v75.2h-2.1z"/>
<path fill="#FF8C00" d="M523.0 346.2h2.1v5.4h-2.1z"/>
<path fill="#00FF7F" d="M523.0 351.5h2.1v28.5h-2.1z"/>
<path fill="#A6CEE3" d="M525.1 271.0h2.1v29.5h-2.1z"/>
<path fill="#B22222" d="M525.1 300.5h2.1v2.7h-2.1z"/>
<path fill="#00FF7F" d="M525.1 303.2h2.1v34.9h-2.1z"/>
<path fill="#006400" d="M525.1 338.1h2.1v5.4h-2.1z"/>
<path fill="#00FFFF" d="M525.1 343.5h2.1v36.5h-2.1z"/>
<path fill="#A6CEE3" d="M527.3 271.0h2.4v28.2h-2.4z"/>
<path fill="#CD0000" d="M527.3 299.2h2.4v12.1h-2.4z"/>
<path fill="#6A5ACD" d="M527.3 311.3h2.4v37.6h-2.4z"/>
<path fill="#32CD32" d="M527.3 348.9h2.4v31.1h-2.4z"/>
<path fill="#A6CEE3" d="M529.7 271.0h2.4v10.7h-2.4z"/>
<path fill="#00008B" d="M529.7 281.7h2.4v98.3h-2.4z"/>
<path fill="#A6CEE3" d="M532.1 271.0h2.1v2.7h-2.1z"/>
<path fill="#A020F0" d="M532.1 273.7h2.1v5.4h-2.1z"/>
<path fill="#00FFFF" d="M532.1 279.1h2.1v100.9h-2.1z"/>
<path fill="#A6CEE3" d="M534.2 271.0h2.4v25.5h-2.4z"/>
<path fill="#CD0000" d="M534.2 296.5h2.4v53.7h-2.4z"/>
<path fill="#A020F0" d="M534.2 350.2h2.4v9.4h-2.4z"/>
<path fill="#FF8C00" d="M534.2 359.6h2.4v10.7h-2.4z"/>
<path fill="#32CD32" d="M534.2 370.3h2.4v9.7h-2.4z"/>
<path fill="#A6CEE3" d="M536.6 271.0h2.1v79.2h-2.1z"/>
<path fill="#FF8C00" d="M536.6 350.2h2.1v2.7h-2.1z"/>
<path fill="#A020F0" d="M536.6 352.9h2.1v5.4h-2.1z"/>
<path fill="#FF8C00" d="M536.6 358.3h2.1v12.1h-2.1z"/>
<path fill="#6A5ACD" d="M536.6 370.3h2.1v5.4h-2.1z"/>
<path fill="#00FFFF" d="M536.6 375.7h2.1v4.3h-2.1z"/>
<path fill="#A6CEE3" d="M538.8 271.0h2.4v8.1h-2.4z"/>
<path fill="#A020F0" d="M538.8 279.1h2.4v4.0h-2.4z"/>
<path fill="#33A02C" d="M538.8 283.1h2.4v17.5h-2.4z"/>
<path fill="#00FFFF" d="M538.8 300.5h2.4v79.5h-2.4z"/>
<path fill="#A6CEE3" d="M541.2 271.0h2.8v4.0h-2.8z"/>
<path fill="#FF8C00" d="M541.2 275.0h2.8v2.0h-2.8z"/>
<path fill="#A020F0" d="M541.2 277.0h2.8v3.4h-2.8z"/>
<path fill="#32CD32" d="M541.2 280.4h2.8v20.1h-2.8z"/>
<path fill="#006400" d="M541.2 300.5h2.8v5.4h-2.8z"/>
<path fill="#00FFFF" d="M541.2 305.9h2.8v74.1h-2.8z"/>
<path fill="#54FF9F" d="M417.8 380.0h1.5v72.1h-1.5z"/>
<path fill="#006400" d="M417.8 452.1h1.5v25.6h-1.5z"/>
<path fill="#00FFFF" d="M417.8 477.7h1.5v10.6h-1.5z"/>
<path fill="#006400" d="M419.3 380.0h1.9v27.9h-1.9z"/>
<path fill="#00FFFF" d="M419.3 407.9h1.9v80.4h-1.9zM421.1 380.0h3.3v108.3h-3.3z"/>
<path fill="#006400" d="M424.4 380.0h1.9v39.6h-1.9z"/>
<path fill="#00FFFF" d="M424.4 419.6h1.9v68.7h-1.9z"/>
<path fill="#006400" d="M426.2 380.0h1.9v93.1h-1.9z"/>
<path fill="#00FFFF" d="M426.2 473.1h1.9v15.2h-1.9zM428.1 380.0h4.2v108.3h-4.2z"/>
<path fill="#32CD32" d="M432.3 380.0h2.3v14.0h-2.3z"/>
<path fill="#006400" d="M432.3 394.0h2.3v23.3h-2.3z"/>
<path fill="#00FFFF" d="M432.3 417.2h2.3v71.1h-2.3zM434.6 380.0h3.3v108.3h-3.3z"/>
<path fill="#006400" d="M437.9 380.0h1.6v26.8h-1.6z"/>
<path fill="#00FFFF" d="M437.9 406.8h1.6v81.5h-1.6z"/>
<path fill="#006400" d="M439.5 380.0h1.6v62.8h-1.6z"/>
<path fill="#00FFFF" d="M439.5 442.8h1.6v45.5h-1.6zM441.1 380.0h5.1v108.3h-5.1zM446.3 380.0h2.3v14.0h-2.3z"/>
<path fill="#6B8E23" d="M446.3 394.0h2.3v69.8h-2.3z"/>
<path fill="#006400" d="M446.3 463.8h2.3v14.0h-2.3z"/>
<path fill="#00FFFF" d="M446.3 477.7h2.3v10.6h-2.3zM448.6 380.0h7.4v108.3h-7.4zM456.0 380.0h1.9v37.2h-1.9z"/>
<path fill="#006400" d="M456.0 417.2h1.9v37.2h-1.9z"/>
<path fill="#00FFFF" d="M456.0 454.5h1.9v33.8h-1.9z"/>
<path fill="#A020F0" d="M457.9 380.0h2.3v4.7h-2.3z"/>
<path fill="#D02090" d="M457.9 384.7h2.3v53.5h-2.3z"/>
<path fill="#006400" d="M457.9 438.2h2.3v4.7h-2.3z"/>
<path fill="#00FFFF" d="M457.9 442.8h2.3v45.5h-2.3zM460.2 380.0h4.2v108.3h-4.2zM464.4 380.0h2.8v7.0h-2.8z"/>
<path fill="#FF8C00" d="M464.4 387.0h2.8v7.0h-2.8z"/>
<path fill="#006400" d="M464.4 394.0h2.8v44.2h-2.8z"/>
<path fill="#00FFFF" d="M464.4 438.2h2.8v50.1h-2.8zM467.2 380.0h3.7v108.3h-3.7z"/>
<path fill="#006400" d="M470.9 380.0h2.3v38.4h-2.3z"/>
<path fill="#00FFFF" d="M470.9 418.4h2.3v69.9h-2.3zM473.3 380.0h12.6v108.3h-12.6z"/>
<path fill="#6B8E23" d="M485.8 380.0h1.9v102.4h-1.9z"/>
<path fill="#00FFFF" d="M485.8 482.4h1.9v5.9h-1.9z"/>
<path fill="#6A5ACD" d="M488.6 380.0h2.3v54.7h-2.3z"/>
<path fill="#006400" d="M488.6 434.7h2.3v36.1h-2.3z"/>
<path fill="#00FFFF" d="M488.6 470.8h2.3v17.5h-2.3zM490.9 380.0h2.3v30.3h-2.3z"/>
<path fill="#B22222" d="M490.9 410.3h2.3v4.7h-2.3z"/>
<path fill="#32CD32" d="M490.9 414.9h2.3v34.9h-2.3z"/>
<path fill="#00FFFF" d="M490.9 449.8h2.3v38.5h-2.3zM493.3 380.0h4.7v108.3h-4.7z"/>
<path fill="#D02090" d="M497.9 380.0h2.3v58.2h-2.3z"/>
<path fill="#6B8E23" d="M497.9 438.2h2.3v11.6h-2.3z"/>
<path fill="#006400" d="M497.9 449.8h2.3v9.3h-2.3z"/>
<path fill="#00FFFF" d="M497.9 459.1h2.3v29.2h-2.3zM500.2 380.0h7.4v108.3h-7.4z"/>
<path fill="#6A5ACD" d="M507.7 380.0h3.3v18.6h-3.3z"/>
<path fill="#6B8E23" d="M507.7 398.6h3.3v39.6h-3.3z"/>
<path fill="#006400" d="M507.7 438.2h3.3v9.3h-3.3z"/>
<path fill="#00FFFF" d="M507.7 447.5h3.3v40.8h-3.3zM511.0 380.0h2.3v57.0h-2.3z"/>
<path fill="#CD0000" d="M511.0 437.0h2.3v3.5h-2.3z"/>
<path fill="#A020F0" d="M511.0 440.5h2.3v3.5h-2.3z"/>
<path fill="#32CD32" d="M511.0 444.0h2.3v38.4h-2.3z"/>
<path fill="#00FFFF" d="M511.0 482.4h2.3v5.9h-2.3zM513.3 380.0h5.1v108.3h-5.1zM518.4 380.0h2.8v7.0h-2.8z"/>
<path fill="#006400" d="M518.4 387.0h2.8v16.3h-2.8z"/>
<path fill="#00FFFF" d="M518.4 403.3h2.8v85.0h-2.8zM521.2 380.0h3.3v23.3h-3.3z"/>
<path fill="#6B8E23" d="M521.2 403.3h3.3v55.9h-3.3z"/>
<path fill="#006400" d="M521.2 459.1h3.3v4.7h-3.3z"/>
<path fill="#00FFFF" d="M521.2 463.8h3.3v24.5h-3.3zM524.5 380.0h5.1v108.3h-5.1z"/>
<path fill="#00008B" d="M529.6 380.0h1.9v84.9h-1.9z"/>
<path fill="#A020F0" d="M529.6 464.9h1.9v4.7h-1.9z"/>
<path fill="#32CD32" d="M529.6 469.6h1.9v12.8h-1.9z"/>
<path fill="#00FFFF" d="M529.6 482.4h1.9v5.9h-1.9zM531.4 380.0h4.7v108.3h-4.7z"/>
<path fill="#6B8E23" d="M536.1 380.0h2.3v52.4h-2.3z"/>
<path fill="#00FFFF" d="M536.1 432.4h2.3v55.9h-2.3zM538.4 380.0h5.6v108.3h-5.6z"/>
</g>
<g>
<path fill="#A6CEE3" d="M31.5 513.3h126.2v108.7h-126.2z"/>
<path fill="#32CD32" d="M31.5 622.0h126.2v100.4h-126.2z"/>
<path fill="#00FFFF" d="M31.5 722.4h126.2v8.2h-126.2z"/>
<path fill="#A6CEE3" d="M31.5 513.3h2.1v74.9h-2.1z"/>
<path fill="#FB9A99" d="M31.5 588.2h2.1v5.4h-2.1z"/>
<path fill="#B22222" d="M31.5 593.5h2.1v6.7h-2.1z"/>
<path fill="#404040" d="M31.5 600.3h2.1v2.7h-2.1z"/>
<path fill="#A020F0" d="M31.5 602.9h2.1v6.7h-2.1z"/>
<path fill="#FF8C00" d="M31.5 609.7h2.1v8.1h-2.1z"/>
<path fill="#D02090" d="M31.5 617.7h2.1v4.3h-2.1z"/>
<path fill="#A6CEE3" d="M33.7 513.3h2.4v77.6h-2.4z"/>
<path fill="#B22222" d="M33.7 590.9h2.4v8.1h-2.4z"/>
<path fill="#FB9A99" d="M33.7 598.9h2.4v2.7h-2.4z"/>
<path fill="#A020F0" d="M33.7 601.6h2.4v5.4h-2.4z"/>
<path fill="#FF8C00" d="M33.7 607.0h2.4v8.1h-2.4z"/>
<path fill="#6A5ACD" d="M33.7 615.0h2.4v7.0h-2.4z"/>
<path fill="#A6CEE3" d="M36.1 513.3h2.1v80.2h-2.1z"/>
<path fill="#FB9A99" d="M36.1 593.5h2.1v6.7h-2.1z"/>
<path fill="#FFB90F" d="M36.1 600.3h2.1v6.7h-2.1z"/>
<path fill="#A020F0" d="M36.1 607.0h2.1v8.1h-2.1z"/>
<path fill="#B22222" d="M36.1 615.0h2.1v7.0h-2.1z"/>
<path fill="#A6CEE3" d="M38.2 513.3h2.1v93.7h-2.1z"/>
<path fill="#FFB90F" d="M38.2 607.0h2.1v4.0h-2.1z"/>
<path fill="#A020F0" d="M38.2 611.0h2.1v6.7h-2.1z"/>
<path fill="#B22222" d="M38.2 617.7h2.1v4.3h-2.1z"/>
<path fill="#A6CEE3" d="M40.4 513.3h2.1v99.0h-2.1z"/>
<path fill="#B22222" d="M40.4 612.3h2.1v5.4h-2.1z"/>
<path fill="#00008B" d="M40.4 617.7h2.1v4.3h-2.1z"/>
<path fill="#A6CEE3" d="M42.5 513.3h2.4v3.7h-2.4z"/>
<path fill="#B22222" d="M42.5 517.0h2.4v2.7h-2.4z"/>
<path fill="#32CD32" d="M42.5 519.7h2.4v3.4h-2.4z"/>
<path fill="#00FFFF" d="M42.5 523.1h2.4v98.9h-2.4z"/>
<path fill="#A6CEE3" d="M45.0 513.3h2.4v25.2h-2.4z"/>
<path fill="#D02090" d="M45.0 538.5h2.4v83.5h-2.4z"/>
<path fill="#A6CEE3" d="M47.4 513.3h2.1v100.4h-2.1z"/>
<path fill="#B22222" d="M47.4 613.7h2.1v8.3h-2.1z"/>
<path fill="#A6CEE3" d="M49.5 513.3h2.1v80.2h-2.1z"/>
<path fill="#006400" d="M49.5 593.5h2.1v2.7h-2.1z"/>
<path fill="#00008B" d="M49.5 596.2h2.1v4.0h-2.1z"/>
<path fill="#B22222" d="M49.5 600.3h2.1v4.0h-2.1z"/>
<path fill="#6A5ACD" d="M49.5 604.3h2.1v17.7h-2.1z"/>
<path fill="#A6CEE3" d="M51.7 513.3h2.4v18.5h-2.4z"/>
<path fill="#6A5ACD" d="M51.7 531.8h2.4v5.4h-2.4z"/>
<path fill="#00FF7F" d="M51.7 537.2h2.4v84.8h-2.4z"/>
<path fill="#A6CEE3" d="M54.1 513.3h4.3v108.7h-4.3zM58.4 513.3h2.1v73.5h-2.1z"/>
<path fill="#00008B" d="M58.4 586.8h2.1v2.7h-2.1z"/>
<path fill="#FFB90F" d="M58.4 589.5h2.1v14.8h-2.1z"/>
<path fill="#B22222" d="M58.4 604.3h2.1v17.7h-2.1z"/>
<path fill="#A6CEE3" d="M60.5 513.3h2.7v31.9h-2.7z"/>
<path fill="#FB9A99" d="M60.5 545.2h2.7v6.7h-2.7z"/>
<path fill="#FFB90F" d="M60.5 551.9h2.7v6.7h-2.7z"/>
<path fill="#6A5ACD" d="M60.5 558.6h2.7v4.0h-2.7z"/>
<path fill="#D02090" d="M60.5 562.7h2.7v5.4h-2.7z"/>
<path fill="#00FF7F" d="M60.5 568.0h2.7v54.0h-2.7z"/>
<path fill="#A6CEE3" d="M63.2 513.3h2.4v104.4h-2.4z"/>
<path fill="#D02090" d="M63.2 617.7h2.4v4.3h-2.4z"/>
<path fill="#A6CEE3" d="M65.6 513.3h2.1v93.7h-2.1z"/>
<path fill="#A020F0" d="M65.6 607.0h2.1v2.7h-2.1z"/>
<path fill="#D02090" d="M65.6 609.7h2.1v12.3h-2.1z"/>
<path fill="#A6CEE3" d="M67.8 513.3h2.1v100.4h-2.1z"/>
<path fill="#B22222" d="M67.8 613.7h2.1v8.3h-2.1z"/>
<path fill="#A6CEE3" d="M69.9 513.3h2.1v105.7h-2.1z"/>
<path fill="#B22222" d="M69.9 619.0h2.1v3.0h-2.1z"/>
<path fill="#A6CEE3" d="M72.1 513.3h2.1v89.6h-2.1z"/>
<path fill="#A020F0" d="M72.1 602.9h2.1v5.4h-2.1z"/>
<path fill="#FF8C00" d="M72.1 608.3h2.1v6.7h-2.1z"/>
<path fill="#D02090" d="M72.1 615.0h2.1v7.0h-2.1z"/>
<path fill="#A6CEE3" d="M74.2 513.3h2.4v44.0h-2.4z"/>
<path fill="#B22222" d="M74.2 557.3h2.4v18.8h-2.4z"/>
<path fill="#D02090" d="M74.2 576.1h2.4v45.9h-2.4z"/>
<path fill="#A6CEE3" d="M76.6 513.3h2.1v101.7h-2.1z"/>
<path fill="#FF8C00" d="M76.6 615.0h2.1v4.0h-2.1z"/>
<path fill="#B22222" d="M76.6 619.0h2.1v3.0h-2.1z"/>
<path fill="#A6CEE3" d="M78.8 513.3h2.1v108.7h-2.1zM80.9 513.3h2.4v70.8h-2.4z"/>
<path fill="#00008B" d="M80.9 584.1h2.4v10.7h-2.4z"/>
<path fill="#FFB90F" d="M80.9 594.9h2.4v6.7h-2.4z"/>
<path fill="#A020F0" d="M80.9 601.6h2.4v5.4h-2.4z"/>
<path fill="#D02090" d="M80.9 607.0h2.4v15.0h-2.4z"/>
<path fill="#A6CEE3" d="M83.4 513.3h2.4v26.5h-2.4z"/>
<path fill="#8B3A2A" d="M83.4 539.8h2.4v65.8h-2.4z"/>
<path fill="#00008B" d="M83.4 605.6h2.4v16.4h-2.4z"/>
<path fill="#A6CEE3" d="M85.8 513.3h2.1v92.3h-2.1z"/>
<path fill="#00008B" d="M85.8 605.6h2.1v9.4h-2.1z"/>
<path fill="#B22222" d="M85.8 615.0h2.1v7.0h-2.1z"/>
<path fill="#A6CEE3" d="M87.9 513.3h2.1v78.9h-2.1z"/>
<path fill="#32CD32" d="M87.9 592.2h2.1v3.4h-2.1z"/>
<path fill="#FFB90F" d="M87.9 595.6h2.1v8.7h-2.1z"/>
<path fill="#A020F0" d="M87.9 604.3h2.1v2.7h-2.1z"/>
<path fill="#00FF7F" d="M87.9 607.0h2.1v15.0h-2.1z"/>
<path fill="#A6CEE3" d="M90.1 513.3h2.1v80.2h-2.1z"/>
<path fill="#A020F0" d="M90.1 593.5h2.1v28.5h-2.1z"/>
<path fill="#A6CEE3" d="M92.2 513.3h2.8v85.6h-2.8z"/>
<path fill="#D02090" d="M92.2 598.9h2.8v8.1h-2.8z"/>
<path fill="#A6CEE3" d="M92.2 607.0h2.8v9.4h-2.8z"/>
<path fill="#32CD32" d="M92.2 616.4h2.8v5.6h-2.8z"/>
<path fill="#A6CEE3" d="M95.0 513.3h1.6v84.3h-1.6z"/>
<path fill="#B22222" d="M95.0 597.6h1.6v24.4h-1.6z"/>
<path fill="#A6CEE3" d="M96.6 513.3h2.4v46.7h-2.4z"/>
<path fill="#FFB90F" d="M96.6 560.0h2.4v4.0h-2.4z"/>
<path fill="#D02090" d="M96.6 564.0h2.4v9.4h-2.4z"/>
<path fill="#00FF7F" d="M96.6 573.4h2.4v48.6h-2.4z"/>
<path fill="#A6CEE3" d="M99.0 513.3h2.1v78.9h-2.1z"/>
<path fill="#FB9A99" d="M99.0 592.2h2.1v6.7h-2.1z"/>
<path fill="#A6CEE3" d="M99.0 598.9h2.1v2.7h-2.1z"/>
<path fill="#B22222" d="M99.0 601.6h2.1v4.0h-2.1z"/>
<path fill="#00FF7F" d="M99.0 605.6h2.1v16.4h-2.1z"/>
<path fill="#A6CEE3" d="M101.2 513.3h2.1v108.7h-2.1zM103.3 513.3h2.4v72.2h-2.4z"/>
<path fill="#FFB90F" d="M103.3 585.5h2.4v2.7h-2.4z"/>
<path fill="#B22222" d="M103.3 588.2h2.4v12.1h-2.4z"/>
<path fill="#6A5ACD" d="M103.3 600.3h2.4v21.7h-2.4z"/>
<path fill="#A6CEE3" d="M105.7 513.3h2.1v108.7h-2.1zM107.9 513.3h2.1v92.3h-2.1z"/>
<path fill="#FB9A99" d="M107.9 605.6h2.1v4.0h-2.1z"/>
<path fill="#D02090" d="M107.9 609.7h2.1v8.1h-2.1z"/>
<path fill="#FF8C00" d="M107.9 617.7h2.1v4.3h-2.1z"/>
<path fill="#A6CEE3" d="M110.0 513.3h2.1v103.1h-2.1z"/>
<path fill="#00008B" d="M110.0 616.4h2.1v2.7h-2.1z"/>
<path fill="#FF8C00" d="M110.0 619.0h2.1v3.0h-2.1z"/>
<path fill="#A6CEE3" d="M112.2 513.3h2.4v103.1h-2.4z"/>
<path fill="#00008B" d="M112.2 616.4h2.4v2.7h-2.4z"/>
<path fill="#D02090" d="M112.2 619.0h2.4v3.0h-2.4z"/>
<path fill="#A6CEE3" d="M114.6 513.3h2.1v91.0h-2.1z"/>
<path fill="#D02090" d="M114.6 604.3h2.1v17.7h-2.1z"/>
<path fill="#A6CEE3" d="M116.7 513.3h2.4v66.8h-2.4z"/>
<path fill="#FFB90F" d="M116.7 580.1h2.4v20.1h-2.4z"/>
<path fill="#A020F0" d="M116.7 600.3h2.4v6.7h-2.4z"/>
<path fill="#00FF7F" d="M116.7 607.0h2.4v15.0h-2.4z"/>
<path fill="#A6CEE3" d="M119.2 513.3h2.4v58.8h-2.4z"/>
<path fill="#00008B" d="M119.2 572.1h2.4v2.0h-2.4z"/>
<path fill="#FFB90F" d="M119.2 574.1h2.4v8.7h-2.4z"/>
<path fill="#6A5ACD" d="M119.2 582.8h2.4v21.5h-2.4z"/>
<path fill="#00FF7F" d="M119.2 604.3h2.4v17.7h-2.4z"/>
<path fill="#A6CEE3" d="M121.6 513.3h2.1v42.7h-2.1z"/>
<path fill="#B22222" d="M121.6 556.0h2.1v3.4h-2.1z"/>
<path fill="#FDBF6F" d="M121.6 559.3h2.1v10.1h-2.1z"/>
<path fill="#006400" d="M121.6 569.4h2.1v18.8h-2.1z"/>
<path fill="#00FF7F" d="M121.6 588.2h2.1v33.8h-2.1z"/>
<path fill="#A6CEE3" d="M123.7 513.3h2.4v11.1h-2.4z"/>
<path fill="#FDBF6F" d="M123.7 524.4h2.4v42.3h-2.4z"/>
<path fill="#54FF9F" d="M123.7 566.7h2.4v21.5h-2.4z"/>
<path fill="#404040" d="M123.7 588.2h2.4v33.8h-2.4z"/>
<path fill="#A6CEE3" d="M126.1 513.3h2.4v108.7h-2.4zM128.6 513.3h1.9v101.7h-1.9z"/>
<path fill="#FFB90F" d="M128.6 615.0h1.9v4.0h-1.9z"/>
<path fill="#B22222" d="M128.6 619.0h1.9v3.0h-1.9z"/>
<path fill="#A6CEE3" d="M130.4 513.3h2.4v59.4h-2.4z"/>
<path fill="#33A02C" d="M130.4 572.7h2.4v32.9h-2.4z"/>
<path fill="#FFB90F" d="M130.4 605.6h2.4v4.0h-2.4z"/>
<path fill="#D02090" d="M130.4 609.7h2.4v12.3h-2.4z"/>
<path fill="#A6CEE3" d="M132.9 513.3h2.1v92.3h-2.1z"/>
<path fill="#FFB90F" d="M132.9 605.6h2.1v2.7h-2.1z"/>
<path fill="#D02090" d="M132.9 608.3h2.1v13.7h-2.1z"/>
<path fill="#A6CEE3" d="M135.0 513.3h2.4v45.3h-2.4z"/>
<path fill="#404040" d="M135.0 558.6h2.4v63.4h-2.4z"/>
<path fill="#A6CEE3" d="M137.4 513.3h2.1v108.7h-2.1zM139.6 513.3h2.1v99.0h-2.1z"/>
<path fill="#6A5ACD" d="M139.6 612.3h2.1v9.7h-2.1z"/>
<path fill="#A6CEE3" d="M141.7 513.3h2.4v60.1h-2.4z"/>
<path fill="#FF8C00" d="M141.7 573.4h2.4v5.4h-2.4z"/>
<path fill="#B22222" d="M141.7 578.8h2.4v9.4h-2.4z"/>
<path fill="#6A5ACD" d="M141.7 588.2h2.4v8.1h-2.4z"/>
<path fill="#D02090" d="M141.7 596.2h2.4v4.0h-2.4z"/>
<path fill="#00FF7F" d="M141.7 600.3h2.4v21.7h-2.4z"/>
<path fill="#A6CEE3" d="M144.1 513.3h2.4v6.4h-2.4z"/>
<path fill="#00008B" d="M144.1 519.7h2.4v102.3h-2.4z"/>
<path fill="#A6CEE3" d="M146.5 513.3h2.1v14.5h-2.1z"/>
<path fill="#A8E3D6" d="M146.5 527.8h2.1v72.5h-2.1z"/>
<path fill="#A6CEE3" d="M146.5 600.3h2.1v21.7h-2.1zM148.7 513.3h2.4v72.2h-2.4z"/>
<path fill="#404040" d="M148.7 585.5h2.4v6.7h-2.4z"/>
<path fill="#FFB90F" d="M148.7 592.2h2.4v6.7h-2.4z"/>
<path fill="#FF8C00" d="M148.7 598.9h2.4v10.7h-2.4z"/>
<path fill="#B22222" d="M148.7 609.7h2.4v9.4h-2.4z"/>
<path fill="#00FF7F" d="M148.7 619.0h2.4v3.0h-2.4z"/>
<path fill="#A6CEE3" d="M151.1 513.3h2.4v84.3h-2.4z"/>
<path fill="#B22222" d="M151.1 597.6h2.4v2.7h-2.4z"/>
<path fill="#00FF7F" d="M151.1 600.3h2.4v21.7h-2.4z"/>
<path fill="#A6CEE3" d="M153.5 513.3h2.1v76.2h-2.1z"/>
<path fill="#D02090" d="M153.5 589.5h2.1v6.7h-2.1z"/>
<path fill="#00FF7F" d="M153.5 596.2h2.1v25.8h-2.1z"/>
<path fill="#A6CEE3" d="M155.7 513.3h2.0v101.7h-2.0z"/>
<path fill="#00008B" d="M155.7 615.0h2.0v2.7h-2.0z"/>
<path fill="#FFB90F" d="M155.7 617.7h2.0v4.3h-2.0z"/>
<path fill="#D02090" d="M31.5 622.0h2.1v26.8h-2.1z"/>
<path fill="#32CD32" d="M31.5 648.8h2.1v29.5h-2.1z"/>
<path fill="#006400" d="M31.5 678.4h2.1v21.5h-2.1z"/>
<path fill="#00FFFF" d="M31.5 699.9h2.1v30.7h-2.1z"/>
<path fill="#B22222" d="M33.7 622.0h2.1v4.0h-2.1z"/>
<path fill="#32CD32" d="M33.7 626.0h2.1v13.4h-2.1z"/>
<path fill="#006400" d="M33.7 639.5h2.1v12.1h-2.1z"/>
<path fill="#32CD32" d="M33.7 651.5h2.1v37.6h-2.1z"/>
<path fill="#006400" d="M33.7 689.1h2.1v9.4h-2.1z"/>
<path fill="#00FFFF" d="M33.7 698.5h2.1v32.1h-2.1z"/>
<path fill="#FB9A99" d="M35.8 622.0h2.4v57.7h-2.4z"/>
<path fill="#FFB90F" d="M35.8 679.7h2.4v5.4h-2.4z"/>
<path fill="#B22222" d="M35.8 685.1h2.4v6.7h-2.4z"/>
<path fill="#32CD32" d="M35.8 691.8h2.4v29.5h-2.4z"/>
<path fill="#006400" d="M35.8 721.3h2.4v4.0h-2.4z"/>
<path fill="#00FFFF" d="M35.8 725.4h2.4v5.2h-2.4z"/>
<path fill="#00FF7F" d="M38.2 622.0h2.1v56.4h-2.1z"/>
<path fill="#006400" d="M38.2 678.4h2.1v8.1h-2.1z"/>
<path fill="#00FFFF" d="M38.2 686.4h2.1v44.2h-2.1z"/>
<path fill="#A6CEE3" d="M40.4 622.0h2.1v4.0h-2.1z"/>
<path fill="#FFB90F" d="M40.4 626.0h2.1v5.4h-2.1z"/>
<path fill="#6A5ACD" d="M40.4 631.4h2.1v28.2h-2.1z"/>
<path fill="#32CD32" d="M40.4 659.6h2.1v26.8h-2.1z"/>
<path fill="#00FFFF" d="M40.4 686.4h2.1v44.2h-2.1zM42.5 622.0h2.4v40.3h-2.4z"/>
<path fill="#32CD32" d="M42.5 662.3h2.4v16.1h-2.4z"/>
<path fill="#00FFFF" d="M42.5 678.4h2.4v52.2h-2.4z"/>
<path fill="#D02090" d="M45.0 622.0h2.1v16.1h-2.1z"/>
<path fill="#32CD32" d="M45.0 638.1h2.1v24.2h-2.1z"/>
<path fill="#3CB371" d="M45.0 662.3h2.1v40.3h-2.1z"/>
<path fill="#00FFFF" d="M45.0 702.5h2.1v28.1h-2.1z"/>
<path fill="#D02090" d="M47.1 622.0h2.4v40.3h-2.4z"/>
<path fill="#32CD32" d="M47.1 662.3h2.4v24.2h-2.4z"/>
<path fill="#3CB371" d="M47.1 686.4h2.4v29.5h-2.4z"/>
<path fill="#00FFFF" d="M47.1 716.0h2.4v14.6h-2.4z"/>
<path fill="#A020F0" d="M49.5 622.0h2.1v9.4h-2.1z"/>
<path fill="#00FF7F" d="M49.5 631.4h2.1v57.7h-2.1z"/>
<path fill="#006400" d="M49.5 689.1h2.1v2.7h-2.1z"/>
<path fill="#00FFFF" d="M49.5 691.8h2.1v38.8h-2.1z"/>
<path fill="#A6CEE3" d="M51.7 622.0h2.4v9.4h-2.4z"/>
<path fill="#00FF7F" d="M51.7 631.4h2.4v30.9h-2.4z"/>
<path fill="#32CD32" d="M51.7 662.3h2.4v40.3h-2.4z"/>
<path fill="#00FFFF" d="M51.7 702.5h2.4v28.1h-2.4z"/>
<path fill="#A6CEE3" d="M54.1 622.0h2.1v20.1h-2.1z"/>
<path fill="#FFB90F" d="M54.1 642.1h2.1v2.7h-2.1z"/>
<path fill="#D02090" d="M54.1 644.8h2.1v28.2h-2.1z"/>
<path fill="#32CD32" d="M54.1 673.0h2.1v53.7h-2.1z"/>
<path fill="#00FFFF" d="M54.1 726.7h2.1v3.9h-2.1z"/>
<path fill="#A6CEE3" d="M56.2 622.0h2.1v5.4h-2.1z"/>
<path fill="#FFB90F" d="M56.2 627.4h2.1v2.7h-2.1z"/>
<path fill="#32CD32" d="M56.2 630.1h2.1v25.5h-2.1z"/>
<path fill="#3CB371" d="M56.2 655.6h2.1v49.7h-2.1z"/>
<path fill="#00FFFF" d="M56.2 705.2h2.1v25.4h-2.1z"/>
<path fill="#32CD32" d="M58.4 622.0h2.1v13.4h-2.1z"/>
<path fill="#3CB371" d="M58.4 635.4h2.1v61.7h-2.1z"/>
<path fill="#006400" d="M58.4 697.2h2.1v5.4h-2.1z"/>
<path fill="#00FFFF" d="M58.4 702.5h2.1v28.1h-2.1z"/>
<path fill="#32CD32" d="M60.5 622.0h2.1v8.1h-2.1z"/>
<path fill="#3CB371" d="M60.5 630.1h2.1v72.5h-2.1z"/>
<path fill="#00FFFF" d="M60.5 702.5h2.1v8.1h-2.1z"/>
<path fill="#006400" d="M60.5 710.6h2.1v5.4h-2.1z"/>
<path fill="#00FFFF" d="M60.5 716.0h2.1v14.6h-2.1z"/>
<path fill="#32CD32" d="M62.7 622.0h2.7v4.0h-2.7z"/>
<path fill="#00008B" d="M62.7 626.0h2.7v4.0h-2.7z"/>
<path fill="#3CB371" d="M62.7 630.1h2.7v75.2h-2.7z"/>
<path fill="#006400" d="M62.7 705.2h2.7v18.8h-2.7z"/>
<path fill="#00FFFF" d="M62.7 724.0h2.7v6.6h-2.7z"/>
<path fill="#D02090" d="M65.4 622.0h2.4v2.7h-2.4z"/>
<path fill="#32CD32" d="M65.4 624.7h2.4v8.1h-2.4z"/>
<path fill="#3CB371" d="M65.4 632.7h2.4v72.5h-2.4z"/>
<path fill="#00FFFF" d="M65.4 705.2h2.4v8.1h-2.4z"/>
<path fill="#006400" d="M65.4 713.3h2.4v2.7h-2.4z"/>
<path fill="#00FFFF" d="M65.4 716.0h2.4v14.6h-2.4z"/>
<path fill="#CD0000" d="M67.8 622.0h2.1v34.9h-2.1z"/>
<path fill="#3CB371" d="M67.8 656.9h2.1v48.3h-2.1z"/>
<path fill="#00FFFF" d="M67.8 705.2h2.1v25.4h-2.1z"/>
<path fill="#CD0000" d="M69.9 622.0h2.1v4.0h-2.1z"/>
<path fill="#D02090" d="M69.9 626.0h2.1v34.9h-2.1z"/>
<path fill="#3CB371" d="M69.9 660.9h2.1v41.6h-2.1z"/>
<path fill="#00FFFF" d="M69.9 702.5h2.1v28.1h-2.1z"/>
<path fill="#D02090" d="M72.1 622.0h2.1v40.3h-2.1z"/>
<path fill="#32CD32" d="M72.1 662.3h2.1v29.5h-2.1z"/>
<path fill="#006400" d="M72.1 691.8h2.1v8.1h-2.1z"/>
<path fill="#00FFFF" d="M72.1 699.9h2.1v30.7h-2.1z"/>
<path fill="#D02090" d="M74.2 622.0h2.4v57.7h-2.4z"/>
<path fill="#32CD32" d="M74.2 679.7h2.4v36.2h-2.4z"/>
<path fill="#006400" d="M74.2 716.0h2.4v8.1h-2.4z"/>
<path fill="#00FFFF" d="M74.2 724.0h2.4v6.6h-2.4z"/>
<path fill="#B22222" d="M76.6 622.0h2.1v13.4h-2.1z"/>
<path fill="#32CD32" d="M76.6 635.4h2.1v43.0h-2.1z"/>
<path fill="#006400" d="M76.6 678.4h2.1v13.4h-2.1z"/>
<path fill="#32CD32" d="M76.6 691.8h2.1v24.2h-2.1z"/>
<path fill="#00FFFF" d="M76.6 716.0h2.1v14.6h-2.1z"/>
<path fill="#A6CEE3" d="M78.8 622.0h2.1v18.8h-2.1z"/>
<path fill="#FFB90F" d="M78.8 640.8h2.1v5.4h-2.1z"/>
<path fill="#D02090" d="M78.8 646.2h2.1v1.3h-2.1z"/>
<path fill="#32CD32" d="M78.8 647.5h2.1v55.0h-2.1z"/>
<path fill="#006400" d="M78.8 702.5h2.1v12.1h-2.1z"/>
<path fill="#00FFFF" d="M78.8 714.6h2.1v16.0h-2.1z"/>
<path fill="#B22222" d="M80.9 622.0h2.4v17.5h-2.4z"/>
<path fill="#32CD32" d="M80.9 639.5h2.4v43.0h-2.4z"/>
<path fill="#006400" d="M80.9 682.4h2.4v30.9h-2.4z"/>
<path fill="#00FFFF" d="M80.9 713.3h2.4v17.3h-2.4z"/>
<path fill="#8B3A2A" d="M83.4 622.0h2.4v30.9h-2.4z"/>
<path fill="#6495ED" d="M83.4 652.9h2.4v22.8h-2.4z"/>
<path fill="#B22222" d="M83.4 675.7h2.4v2.7h-2.4z"/>
<path fill="#32CD32" d="M83.4 678.4h2.4v6.7h-2.4z"/>
<path fill="#6B8E23" d="M83.4 685.1h2.4v12.1h-2.4z"/>
<path fill="#32CD32" d="M83.4 697.2h2.4v21.5h-2.4z"/>
<path fill="#00FFFF" d="M83.4 718.7h2.4v11.9h-2.4z"/>
<path fill="#B22222" d="M85.8 622.0h2.1v13.4h-2.1z"/>
<path fill="#32CD32" d="M85.8 635.4h2.1v40.3h-2.1z"/>
<path fill="#54FF9F" d="M85.8 675.7h2.1v6.7h-2.1z"/>
<path fill="#32CD32" d="M85.8 682.4h2.1v20.1h-2.1z"/>
<path fill="#006400" d="M85.8 702.5h2.1v12.1h-2.1z"/>
<path fill="#00FFFF" d="M85.8 714.6h2.1v16.0h-2.1z"/>
<path fill="#D02090" d="M87.9 622.0h2.1v6.7h-2.1z"/>
<path fill="#32CD32" d="M87.9 628.7h2.1v49.7h-2.1z"/>
<path fill="#006400" d="M87.9 678.4h2.1v34.9h-2.1z"/>
<path fill="#00FFFF" d="M87.9 713.3h2.1v17.3h-2.1z"/>
<path fill="#A020F0" d="M90.1 622.0h2.1v26.8h-2.1z"/>
<path fill="#D02090" d="M90.1 648.8h2.1v22.8h-2.1z"/>
<path fill="#32CD32" d="M90.1 671.7h2.1v13.4h-2.1z"/>
<path fill="#00FFFF" d="M90.1 685.1h2.1v45.5h-2.1z"/>
<path fill="#D02090" d="M92.2 622.0h2.8v6.7h-2.8z"/>
<path fill="#6A5ACD" d="M92.2 628.7h2.8v22.8h-2.8z"/>
<path fill="#D02090" d="M92.2 651.5h2.8v20.1h-2.8z"/>
<path fill="#54FF9F" d="M92.2 671.7h2.8v9.4h-2.8z"/>
<path fill="#32CD32" d="M92.2 681.1h2.8v21.5h-2.8z"/>
<path fill="#006400" d="M92.2 702.5h2.8v10.7h-2.8z"/>
<path fill="#00FFFF" d="M92.2 713.3h2.8v17.3h-2.8z"/>
<path fill="#B22222" d="M95.0 622.0h1.9v8.1h-1.9z"/>
<path fill="#3CB371" d="M95.0 630.1h1.9v44.3h-1.9z"/>
<path fill="#006400" d="M95.0 674.4h1.9v14.8h-1.9z"/>
<path fill="#00FFFF" d="M95.0 689.1h1.9v41.5h-1.9z"/>
<path fill="#32CD32" d="M96.9 622.0h2.1v51.0h-2.1z"/>
<path fill="#00FFFF" d="M96.9 673.0h2.1v21.5h-2.1z"/>
<path fill="#006400" d="M96.9 694.5h2.1v8.1h-2.1z"/>
<path fill="#00FFFF" d="M96.9 702.5h2.1v28.1h-2.1z"/>
<path fill="#32CD32" d="M99.0 622.0h2.1v69.8h-2.1z"/>
<path fill="#006400" d="M99.0 691.8h2.1v12.1h-2.1z"/>
<path fill="#00FFFF" d="M99.0 703.9h2.1v26.7h-2.1z"/>
<path fill="#A020F0" d="M101.2 622.0h2.1v8.1h-2.1z"/>
<path fill="#B22222" d="M101.2 630.1h2.1v32.2h-2.1z"/>
<path fill="#00FF7F" d="M101.2 662.3h2.1v45.6h-2.1z"/>
<path fill="#006400" d="M101.2 707.9h2.1v13.4h-2.1z"/>
<path fill="#00FFFF" d="M101.2 721.3h2.1v9.3h-2.1z"/>
<path fill="#6A5ACD" d="M103.3 622.0h2.4v13.4h-2.4z"/>
<path fill="#B22222" d="M103.3 635.4h2.4v4.0h-2.4z"/>
<path fill="#A020F0" d="M103.3 639.5h2.4v36.2h-2.4z"/>
<path fill="#D02090" d="M103.3 675.7h2.4v2.7h-2.4z"/>
<path fill="#32CD32" d="M103.3 678.4h2.4v30.9h-2.4z"/>
<path fill="#006400" d="M103.3 709.3h2.4v9.4h-2.4z"/>
<path fill="#00FFFF" d="M103.3 718.7h2.4v11.9h-2.4z"/>
<path fill="#A6CEE3" d="M105.7 622.0h2.1v9.4h-2.1z"/>
<path fill="#B22222" d="M105.7 631.4h2.1v5.4h-2.1z"/>
<path fill="#00008B" d="M105.7 636.8h2.1v3.4h-2.1z"/>
<path fill="#A020F0" d="M105.7 640.1h2.1v45.0h-2.1z"/>
<path fill="#32CD32" d="M105.7 685.1h2.1v30.9h-2.1z"/>
<path fill="#00FFFF" d="M105.7 716.0h2.1v14.6h-2.1z"/>
<path fill="#FF8C00" d="M107.9 622.0h2.1v40.3h-2.1z"/>
<path fill="#A020F0" d="M107.9 662.3h2.1v24.2h-2.1z"/>
<path fill="#32CD32" d="M107.9 686.4h2.1v29.5h-2.1z"/>
<path fill="#00FFFF" d="M107.9 716.0h2.1v14.6h-2.1z"/>
<path fill="#00FF7F" d="M110.0 622.0h2.1v75.2h-2.1z"/>
<path fill="#3CB371" d="M110.0 697.2h2.1v18.8h-2.1z"/>
<path fill="#00FFFF" d="M110.0 716.0h2.1v14.6h-2.1z"/>
<path fill="#A020F0" d="M112.2 622.0h2.4v5.4h-2.4z"/>
<path fill="#FF8C00" d="M112.2 627.4h2.4v5.4h-2.4z"/>
<path fill="#B22222" d="M112.2 632.7h2.4v5.4h-2.4z"/>
<path fill="#6A5ACD" d="M112.2 638.1h2.4v18.8h-2.4z"/>
<path fill="#32CD32" d="M112.2 656.9h2.4v69.8h-2.4z"/>
<path fill="#00FFFF" d="M112.2 726.7h2.4v3.9h-2.4z"/>
<path fill="#A6CEE3" d="M114.6 622.0h2.1v4.0h-2.1z"/>
<path fill="#FF8C00" d="M114.6 626.0h2.1v32.2h-2.1z"/>
<path fill="#B22222" d="M114.6 658.2h2.1v4.0h-2.1z"/>
<path fill="#32CD32" d="M114.6 662.3h2.1v34.9h-2.1z"/>
<path fill="#3CB371" d="M114.6 697.2h2.1v33.4h-2.1z"/>
<path fill="#32CD32" d="M116.7 622.0h2.4v67.1h-2.4z"/>
<path fill="#3CB371" d="M116.7 689.1h2.4v41.5h-2.4z"/>
<path fill="#32CD32" d="M119.2 622.0h2.1v77.9h-2.1z"/>
<path fill="#00FFFF" d="M119.2 699.9h2.1v30.7h-2.1z"/>
<path fill="#006400" d="M121.3 622.0h2.1v29.5h-2.1z"/>
<path fill="#00008B" d="M121.3 651.5h2.1v2.7h-2.1z"/>
<path fill="#A020F0" d="M121.3 654.2h2.1v13.4h-2.1z"/>
<path fill="#FFB90F" d="M121.3 667.6h2.1v4.0h-2.1z"/>
<path fill="#32CD32" d="M121.3 671.7h2.1v25.5h-2.1z"/>
<path fill="#00FFFF" d="M121.3 697.2h2.1v33.4h-2.1z"/>
<path fill="#404040" d="M123.5 622.0h2.4v2.7h-2.4z"/>
<path fill="#32CD32" d="M123.5 624.7h2.4v17.5h-2.4z"/>
<path fill="#A020F0" d="M123.5 642.1h2.4v71.1h-2.4z"/>
<path fill="#32CD32" d="M123.5 713.3h2.4v13.4h-2.4z"/>
<path fill="#00FFFF" d="M123.5 726.7h2.4v3.9h-2.4z"/>
<path fill="#C0C0C0" d="M125.9 622.0h2.1v18.8h-2.1z"/>
<path fill="#A020F0" d="M125.9 640.8h2.1v13.4h-2.1z"/>
<path fill="#32CD32" d="M125.9 654.2h2.1v73.8h-2.1z"/>
<path fill="#00FFFF" d="M125.9 728.0h2.1v2.6h-2.1z"/>
<path fill="#B22222" d="M128.0 622.0h2.1v22.8h-2.1z"/>
<path fill="#32CD32" d="M128.0 644.8h2.1v83.2h-2.1z"/>
<path fill="#00FFFF" d="M128.0 728.0h2.1v2.6h-2.1z"/>
<path fill="#B22222" d="M130.2 622.0h2.4v12.1h-2.4z"/>
<path fill="#6495ED" d="M130.2 634.1h2.4v61.7h-2.4z"/>
<path fill="#FFB90F" d="M130.2 695.8h2.4v4.0h-2.4z"/>
<path fill="#A020F0" d="M130.2 699.9h2.4v12.1h-2.4z"/>
<path fill="#32CD32" d="M130.2 711.9h2.4v18.7h-2.4z"/>
<path fill="#D02090" d="M132.6 622.0h2.1v9.4h-2.1z"/>
<path fill="#32CD32" d="M132.6 631.4h2.1v57.7h-2.1z"/>
<path fill="#3CB371" d="M132.6 689.1h2.1v38.9h-2.1z"/>
<path fill="#00FFFF" d="M132.6 728.0h2.1v2.6h-2.1z"/>
<path fill="#6A5ACD" d="M134.7 622.0h2.4v13.4h-2.4z"/>
<path fill="#6495ED" d="M134.7 635.4h2.4v24.2h-2.4z"/>
<path fill="#FFB90F" d="M134.7 659.6h2.4v4.0h-2.4z"/>
<path fill="#B22222" d="M134.7 663.6h2.4v9.4h-2.4z"/>
<path fill="#32CD32" d="M134.7 673.0h2.4v9.4h-2.4z"/>
<path fill="#3CB371" d="M134.7 682.4h2.4v48.2h-2.4z"/>
<path fill="#A020F0" d="M137.2 622.0h2.4v17.5h-2.4z"/>
<path fill="#32CD32" d="M137.2 639.5h2.4v36.2h-2.4z"/>
<path fill="#3CB371" d="M137.2 675.7h2.4v54.9h-2.4z"/>
<path fill="#6A5ACD" d="M139.6 622.0h2.1v17.5h-2.1z"/>
<path fill="#32CD32" d="M139.6 639.5h2.1v36.2h-2.1z"/>
<path fill="#3CB371" d="M139.6 675.7h2.1v54.9h-2.1z"/>
<path fill="#32CD32" d="M141.7 622.0h2.1v60.4h-2.1z"/>
<path fill="#3CB371" d="M141.7 682.4h2.1v48.2h-2.1z"/>
<path fill="#00008B" d="M143.9 622.0h2.4v102.0h-2.4z"/>
<path fill="#00FFFF" d="M143.9 724.0h2.4v6.6h-2.4z"/>
<path fill="#A8E3D6" d="M146.3 622.0h2.1v91.3h-2.1z"/>
<path fill="#A020F0" d="M146.3 713.3h2.1v2.7h-2.1z"/>
<path fill="#32CD32" d="M146.3 716.0h2.1v12.1h-2.1z"/>
<path fill="#00FFFF" d="M146.3 728.0h2.1v2.6h-2.1z"/>
<path fill="#32CD32" d="M148.4 622.0h2.4v30.9h-2.4z"/>
<path fill="#8B3A2A" d="M148.4 652.9h2.4v5.4h-2.4z"/>
<path fill="#32CD32" d="M148.4 658.2h2.4v69.8h-2.4z"/>
<path fill="#00FFFF" d="M148.4 728.0h2.4v2.6h-2.4z"/>
<path fill="#32CD32" d="M150.8 622.0h2.1v106.0h-2.1z"/>
<path fill="#00FFFF" d="M150.8 728.0h2.1v2.6h-2.1z"/>
<path fill="#00FF7F" d="M153.0 622.0h2.1v106.0h-2.1z"/>
<path fill="#00FFFF" d="M153.0 728.0h2.1v2.6h-2.1z"/>
<path fill="#A020F0" d="M155.1 622.0h2.6v20.1h-2.6z"/>
<path fill="#B22222" d="M155.1 642.1h2.6v6.7h-2.6z"/>
<path fill="#00FF7F" d="M155.1 648.8h2.6v79.2h-2.6z"/>
<path fill="#00FFFF" d="M155.1 728.0h2.6v2.6h-2.6z"/>
</g>
<g>
<path fill="#A6CEE3" d="M160.2 513.3h126.2v5.1h-126.2z"/>
<path fill="#00FFFF" d="M160.2 518.4h126.2v212.2h-126.2z"/>
<path fill="#FFFFFF" d="M160.2 513.3h0.0v108.7h-0.0z"/>
<path fill="#A6CEE3" d="M160.3 513.3h1.6v2.4h-1.6z"/>
<path fill="#006400" d="M160.3 515.7h1.6v106.3h-1.6z"/>
<path fill="#A6CEE3" d="M161.9 513.3h2.1v1.7h-2.1z"/>
<path fill="#6A5ACD" d="M161.9 515.0h2.1v78.5h-2.1z"/>
<path fill="#D02090" d="M161.9 593.5h2.1v28.5h-2.1z"/>
<path fill="#A6CEE3" d="M164.0 513.3h2.1v2.4h-2.1z"/>
<path fill="#FF8C00" d="M164.0 515.7h2.1v2.7h-2.1z"/>
<path fill="#6B8E23" d="M164.0 518.4h2.1v28.2h-2.1z"/>
<path fill="#006400" d="M164.0 546.6h2.1v4.0h-2.1z"/>
<path fill="#00FFFF" d="M164.0 550.6h2.1v71.4h-2.1z"/>
<path fill="#A6CEE3" d="M166.2 513.3h2.1v2.4h-2.1z"/>
<path fill="#6B8E23" d="M166.2 515.7h2.1v30.9h-2.1z"/>
<path fill="#00FFFF" d="M166.2 546.6h2.1v75.4h-2.1z"/>
<path fill="#A6CEE3" d="M168.3 513.3h2.4v3.7h-2.4z"/>
<path fill="#D02090" d="M168.3 517.0h2.4v49.7h-2.4z"/>
<path fill="#6B8E23" d="M168.3 566.7h2.4v26.8h-2.4z"/>
<path fill="#006400" d="M168.3 593.5h2.4v25.5h-2.4z"/>
<path fill="#00FFFF" d="M168.3 619.0h2.4v3.0h-2.4z"/>
<path fill="#A6CEE3" d="M170.7 513.3h2.4v2.4h-2.4z"/>
<path fill="#00FFFF" d="M170.7 515.7h2.4v106.3h-2.4z"/>
<path fill="#A6CEE3" d="M173.2 513.3h2.1v2.4h-2.1z"/>
<path fill="#FF8C00" d="M173.2 515.7h2.1v10.7h-2.1z"/>
<path fill="#00FFFF" d="M173.2 526.4h2.1v26.8h-2.1z"/>
<path fill="#006400" d="M173.2 553.3h2.1v9.4h-2.1z"/>
<path fill="#00FFFF" d="M173.2 562.7h2.1v59.3h-2.1z"/>
<path fill="#A6CEE3" d="M175.3 513.3h2.4v22.5h-2.4z"/>
<path fill="#FF8C00" d="M175.3 535.8h2.4v16.1h-2.4z"/>
<path fill="#A020F0" d="M175.3 551.9h2.4v8.1h-2.4z"/>
<path fill="#B22222" d="M175.3 560.0h2.4v10.7h-2.4z"/>
<path fill="#00FF7F" d="M175.3 570.7h2.4v51.3h-2.4z"/>
<path fill="#A6CEE3" d="M177.7 513.3h2.1v2.4h-2.1z"/>
<path fill="#B22222" d="M177.7 515.7h2.1v2.7h-2.1z"/>
<path fill="#00FFFF" d="M177.7 518.4h2.1v103.6h-2.1z"/>
<path fill="#A6CEE3" d="M179.9 513.3h2.4v2.4h-2.4z"/>
<path fill="#A020F0" d="M179.9 515.7h2.4v4.0h-2.4z"/>
<path fill="#00FFFF" d="M179.9 519.7h2.4v5.4h-2.4z"/>
<path fill="#6B8E23" d="M179.9 525.1h2.4v22.8h-2.4z"/>
<path fill="#00FFFF" d="M179.9 547.9h2.4v74.1h-2.4z"/>
<path fill="#A6CEE3" d="M182.3 513.3h2.1v49.4h-2.1z"/>
<path fill="#FFB90F" d="M182.3 562.7h2.1v2.7h-2.1z"/>
<path fill="#6B8E23" d="M182.3 565.4h2.1v56.6h-2.1z"/>
<path fill="#A6CEE3" d="M184.4 513.3h2.4v2.4h-2.4z"/>
<path fill="#A020F0" d="M184.4 515.7h2.4v5.4h-2.4z"/>
<path fill="#006400" d="M184.4 521.1h2.4v17.5h-2.4z"/>
<path fill="#00FFFF" d="M184.4 538.5h2.4v83.5h-2.4z"/>
<path fill="#A6CEE3" d="M186.8 513.3h1.1v2.4h-1.1z"/>
<path fill="#00FFFF" d="M186.8 515.7h1.1v106.3h-1.1z"/>
<path fill="#A6CEE3" d="M187.9 513.3h1.3v1.0h-1.3z"/>
<path fill="#B2DF8A" d="M187.9 514.3h1.3v107.7h-1.3z"/>
<path fill="#A6CEE3" d="M189.3 513.3h2.1v62.8h-2.1z"/>
<path fill="#6B8E23" d="M189.3 576.1h2.1v6.7h-2.1z"/>
<path fill="#00FF7F" d="M189.3 582.8h2.1v39.2h-2.1z"/>
<path fill="#A6CEE3" d="M191.4 513.3h2.1v65.5h-2.1z"/>
<path fill="#A020F0" d="M191.4 578.8h2.1v2.7h-2.1z"/>
<path fill="#00FF7F" d="M191.4 581.5h2.1v40.5h-2.1z"/>
<path fill="#A6CEE3" d="M193.6 513.3h2.1v7.8h-2.1z"/>
<path fill="#6B8E23" d="M193.6 521.1h2.1v10.7h-2.1z"/>
<path fill="#00FFFF" d="M193.6 531.8h2.1v90.2h-2.1z"/>
<path fill="#A6CEE3" d="M195.7 513.3h2.4v5.1h-2.4z"/>
<path fill="#B22222" d="M195.7 518.4h2.4v4.0h-2.4z"/>
<path fill="#A6CEE3" d="M195.7 522.4h2.4v63.1h-2.4z"/>
<path fill="#00FFFF" d="M195.7 585.5h2.4v36.5h-2.4z"/>
<path fill="#A6CEE3" d="M198.1 513.3h2.1v72.2h-2.1z"/>
<path fill="#B22222" d="M198.1 585.5h2.1v18.8h-2.1z"/>
<path fill="#00FF7F" d="M198.1 604.3h2.1v17.7h-2.1z"/>
<path fill="#A6CEE3" d="M200.3 513.3h2.1v2.4h-2.1z"/>
<path fill="#A020F0" d="M200.3 515.7h2.1v5.4h-2.1z"/>
<path fill="#00FFFF" d="M200.3 521.1h2.1v9.4h-2.1z"/>
<path fill="#006400" d="M200.3 530.5h2.1v9.4h-2.1z"/>
<path fill="#00FFFF" d="M200.3 539.8h2.1v82.2h-2.1z"/>
<path fill="#A6CEE3" d="M202.4 513.3h2.1v3.7h-2.1z"/>
<path fill="#A020F0" d="M202.4 517.0h2.1v13.4h-2.1z"/>
<path fill="#D02090" d="M202.4 530.5h2.1v91.5h-2.1z"/>
<path fill="#A6CEE3" d="M204.6 513.3h2.4v6.4h-2.4z"/>
<path fill="#A020F0" d="M204.6 519.7h2.4v12.1h-2.4z"/>
<path fill="#006400" d="M204.6 531.8h2.4v10.7h-2.4z"/>
<path fill="#00FFFF" d="M204.6 542.5h2.4v79.5h-2.4z"/>
<path fill="#A6CEE3" d="M207.0 513.3h2.1v2.4h-2.1z"/>
<path fill="#B22222" d="M207.0 515.7h2.1v4.0h-2.1z"/>
<path fill="#00FFFF" d="M207.0 519.7h2.1v102.3h-2.1z"/>
<path fill="#A6CEE3" d="M209.1 513.3h2.4v3.7h-2.4z"/>
<path fill="#D02090" d="M209.1 517.0h2.4v105.0h-2.4z"/>
<path fill="#A6CEE3" d="M211.5 513.3h2.1v2.4h-2.1z"/>
<path fill="#6B8E23" d="M211.5 515.7h2.1v20.1h-2.1z"/>
<path fill="#00FFFF" d="M211.5 535.8h2.1v86.2h-2.1z"/>
<path fill="#A6CEE3" d="M213.7 513.3h2.4v2.4h-2.4z"/>
<path fill="#00FFFF" d="M213.7 515.7h2.4v106.3h-2.4z"/>
<path fill="#A6CEE3" d="M216.1 513.3h2.4v10.4h-2.4z"/>
<path fill="#CD0000" d="M216.1 523.7h2.4v4.0h-2.4z"/>
<path fill="#00FF7F" d="M216.1 527.8h2.4v2.7h-2.4z"/>
<path fill="#6B8E23" d="M216.1 530.5h2.4v73.8h-2.4z"/>
<path fill="#006400" d="M216.1 604.3h2.4v2.7h-2.4z"/>
<path fill="#00FFFF" d="M216.1 607.0h2.4v15.0h-2.4z"/>
<path fill="#A6CEE3" d="M218.5 513.3h2.1v7.8h-2.1z"/>
<path fill="#CD0000" d="M218.5 521.1h2.1v2.7h-2.1z"/>
<path fill="#00FFFF" d="M218.5 523.7h2.1v83.2h-2.1z"/>
<path fill="#FFB90F" d="M218.5 607.0h2.1v2.7h-2.1z"/>
<path fill="#A020F0" d="M218.5 609.7h2.1v12.3h-2.1z"/>
<path fill="#A6CEE3" d="M220.7 513.3h2.4v18.5h-2.4z"/>
<path fill="#D02090" d="M220.7 531.8h2.4v18.8h-2.4z"/>
<path fill="#32CD32" d="M220.7 550.6h2.4v16.1h-2.4z"/>
<path fill="#006400" d="M220.7 566.7h2.4v2.7h-2.4z"/>
<path fill="#00FFFF" d="M220.7 569.4h2.4v52.6h-2.4z"/>
<path fill="#A6CEE3" d="M223.1 513.3h0.9v3.7h-0.9z"/>
<path fill="#00FFFF" d="M223.1 517.0h0.9v68.5h-0.9z"/>
<path fill="#B22222" d="M223.1 585.5h0.9v8.1h-0.9z"/>
<path fill="#00FFFF" d="M223.1 593.5h0.9v28.5h-0.9z"/>
<path fill="#A6CEE3" d="M224.0 513.3h1.1v72.2h-1.1z"/>
<path fill="#CD0000" d="M224.0 585.5h1.1v14.8h-1.1z"/>
<path fill="#D02090" d="M224.0 600.3h1.1v6.7h-1.1z"/>
<path fill="#00FF7F" d="M224.0 607.0h1.1v15.0h-1.1z"/>
<path fill="#A6CEE3" d="M225.1 513.3h2.1v6.4h-2.1z"/>
<path fill="#FF8C00" d="M225.1 519.7h2.1v6.7h-2.1z"/>
<path fill="#006400" d="M225.1 526.4h2.1v55.0h-2.1z"/>
<path fill="#00FFFF" d="M225.1 581.5h2.1v40.5h-2.1z"/>
<path fill="#A6CEE3" d="M227.2 513.3h2.4v21.2h-2.4z"/>
<path fill="#FF8C00" d="M227.2 534.5h2.4v67.1h-2.4z"/>
<path fill="#FFB90F" d="M227.2 601.6h2.4v8.1h-2.4z"/>
<path fill="#A020F0" d="M227.2 609.7h2.4v4.0h-2.4z"/>
<path fill="#00FF7F" d="M227.2 613.7h2.4v8.3h-2.4z"/>
<path fill="#A6CEE3" d="M229.6 513.3h2.1v3.7h-2.1z"/>
<path fill="#00FFFF" d="M229.6 517.0h2.1v105.0h-2.1z"/>
<path fill="#A6CEE3" d="M231.8 513.3h2.4v2.4h-2.4z"/>
<path fill="#6B8E23" d="M231.8 515.7h2.4v1.3h-2.4z"/>
<path fill="#006400" d="M231.8 517.0h2.4v102.0h-2.4z"/>
<path fill="#00FFFF" d="M231.8 619.0h2.4v3.0h-2.4z"/>
<path fill="#A6CEE3" d="M234.2 513.3h2.4v7.8h-2.4z"/>
<path fill="#A020F0" d="M234.2 521.1h2.4v6.7h-2.4z"/>
<path fill="#6B8E23" d="M234.2 527.8h2.4v2.7h-2.4z"/>
<path fill="#006400" d="M234.2 530.5h2.4v9.4h-2.4z"/>
<path fill="#00FFFF" d="M234.2 539.8h2.4v82.2h-2.4z"/>
<path fill="#A6CEE3" d="M236.6 513.3h2.1v2.4h-2.1z"/>
<path fill="#00FFFF" d="M236.6 515.7h2.1v106.3h-2.1z"/>
<path fill="#A6CEE3" d="M238.8 513.3h2.4v5.1h-2.4z"/>
<path fill="#A020F0" d="M238.8 518.4h2.4v103.6h-2.4z"/>
<path fill="#A6CEE3" d="M241.2 513.3h2.1v2.4h-2.1z"/>
<path fill="#B22222" d="M241.2 515.7h2.1v2.7h-2.1z"/>
<path fill="#006400" d="M241.2 518.4h2.1v2.7h-2.1z"/>
<path fill="#00FFFF" d="M241.2 521.1h2.1v100.9h-2.1z"/>
<path fill="#A6CEE3" d="M243.3 513.3h2.4v17.2h-2.4z"/>
<path fill="#FF8C00" d="M243.3 530.5h2.4v9.4h-2.4z"/>
<path fill="#FFB90F" d="M243.3 539.8h2.4v9.4h-2.4z"/>
<path fill="#A020F0" d="M243.3 549.2h2.4v6.7h-2.4z"/>
<path fill="#00FF7F" d="M243.3 556.0h2.4v66.0h-2.4z"/>
<path fill="#A6CEE3" d="M245.7 513.3h2.4v46.7h-2.4z"/>
<path fill="#FF8C00" d="M245.7 560.0h2.4v8.1h-2.4z"/>
<path fill="#A020F0" d="M245.7 568.0h2.4v2.7h-2.4z"/>
<path fill="#6B8E23" d="M245.7 570.7h2.4v17.5h-2.4z"/>
<path fill="#006400" d="M245.7 588.2h2.4v5.4h-2.4z"/>
<path fill="#00FFFF" d="M245.7 593.5h2.4v28.5h-2.4z"/>
<path fill="#A6CEE3" d="M248.2 513.3h2.1v24.5h-2.1z"/>
<path fill="#FF8C00" d="M248.2 537.8h2.1v2.0h-2.1z"/>
<path fill="#6A5ACD" d="M248.2 539.8h2.1v3.4h-2.1z"/>
<path fill="#00FF7F" d="M248.2 543.2h2.1v8.7h-2.1z"/>
<path fill="#00FFFF" d="M248.2 551.9h2.1v8.1h-2.1z"/>
<path fill="#006400" d="M248.2 560.0h2.1v30.9h-2.1z"/>
<path fill="#00FFFF" d="M248.2 590.9h2.1v31.1h-2.1z"/>
<path fill="#A6CEE3" d="M250.3 513.3h2.1v21.2h-2.1z"/>
<path fill="#33A02C" d="M250.3 534.5h2.1v4.0h-2.1z"/>
<path fill="#A6CEE3" d="M250.3 538.5h2.1v14.8h-2.1z"/>
<path fill="#00FFFF" d="M250.3 553.3h2.1v68.7h-2.1z"/>
<path fill="#A6CEE3" d="M252.5 513.3h2.1v9.1h-2.1z"/>
<path fill="#A020F0" d="M252.5 522.4h2.1v2.7h-2.1z"/>
<path fill="#6B8E23" d="M252.5 525.1h2.1v10.7h-2.1z"/>
<path fill="#00FFFF" d="M252.5 535.8h2.1v86.2h-2.1z"/>
<path fill="#A6CEE3" d="M254.6 513.3h2.4v15.8h-2.4z"/>
<path fill="#A020F0" d="M254.6 529.1h2.4v5.4h-2.4z"/>
<path fill="#32CD32" d="M254.6 534.5h2.4v9.4h-2.4z"/>
<path fill="#00FFFF" d="M254.6 543.9h2.4v78.1h-2.4z"/>
<path fill="#A6CEE3" d="M257.0 513.3h2.1v2.4h-2.1z"/>
<path fill="#FF8C00" d="M257.0 515.7h2.1v41.6h-2.1z"/>
<path fill="#6B8E23" d="M257.0 557.3h2.1v43.0h-2.1z"/>
<path fill="#00FFFF" d="M257.0 600.3h2.1v21.7h-2.1z"/>
<path fill="#A6CEE3" d="M259.2 513.3h2.1v1.7h-2.1z"/>
<path fill="#006400" d="M259.2 515.0h2.1v2.0h-2.1z"/>
<path fill="#6B8E23" d="M259.2 517.0h2.1v81.9h-2.1z"/>
<path fill="#006400" d="M259.2 598.9h2.1v20.1h-2.1z"/>
<path fill="#00FFFF" d="M259.2 619.0h2.1v3.0h-2.1z"/>
<path fill="#A6CEE3" d="M261.3 513.3h2.4v38.6h-2.4z"/>
<path fill="#CD0000" d="M261.3 551.9h2.4v13.4h-2.4z"/>
<path fill="#6A5ACD" d="M261.3 565.4h2.4v4.0h-2.4z"/>
<path fill="#3CB371" d="M261.3 569.4h2.4v16.1h-2.4z"/>
<path fill="#006400" d="M261.3 585.5h2.4v13.4h-2.4z"/>
<path fill="#32CD32" d="M261.3 598.9h2.4v23.1h-2.4z"/>
<path fill="#A6CEE3" d="M263.7 513.3h2.1v1.0h-2.1z"/>
<path fill="#A020F0" d="M263.7 514.3h2.1v9.4h-2.1z"/>
<path fill="#6B8E23" d="M263.7 523.7h2.1v29.5h-2.1z"/>
<path fill="#006400" d="M263.7 553.3h2.1v36.2h-2.1z"/>
<path fill="#00FFFF" d="M263.7 589.5h2.1v32.5h-2.1z"/>
<path fill="#A6CEE3" d="M265.9 513.3h2.1v76.2h-2.1z"/>
<path fill="#FF8C00" d="M265.9 589.5h2.1v10.7h-2.1z"/>
<path fill="#A020F0" d="M265.9 600.3h2.1v4.0h-2.1z"/>
<path fill="#00FF7F" d="M265.9 604.3h2.1v17.7h-2.1z"/>
<path fill="#A6CEE3" d="M268.0 513.3h2.1v96.4h-2.1z"/>
<path fill="#FFB90F" d="M268.0 609.7h2.1v5.4h-2.1z"/>
<path fill="#A020F0" d="M268.0 615.0h2.1v5.4h-2.1z"/>
<path fill="#00FFFF" d="M268.0 620.4h2.1v1.6h-2.1z"/>
<path fill="#A6CEE3" d="M270.2 513.3h2.1v36.6h-2.1z"/>
<path fill="#A020F0" d="M270.2 549.9h2.1v3.4h-2.1z"/>
<path fill="#B22222" d="M270.2 553.3h2.1v2.7h-2.1z"/>
<path fill="#6B8E23" d="M270.2 556.0h2.1v66.0h-2.1z"/>
<path fill="#A6CEE3" d="M272.3 513.3h2.4v84.3h-2.4z"/>
<path fill="#A020F0" d="M272.3 597.6h2.4v2.7h-2.4z"/>
<path fill="#32CD32" d="M272.3 600.3h2.4v21.7h-2.4z"/>
<path fill="#A6CEE3" d="M274.7 513.3h2.1v11.8h-2.1z"/>
<path fill="#A020F0" d="M274.7 525.1h2.1v2.7h-2.1z"/>
<path fill="#6B8E23" d="M274.7 527.8h2.1v94.2h-2.1z"/>
<path fill="#A6CEE3" d="M276.9 513.3h2.1v34.6h-2.1z"/>
<path fill="#A020F0" d="M276.9 547.9h2.1v14.8h-2.1z"/>
<path fill="#32CD32" d="M276.9 562.7h2.1v17.5h-2.1z"/>
<path fill="#6B8E23" d="M276.9 580.1h2.1v41.9h-2.1z"/>
<path fill="#A6CEE3" d="M279.0 513.3h2.4v46.7h-2.4z"/>
<path fill="#A020F0" d="M279.0 560.0h2.4v2.7h-2.4z"/>
<path fill="#6B8E23" d="M279.0 562.7h2.4v59.3h-2.4z"/>
<path fill="#A6CEE3" d="M281.5 513.3h2.4v15.8h-2.4z"/>
<path fill="#A020F0" d="M281.5 529.1h2.4v14.8h-2.4z"/>
<path fill="#32CD32" d="M281.5 543.9h2.4v13.4h-2.4z"/>
<path fill="#6B8E23" d="M281.5 557.3h2.4v64.7h-2.4z"/>
<path fill="#A6CEE3" d="M283.9 513.3h2.6v42.7h-2.6z"/>
<path fill="#FF8C00" d="M283.9 556.0h2.6v8.1h-2.6z"/>
<path fill="#A020F0" d="M283.9 564.0h2.6v12.1h-2.6z"/>
<path fill="#D02090" d="M283.9 576.1h2.6v2.7h-2.6z"/>
<path fill="#32CD32" d="M283.9 578.8h2.6v14.8h-2.6z"/>
<path fill="#6B8E23" d="M283.9 593.5h2.6v28.5h-2.6z"/>
<path fill="#FFFFFF" d="M160.2 622.0h0.2v108.6h-0.2z"/>
<path fill="#006400" d="M160.5 622.0h1.4v72.1h-1.4z"/>
<path fill="#00FFFF" d="M160.5 694.1h1.4v36.5h-1.4z"/>
<path fill="#D02090" d="M161.9 622.0h2.3v105.9h-2.3z"/>
<path fill="#00FFFF" d="M161.9 727.9h2.3v2.7h-2.3zM164.2 622.0h11.6v108.6h-11.6z"/>
<path fill="#6B8E23" d="M175.8 622.0h2.3v55.9h-2.3z"/>
<path fill="#00FFFF" d="M175.8 677.9h2.3v52.7h-2.3zM178.2 622.0h4.2v108.6h-4.2z"/>
<path fill="#32CD32" d="M182.3 622.0h1.9v12.8h-1.9z"/>
<path fill="#006400" d="M182.3 634.8h1.9v2.3h-1.9z"/>
<path fill="#00FFFF" d="M182.3 637.1h1.9v93.5h-1.9zM184.2 622.0h2.8v108.6h-2.8z"/>
<path fill="#FFB90F" d="M187.0 622.0h2.8v4.7h-2.8z"/>
<path fill="#B22222" d="M187.0 626.7h2.8v18.6h-2.8z"/>
<path fill="#3CB371" d="M187.0 645.3h2.8v37.2h-2.8z"/>
<path fill="#00FFFF" d="M187.0 682.5h2.8v7.0h-2.8z"/>
<path fill="#006400" d="M187.0 689.5h2.8v32.6h-2.8z"/>
<path fill="#00FFFF" d="M187.0 722.1h2.8v8.5h-2.8zM189.8 622.0h4.2v23.3h-4.2z"/>
<path fill="#3CB371" d="M189.8 645.3h4.2v34.9h-4.2z"/>
<path fill="#006400" d="M189.8 680.2h4.2v3.5h-4.2z"/>
<path fill="#00FFFF" d="M189.8 683.7h4.2v46.9h-4.2zM194.0 622.0h4.7v108.6h-4.7z"/>
<path fill="#32CD32" d="M198.6 622.0h2.3v43.1h-2.3z"/>
<path fill="#006400" d="M198.6 665.1h2.3v3.5h-2.3z"/>
<path fill="#00FFFF" d="M198.6 668.5h2.3v62.1h-2.3zM201.0 622.0h1.9v108.6h-1.9z"/>
<path fill="#D02090" d="M202.8 622.0h2.3v32.6h-2.3z"/>
<path fill="#6B8E23" d="M202.8 654.6h2.3v30.3h-2.3z"/>
<path fill="#00FFFF" d="M202.8 684.8h2.3v45.8h-2.3zM205.1 622.0h4.2v108.6h-4.2z"/>
<path fill="#D02090" d="M209.3 622.0h2.3v7.0h-2.3z"/>
<path fill="#6B8E23" d="M209.3 629.0h2.3v20.9h-2.3z"/>
<path fill="#00FFFF" d="M209.3 649.9h2.3v80.7h-2.3zM211.7 622.0h2.3v108.6h-2.3z"/>
<path fill="#A020F0" d="M214.0 622.0h2.3v16.3h-2.3z"/>
<path fill="#FF8C00" d="M214.0 638.3h2.3v4.7h-2.3z"/>
<path fill="#32CD32" d="M214.0 642.9h2.3v65.2h-2.3z"/>
<path fill="#006400" d="M214.0 708.1h2.3v3.5h-2.3z"/>
<path fill="#00FFFF" d="M214.0 711.6h2.3v19.0h-2.3zM216.3 622.0h7.0v108.6h-7.0z"/>
<path fill="#32CD32" d="M223.3 622.0h2.3v47.7h-2.3z"/>
<path fill="#006400" d="M223.3 669.7h2.3v7.0h-2.3z"/>
<path fill="#00FFFF" d="M223.3 676.7h2.3v53.9h-2.3zM225.6 622.0h1.9v108.6h-1.9z"/>
<path fill="#6B8E23" d="M227.5 622.0h2.3v48.9h-2.3z"/>
<path fill="#006400" d="M227.5 670.9h2.3v34.9h-2.3z"/>
<path fill="#00FFFF" d="M227.5 705.8h2.3v24.8h-2.3zM229.8 622.0h7.0v108.6h-7.0z"/>
<path fill="#A020F0" d="M236.8 622.0h2.3v14.0h-2.3z"/>
<path fill="#FF8C00" d="M236.8 636.0h2.3v9.3h-2.3z"/>
<path fill="#A020F0" d="M236.8 645.3h2.3v9.3h-2.3z"/>
<path fill="#32CD32" d="M236.8 654.6h2.3v20.9h-2.3z"/>
<path fill="#006400" d="M236.8 675.5h2.3v4.7h-2.3z"/>
<path fill="#00FFFF" d="M236.8 680.2h2.3v50.4h-2.3zM239.1 622.0h1.9v23.3h-1.9z"/>
<path fill="#A020F0" d="M239.1 645.3h1.9v74.5h-1.9z"/>
<path fill="#00FFFF" d="M239.1 719.7h1.9v10.9h-1.9zM241.0 622.0h2.3v108.6h-2.3z"/>
<path fill="#32CD32" d="M243.3 622.0h2.3v95.4h-2.3z"/>
<path fill="#006400" d="M243.3 717.4h2.3v2.3h-2.3z"/>
<path fill="#00FFFF" d="M243.3 719.7h2.3v10.9h-2.3z"/>
<path fill="#006400" d="M245.6 622.0h1.9v2.3h-1.9z"/>
<path fill="#00FFFF" d="M245.6 624.3h1.9v106.3h-1.9zM247.5 622.0h9.8v108.6h-9.8z"/>
<path fill="#32CD32" d="M257.3 622.0h2.3v86.1h-2.3z"/>
<path fill="#6B8E23" d="M257.3 708.1h2.3v11.6h-2.3z"/>
<path fill="#00FFFF" d="M257.3 719.7h2.3v10.9h-2.3zM259.6 622.0h6.5v108.6h-6.5zM266.1 622.0h1.9v16.3h-1.9z"/>
<path fill="#006400" d="M266.1 638.3h1.9v3.5h-1.9z"/>
<path fill="#00FFFF" d="M266.1 641.8h1.9v88.8h-1.9z"/>
<path fill="#D02090" d="M268.0 622.0h2.3v11.6h-2.3z"/>
<path fill="#32CD32" d="M268.0 633.6h2.3v74.5h-2.3z"/>
<path fill="#00FFFF" d="M268.0 708.1h2.3v22.5h-2.3z"/>
<path fill="#6B8E23" d="M270.8 622.0h3.3v39.6h-3.3z"/>
<path fill="#006400" d="M270.8 661.6h3.3v3.5h-3.3z"/>
<path fill="#32CD32" d="M270.8 665.1h3.3v57.0h-3.3z"/>
<path fill="#00FFFF" d="M270.8 722.1h3.3v8.5h-3.3zM274.0 622.0h6.1v108.6h-6.1z"/>
<path fill="#6B8E23" d="M280.1 622.0h3.3v39.6h-3.3z"/>
<path fill="#006400" d="M280.1 661.6h3.3v4.7h-3.3z"/>
<path fill="#32CD32" d="M280.1 666.2h3.3v38.4h-3.3z"/>
<path fill="#00FFFF" d="M280.1 704.6h3.3v26.0h-3.3zM283.3 622.0h3.2v108.6h-3.2z"/>
</g>
<g>
<path fill="#A6CEE3" d="M289.0 513.3h126.2v5.1h-126.2z"/>
<path fill="#00FFFF" d="M289.0 518.4h126.2v212.2h-126.2z"/>
<path fill="#A6CEE3" d="M289.0 513.3h1.7v53.4h-1.7z"/>
<path fill="#A020F0" d="M289.0 566.7h1.7v9.4h-1.7z"/>
<path fill="#D02090" d="M289.0 576.1h1.7v45.9h-1.7z"/>
<path fill="#A6CEE3" d="M290.7 513.3h2.1v30.6h-2.1z"/>
<path fill="#FFB90F" d="M290.7 543.9h2.1v21.5h-2.1z"/>
<path fill="#A020F0" d="M290.7 565.4h2.1v2.7h-2.1z"/>
<path fill="#D02090" d="M290.7 568.0h2.1v54.0h-2.1z"/>
<path fill="#A6CEE3" d="M292.8 513.3h2.1v2.4h-2.1z"/>
<path fill="#FF8C00" d="M292.8 515.7h2.1v28.2h-2.1z"/>
<path fill="#00FF7F" d="M292.8 543.9h2.1v8.1h-2.1z"/>
<path fill="#00FFFF" d="M292.8 551.9h2.1v70.1h-2.1z"/>
<path fill="#A6CEE3" d="M295.0 513.3h2.1v3.7h-2.1z"/>
<path fill="#A020F0" d="M295.0 517.0h2.1v4.0h-2.1z"/>
<path fill="#D02090" d="M295.0 521.1h2.1v36.2h-2.1z"/>
<path fill="#6B8E23" d="M295.0 557.3h2.1v36.2h-2.1z"/>
<path fill="#006400" d="M295.0 593.5h2.1v28.5h-2.1z"/>
<path fill="#A6CEE3" d="M297.1 513.3h2.1v1.7h-2.1z"/>
<path fill="#006400" d="M297.1 515.0h2.1v107.0h-2.1z"/>
<path fill="#A6CEE3" d="M299.3 513.3h2.4v2.4h-2.4z"/>
<path fill="#006400" d="M299.3 515.7h2.4v14.8h-2.4z"/>
<path fill="#00FFFF" d="M299.3 530.5h2.4v91.5h-2.4z"/>
<path fill="#A6CEE3" d="M301.7 513.3h2.1v5.1h-2.1z"/>
<path fill="#FF8C00" d="M301.7 518.4h2.1v2.7h-2.1z"/>
<path fill="#D02090" d="M301.7 521.1h2.1v5.4h-2.1z"/>
<path fill="#6B8E23" d="M301.7 526.4h2.1v95.6h-2.1z"/>
<path fill="#A6CEE3" d="M303.8 513.3h2.4v3.7h-2.4z"/>
<path fill="#A020F0" d="M303.8 517.0h2.4v12.1h-2.4z"/>
<path fill="#00FF7F" d="M303.8 529.1h2.4v5.4h-2.4z"/>
<path fill="#6B8E23" d="M303.8 534.5h2.4v53.7h-2.4z"/>
<path fill="#00FFFF" d="M303.8 588.2h2.4v33.8h-2.4z"/>
<path fill="#A6CEE3" d="M306.3 513.3h2.1v2.4h-2.1z"/>
<path fill="#FF8C00" d="M306.3 515.7h2.1v4.0h-2.1z"/>
<path fill="#006400" d="M306.3 519.7h2.1v99.3h-2.1z"/>
<path fill="#00FFFF" d="M306.3 619.0h2.1v3.0h-2.1z"/>
<path fill="#A6CEE3" d="M308.4 513.3h2.1v3.7h-2.1z"/>
<path fill="#006400" d="M308.4 517.0h2.1v51.0h-2.1z"/>
<path fill="#00FFFF" d="M308.4 568.0h2.1v54.0h-2.1z"/>
<path fill="#A6CEE3" d="M310.6 513.3h2.4v2.4h-2.4z"/>
<path fill="#A020F0" d="M310.6 515.7h2.4v5.4h-2.4z"/>
<path fill="#D02090" d="M310.6 521.1h2.4v85.9h-2.4z"/>
<path fill="#6B8E23" d="M310.6 607.0h2.4v8.1h-2.4z"/>
<path fill="#00FFFF" d="M310.6 615.0h2.4v7.0h-2.4z"/>
<path fill="#A6CEE3" d="M313.0 513.3h2.4v31.9h-2.4z"/>
<path fill="#A020F0" d="M313.0 545.2h2.4v5.4h-2.4z"/>
<path fill="#B22222" d="M313.0 550.6h2.4v5.4h-2.4z"/>
<path fill="#D02090" d="M313.0 556.0h2.4v32.2h-2.4z"/>
<path fill="#00FFFF" d="M313.0 588.2h2.4v33.8h-2.4z"/>
<path fill="#A6CEE3" d="M315.4 513.3h2.1v5.1h-2.1z"/>
<path fill="#FF8C00" d="M315.4 518.4h2.1v5.4h-2.1z"/>
<path fill="#6B8E23" d="M315.4 523.7h2.1v16.1h-2.1z"/>
<path fill="#00FFFF" d="M315.4 539.8h2.1v82.2h-2.1z"/>
<path fill="#A6CEE3" d="M317.5 513.3h2.1v33.3h-2.1z"/>
<path fill="#FF8C00" d="M317.5 546.6h2.1v2.7h-2.1z"/>
<path fill="#A020F0" d="M317.5 549.2h2.1v8.1h-2.1z"/>
<path fill="#00FF7F" d="M317.5 557.3h2.1v18.8h-2.1z"/>
<path fill="#006400" d="M317.5 576.1h2.1v9.4h-2.1z"/>
<path fill="#00FFFF" d="M317.5 585.5h2.1v36.5h-2.1z"/>
<path fill="#A6CEE3" d="M319.7 513.3h2.1v6.4h-2.1z"/>
<path fill="#D02090" d="M319.7 519.7h2.1v5.4h-2.1z"/>
<path fill="#6B8E23" d="M319.7 525.1h2.1v96.9h-2.1z"/>
<path fill="#A6CEE3" d="M321.8 513.3h2.4v65.5h-2.4z"/>
<path fill="#D02090" d="M321.8 578.8h2.4v2.7h-2.4z"/>
<path fill="#6A5ACD" d="M321.8 581.5h2.4v4.0h-2.4z"/>
<path fill="#FFB90F" d="M321.8 585.5h2.4v6.7h-2.4z"/>
<path fill="#00FF7F" d="M321.8 592.2h2.4v29.8h-2.4z"/>
<path fill="#A6CEE3" d="M324.2 513.3h2.4v3.7h-2.4z"/>
<path fill="#6B8E23" d="M324.2 517.0h2.4v2.7h-2.4z"/>
<path fill="#00FFFF" d="M324.2 519.7h2.4v102.3h-2.4z"/>
<path fill="#A6CEE3" d="M326.7 513.3h2.1v23.2h-2.1z"/>
<path fill="#CD0000" d="M326.7 536.5h2.1v15.4h-2.1z"/>
<path fill="#32CD32" d="M326.7 551.9h2.1v14.8h-2.1z"/>
<path fill="#00FFFF" d="M326.7 566.7h2.1v55.3h-2.1z"/>
<path fill="#A6CEE3" d="M328.8 513.3h2.4v10.4h-2.4z"/>
<path fill="#D02090" d="M328.8 523.7h2.4v94.0h-2.4z"/>
<path fill="#A020F0" d="M328.8 617.7h2.4v4.3h-2.4z"/>
<path fill="#A6CEE3" d="M331.2 513.3h2.1v3.7h-2.1z"/>
<path fill="#00FFFF" d="M331.2 517.0h2.1v105.0h-2.1z"/>
<path fill="#A6CEE3" d="M333.4 513.3h2.4v5.1h-2.4z"/>
<path fill="#FF8C00" d="M333.4 518.4h2.4v5.4h-2.4z"/>
<path fill="#6A5ACD" d="M333.4 523.7h2.4v14.8h-2.4z"/>
<path fill="#00FFFF" d="M333.4 538.5h2.4v28.2h-2.4z"/>
<path fill="#6B8E23" d="M333.4 566.7h2.4v29.5h-2.4z"/>
<path fill="#006400" d="M333.4 596.2h2.4v2.7h-2.4z"/>
<path fill="#00FFFF" d="M333.4 598.9h2.4v23.1h-2.4z"/>
<path fill="#A6CEE3" d="M335.8 513.3h2.1v23.9h-2.1z"/>
<path fill="#A020F0" d="M335.8 537.2h2.1v6.7h-2.1z"/>
<path fill="#006400" d="M335.8 543.9h2.1v4.0h-2.1z"/>
<path fill="#00FFFF" d="M335.8 547.9h2.1v74.1h-2.1z"/>
<path fill="#A6CEE3" d="M337.9 513.3h2.4v33.3h-2.4z"/>
<path fill="#A020F0" d="M337.9 546.6h2.4v5.4h-2.4z"/>
<path fill="#D02090" d="M337.9 551.9h2.4v70.1h-2.4z"/>
<path fill="#A6CEE3" d="M340.4 513.3h2.4v2.4h-2.4z"/>
<path fill="#D02090" d="M340.4 515.7h2.4v2.7h-2.4z"/>
<path fill="#6B8E23" d="M340.4 518.4h2.4v103.6h-2.4z"/>
<path fill="#A6CEE3" d="M342.8 513.3h2.1v53.4h-2.1z"/>
<path fill="#FF8C00" d="M342.8 566.7h2.1v2.7h-2.1z"/>
<path fill="#A020F0" d="M342.8 569.4h2.1v9.4h-2.1z"/>
<path fill="#00FF7F" d="M342.8 578.8h2.1v43.2h-2.1z"/>
<path fill="#A6CEE3" d="M344.9 513.3h2.1v11.8h-2.1z"/>
<path fill="#00FF7F" d="M344.9 525.1h2.1v60.4h-2.1z"/>
<path fill="#006400" d="M344.9 585.5h2.1v1.3h-2.1z"/>
<path fill="#00FFFF" d="M344.9 586.8h2.1v35.2h-2.1z"/>
<path fill="#A6CEE3" d="M347.1 513.3h2.4v23.9h-2.4z"/>
<path fill="#CD0000" d="M347.1 537.2h2.4v6.7h-2.4z"/>
<path fill="#D02090" d="M347.1 543.9h2.4v29.5h-2.4z"/>
<path fill="#00FF7F" d="M347.1 573.4h2.4v10.7h-2.4z"/>
<path fill="#006400" d="M347.1 584.1h2.4v2.7h-2.4z"/>
<path fill="#00FFFF" d="M347.1 586.8h2.4v35.2h-2.4z"/>
<path fill="#A6CEE3" d="M349.5 513.3h2.6v45.3h-2.6z"/>
<path fill="#CD0000" d="M349.5 558.6h2.6v2.7h-2.6z"/>
<path fill="#32CD32" d="M349.5 561.3h2.6v8.1h-2.6z"/>
<path fill="#006400" d="M349.5 569.4h2.6v4.0h-2.6z"/>
<path fill="#00FFFF" d="M349.5 573.4h2.6v48.6h-2.6z"/>
<path fill="#A6CEE3" d="M352.0 513.3h1.9v2.4h-1.9z"/>
<path fill="#CD0000" d="M352.0 515.7h1.9v2.7h-1.9z"/>
<path fill="#006400" d="M352.0 518.4h1.9v43.0h-1.9z"/>
<path fill="#00FFFF" d="M352.0 561.3h1.9v60.7h-1.9z"/>
<path fill="#A6CEE3" d="M353.9 513.3h2.1v21.2h-2.1z"/>
<path fill="#B22222" d="M353.9 534.5h2.1v2.7h-2.1z"/>
<path fill="#6B8E23" d="M353.9 537.2h2.1v84.8h-2.1z"/>
<path fill="#A6CEE3" d="M356.0 513.3h2.1v65.5h-2.1z"/>
<path fill="#FFB90F" d="M356.0 578.8h2.1v2.7h-2.1z"/>
<path fill="#D02090" d="M356.0 581.5h2.1v5.4h-2.1z"/>
<path fill="#00FF7F" d="M356.0 586.8h2.1v12.1h-2.1z"/>
<path fill="#6B8E23" d="M356.0 598.9h2.1v23.1h-2.1z"/>
<path fill="#A6CEE3" d="M358.2 513.3h2.1v99.0h-2.1z"/>
<path fill="#FF8C00" d="M358.2 612.3h2.1v9.7h-2.1z"/>
<path fill="#A6CEE3" d="M360.3 513.3h2.4v57.4h-2.4z"/>
<path fill="#FF8C00" d="M360.3 570.7h2.4v5.4h-2.4z"/>
<path fill="#A020F0" d="M360.3 576.1h2.4v6.7h-2.4z"/>
<path fill="#FF8C00" d="M360.3 582.8h2.4v5.4h-2.4z"/>
<path fill="#A020F0" d="M360.3 588.2h2.4v21.5h-2.4z"/>
<path fill="#00FF7F" d="M360.3 609.7h2.4v12.3h-2.4z"/>
<path fill="#A6CEE3" d="M362.7 513.3h2.1v61.4h-2.1z"/>
<path fill="#6A5ACD" d="M362.7 574.7h2.1v4.0h-2.1z"/>
<path fill="#A020F0" d="M362.7 578.8h2.1v28.2h-2.1z"/>
<path fill="#B22222" d="M362.7 607.0h2.1v2.7h-2.1z"/>
<path fill="#FF8C00" d="M362.7 609.7h2.1v12.3h-2.1z"/>
<path fill="#A6CEE3" d="M364.9 513.3h2.4v2.4h-2.4z"/>
<path fill="#FF8C00" d="M364.9 515.7h2.4v72.5h-2.4z"/>
<path fill="#FFB90F" d="M364.9 588.2h2.4v33.8h-2.4z"/>
<path fill="#A6CEE3" d="M367.3 513.3h2.4v46.7h-2.4z"/>
<path fill="#FF8C00" d="M367.3 560.0h2.4v8.1h-2.4z"/>
<path fill="#8B8378" d="M367.3 568.0h2.4v5.4h-2.4z"/>
<path fill="#A020F0" d="M367.3 573.4h2.4v4.0h-2.4z"/>
<path fill="#FF8C00" d="M367.3 577.4h2.4v10.7h-2.4z"/>
<path fill="#A020F0" d="M367.3 588.2h2.4v8.1h-2.4z"/>
<path fill="#00FF7F" d="M367.3 596.2h2.4v25.8h-2.4z"/>
<path fill="#A6CEE3" d="M369.7 513.3h2.1v2.4h-2.1z"/>
<path fill="#A020F0" d="M369.7 515.7h2.1v4.0h-2.1z"/>
<path fill="#D02090" d="M369.7 519.7h2.1v102.3h-2.1z"/>
<path fill="#A6CEE3" d="M371.9 513.3h2.4v5.1h-2.4z"/>
<path fill="#D02090" d="M371.9 518.4h2.4v2.7h-2.4z"/>
<path fill="#6B8E23" d="M371.9 521.1h2.4v26.8h-2.4z"/>
<path fill="#006400" d="M371.9 547.9h2.4v1.3h-2.4z"/>
<path fill="#00FFFF" d="M371.9 549.2h2.4v72.8h-2.4z"/>
<path fill="#A6CEE3" d="M374.3 513.3h2.4v10.4h-2.4z"/>
<path fill="#FF8C00" d="M374.3 523.7h2.4v6.7h-2.4z"/>
<path fill="#6A5ACD" d="M374.3 530.5h2.4v36.2h-2.4z"/>
<path fill="#6B8E23" d="M374.3 566.7h2.4v55.3h-2.4z"/>
<path fill="#A6CEE3" d="M376.7 513.3h2.1v14.5h-2.1z"/>
<path fill="#6B8E23" d="M376.7 527.8h2.1v38.9h-2.1z"/>
<path fill="#006400" d="M376.7 566.7h2.1v2.7h-2.1z"/>
<path fill="#00FFFF" d="M376.7 569.4h2.1v52.6h-2.1z"/>
<path fill="#A6CEE3" d="M378.8 513.3h2.1v2.4h-2.1z"/>
<path fill="#006400" d="M378.8 515.7h2.1v49.7h-2.1z"/>
<path fill="#00FFFF" d="M378.8 565.4h2.1v56.6h-2.1z"/>
<path fill="#A6CEE3" d="M381.0 513.3h2.1v19.8h-2.1z"/>
<path fill="#A020F0" d="M381.0 533.1h2.1v10.7h-2.1z"/>
<path fill="#FF8C00" d="M381.0 543.9h2.1v5.4h-2.1z"/>
<path fill="#6A5ACD" d="M381.0 549.2h2.1v38.9h-2.1z"/>
<path fill="#00FF7F" d="M381.0 588.2h2.1v4.0h-2.1z"/>
<path fill="#6B8E23" d="M381.0 592.2h2.1v29.8h-2.1z"/>
<path fill="#A6CEE3" d="M383.1 513.3h2.1v2.4h-2.1z"/>
<path fill="#A020F0" d="M383.1 515.7h2.1v12.1h-2.1z"/>
<path fill="#54FF9F" d="M383.1 527.8h2.1v6.7h-2.1z"/>
<path fill="#00FFFF" d="M383.1 534.5h2.1v87.5h-2.1z"/>
<path fill="#A6CEE3" d="M385.3 513.3h2.4v99.0h-2.4z"/>
<path fill="#D02090" d="M385.3 612.3h2.4v9.7h-2.4z"/>
<path fill="#A6CEE3" d="M387.7 513.3h2.4v15.8h-2.4z"/>
<path fill="#00008B" d="M387.7 529.1h2.4v14.8h-2.4z"/>
<path fill="#A020F0" d="M387.7 543.9h2.4v10.7h-2.4z"/>
<path fill="#00FF7F" d="M387.7 554.6h2.4v5.4h-2.4z"/>
<path fill="#6B8E23" d="M387.7 560.0h2.4v62.0h-2.4z"/>
<path fill="#A6CEE3" d="M390.1 513.3h2.1v15.8h-2.1z"/>
<path fill="#006400" d="M390.1 529.1h2.1v2.0h-2.1z"/>
<path fill="#00FFFF" d="M390.1 531.1h2.1v90.9h-2.1z"/>
<path fill="#A6CEE3" d="M392.3 513.3h2.4v14.5h-2.4z"/>
<path fill="#D02090" d="M392.3 527.8h2.4v44.3h-2.4z"/>
<path fill="#00FF7F" d="M392.3 572.1h2.4v8.1h-2.4z"/>
<path fill="#00FFFF" d="M392.3 580.1h2.4v25.5h-2.4z"/>
<path fill="#006400" d="M392.3 605.6h2.4v16.4h-2.4z"/>
<path fill="#A6CEE3" d="M394.7 513.3h2.1v14.5h-2.1z"/>
<path fill="#FF8C00" d="M394.7 527.8h2.1v94.2h-2.1z"/>
<path fill="#A6CEE3" d="M396.8 513.3h2.1v9.1h-2.1z"/>
<path fill="#A020F0" d="M396.8 522.4h2.1v2.7h-2.1z"/>
<path fill="#6B8E23" d="M396.8 525.1h2.1v13.4h-2.1z"/>
<path fill="#006400" d="M396.8 538.5h2.1v3.4h-2.1z"/>
<path fill="#00FFFF" d="M396.8 541.9h2.1v80.1h-2.1z"/>
<path fill="#A6CEE3" d="M399.0 513.3h2.4v41.3h-2.4z"/>
<path fill="#D02090" d="M399.0 554.6h2.4v2.7h-2.4z"/>
<path fill="#6A5ACD" d="M399.0 557.3h2.4v6.7h-2.4z"/>
<path fill="#FF8C00" d="M399.0 564.0h2.4v43.0h-2.4z"/>
<path fill="#D02090" d="M399.0 607.0h2.4v15.0h-2.4z"/>
<path fill="#A6CEE3" d="M401.4 513.3h2.1v38.6h-2.1z"/>
<path fill="#00FFFF" d="M401.4 551.9h2.1v70.1h-2.1z"/>
<path fill="#A6CEE3" d="M403.5 513.3h2.1v34.6h-2.1z"/>
<path fill="#FF8C00" d="M403.5 547.9h2.1v41.6h-2.1z"/>
<path fill="#A020F0" d="M403.5 589.5h2.1v20.1h-2.1z"/>
<path fill="#00FF7F" d="M403.5 609.7h2.1v12.3h-2.1z"/>
<path fill="#A6CEE3" d="M405.7 513.3h2.1v11.8h-2.1z"/>
<path fill="#CD0000" d="M405.7 525.1h2.1v4.0h-2.1z"/>
<path fill="#6B8E23" d="M405.7 529.1h2.1v64.4h-2.1z"/>
<path fill="#006400" d="M405.7 593.5h2.1v1.3h-2.1z"/>
<path fill="#00FFFF" d="M405.7 594.9h2.1v27.1h-2.1z"/>
<path fill="#A6CEE3" d="M407.8 513.3h2.1v15.8h-2.1z"/>
<path fill="#6B8E23" d="M407.8 529.1h2.1v64.4h-2.1z"/>
<path fill="#00FFFF" d="M407.8 593.5h2.1v28.5h-2.1z"/>
<path fill="#A6CEE3" d="M410.0 513.3h2.1v5.1h-2.1z"/>
<path fill="#A020F0" d="M410.0 518.4h2.1v12.1h-2.1z"/>
<path fill="#32CD32" d="M410.0 530.5h2.1v6.7h-2.1z"/>
<path fill="#00FFFF" d="M410.0 537.2h2.1v84.8h-2.1z"/>
<path fill="#A6CEE3" d="M412.1 513.3h3.1v15.8h-3.1z"/>
<path fill="#FF8C00" d="M412.1 529.1h3.1v67.1h-3.1z"/>
<path fill="#A020F0" d="M412.1 596.2h3.1v2.7h-3.1z"/>
<path fill="#00FF7F" d="M412.1 598.9h3.1v23.1h-3.1z"/>
<path fill="#D02090" d="M289.0 622.0h1.8v34.9h-1.8z"/>
<path fill="#6B8E23" d="M289.0 656.9h1.8v11.6h-1.8z"/>
<path fill="#00FFFF" d="M289.0 668.5h1.8v46.5h-1.8z"/>
<path fill="#6B8E23" d="M289.0 715.1h1.8v11.6h-1.8z"/>
<path fill="#00FFFF" d="M289.0 726.7h1.8v3.9h-1.8z"/>
<path fill="#D02090" d="M290.8 622.0h2.3v34.9h-2.3z"/>
<path fill="#00FFFF" d="M290.8 656.9h2.3v73.7h-2.3zM293.1 622.0h0.5v108.6h-0.5z"/>
<path fill="#006400" d="M293.6 622.0h2.8v41.9h-2.8z"/>
<path fill="#00FFFF" d="M293.6 663.9h2.8v66.7h-2.8zM296.4 622.0h0.5v108.6h-0.5z"/>
<path fill="#006400" d="M296.8 622.0h2.3v67.5h-2.3z"/>
<path fill="#00FFFF" d="M296.8 689.5h2.3v41.1h-2.3zM299.2 622.0h2.8v108.6h-2.8z"/>
<path fill="#6B8E23" d="M302.0 622.0h1.9v55.9h-1.9z"/>
<path fill="#00FFFF" d="M302.0 677.9h1.9v52.7h-1.9zM303.8 622.0h7.4v108.6h-7.4z"/>
<path fill="#32CD32" d="M311.3 622.0h2.3v7.0h-2.3z"/>
<path fill="#006400" d="M311.3 629.0h2.3v15.1h-2.3z"/>
<path fill="#00FFFF" d="M311.3 644.1h2.3v86.5h-2.3zM313.6 622.0h6.1v108.6h-6.1z"/>
<path fill="#6B8E23" d="M319.7 622.0h2.8v58.2h-2.8z"/>
<path fill="#006400" d="M319.7 680.2h2.8v7.0h-2.8z"/>
<path fill="#00FFFF" d="M319.7 687.2h2.8v43.4h-2.8z"/>
<path fill="#6B8E23" d="M322.9 622.0h2.3v30.3h-2.3z"/>
<path fill="#00FFFF" d="M322.9 652.3h2.3v78.3h-2.3zM325.2 622.0h4.7v108.6h-4.7z"/>
<path fill="#D02090" d="M329.9 622.0h2.8v60.5h-2.8z"/>
<path fill="#6B8E23" d="M329.9 682.5h2.8v7.0h-2.8z"/>
<path fill="#00FFFF" d="M329.9 689.5h2.8v14.0h-2.8z"/>
<path fill="#006400" d="M329.9 703.5h2.8v14.0h-2.8z"/>
<path fill="#00FFFF" d="M329.9 717.4h2.8v13.2h-2.8zM332.7 622.0h5.1v108.6h-5.1z"/>
<path fill="#D02090" d="M337.8 622.0h1.9v14.0h-1.9z"/>
<path fill="#6B8E23" d="M337.8 636.0h1.9v51.2h-1.9z"/>
<path fill="#00FFFF" d="M337.8 687.2h1.9v43.4h-1.9z"/>
<path fill="#6B8E23" d="M339.7 622.0h2.3v102.4h-2.3z"/>
<path fill="#00FFFF" d="M339.7 724.4h2.3v6.2h-2.3z"/>
<path fill="#6B8E23" d="M342.0 622.0h1.9v86.1h-1.9z"/>
<path fill="#006400" d="M342.0 708.1h1.9v9.3h-1.9z"/>
<path fill="#6B8E23" d="M342.0 717.4h1.9v7.0h-1.9z"/>
<path fill="#00FFFF" d="M342.0 724.4h1.9v6.2h-1.9z"/>
<path fill="#6B8E23" d="M343.9 622.0h1.4v65.2h-1.4z"/>
<path fill="#00FFFF" d="M343.9 687.2h1.4v43.4h-1.4zM345.3 622.0h8.8v108.6h-8.8z"/>
<path fill="#6B8E23" d="M354.1 622.0h2.3v53.5h-2.3z"/>
<path fill="#006400" d="M354.1 675.5h2.3v9.3h-2.3z"/>
<path fill="#00FFFF" d="M354.1 684.8h2.3v45.8h-2.3z"/>
<path fill="#6B8E23" d="M356.9 622.0h1.9v61.7h-1.9z"/>
<path fill="#006400" d="M356.9 683.7h1.9v10.5h-1.9z"/>
<path fill="#00FFFF" d="M356.9 694.1h1.9v36.5h-1.9z"/>
<path fill="#A020F0" d="M358.7 622.0h2.3v7.0h-2.3z"/>
<path fill="#B22222" d="M358.7 629.0h2.3v23.3h-2.3z"/>
<path fill="#A020F0" d="M358.7 652.3h2.3v11.6h-2.3z"/>
<path fill="#6B8E23" d="M358.7 663.9h2.3v60.5h-2.3z"/>
<path fill="#00FFFF" d="M358.7 724.4h2.3v6.2h-2.3z"/>
<path fill="#6B8E23" d="M362.0 622.0h2.3v39.6h-2.3z"/>
<path fill="#006400" d="M362.0 661.6h2.3v39.6h-2.3z"/>
<path fill="#00FFFF" d="M362.0 701.1h2.3v29.5h-2.3z"/>
<path fill="#FF8C00" d="M364.8 622.0h2.8v20.9h-2.8z"/>
<path fill="#32CD32" d="M364.8 642.9h2.8v18.6h-2.8z"/>
<path fill="#006400" d="M364.8 661.6h2.8v51.2h-2.8z"/>
<path fill="#00FFFF" d="M364.8 712.8h2.8v17.8h-2.8zM367.6 622.0h1.9v108.6h-1.9z"/>
<path fill="#D02090" d="M369.5 622.0h2.3v58.2h-2.3z"/>
<path fill="#6B8E23" d="M369.5 680.2h2.3v20.9h-2.3z"/>
<path fill="#00FFFF" d="M369.5 701.1h2.3v29.5h-2.3zM371.8 622.0h2.8v108.6h-2.8z"/>
<path fill="#6B8E23" d="M374.6 622.0h1.9v22.1h-1.9z"/>
<path fill="#00FFFF" d="M374.6 644.1h1.9v86.5h-1.9zM376.4 622.0h5.6v108.6h-5.6z"/>
<path fill="#6B8E23" d="M382.0 622.0h1.9v60.5h-1.9z"/>
<path fill="#00FFFF" d="M382.0 682.5h1.9v48.1h-1.9zM383.9 622.0h1.9v108.6h-1.9z"/>
<path fill="#B22222" d="M385.7 622.0h2.3v30.3h-2.3z"/>
<path fill="#6B8E23" d="M385.7 652.3h2.3v34.9h-2.3z"/>
<path fill="#006400" d="M385.7 687.2h2.3v7.0h-2.3z"/>
<path fill="#00FFFF" d="M385.7 694.1h2.3v36.5h-2.3zM388.1 622.0h3.7v108.6h-3.7z"/>
<path fill="#32CD32" d="M391.8 622.0h1.9v14.0h-1.9z"/>
<path fill="#00FFFF" d="M391.8 636.0h1.9v94.6h-1.9z"/>
<path fill="#6B8E23" d="M394.1 622.0h2.8v39.6h-2.8z"/>
<path fill="#006400" d="M394.1 661.6h2.8v46.5h-2.8z"/>
<path fill="#00FFFF" d="M394.1 708.1h2.8v22.5h-2.8zM396.9 622.0h1.9v108.6h-1.9z"/>
<path fill="#FF8C00" d="M398.8 622.0h1.9v14.0h-1.9z"/>
<path fill="#6B8E23" d="M398.8 636.0h1.9v55.9h-1.9z"/>
<path fill="#006400" d="M398.8 691.8h1.9v14.0h-1.9z"/>
<path fill="#00FFFF" d="M398.8 705.8h1.9v24.8h-1.9zM400.6 622.0h2.3v9.3h-2.3z"/>
<path fill="#A020F0" d="M400.6 631.3h2.3v4.7h-2.3z"/>
<path fill="#32CD32" d="M400.6 636.0h2.3v51.2h-2.3z"/>
<path fill="#006400" d="M400.6 687.2h2.3v4.7h-2.3z"/>
<path fill="#00FFFF" d="M400.6 691.8h2.3v38.8h-2.3zM403.0 622.0h1.9v79.1h-1.9z"/>
<path fill="#006400" d="M403.0 701.1h1.9v7.0h-1.9z"/>
<path fill="#00FFFF" d="M403.0 708.1h1.9v22.5h-1.9zM404.8 622.0h8.8v108.6h-8.8zM413.7 622.0h1.6v25.6h-1.6z"/>
<path fill="#6B8E23" d="M413.7 647.6h1.6v32.6h-1.6z"/>
<path fill="#00FFFF" d="M413.7 680.2h1.6v50.4h-1.6z"/>
</g>
<g>
<path fill="#A6CEE3" d="M417.8 513.3h126.2v5.1h-126.2z"/>
<path fill="#00FFFF" d="M417.8 518.4h126.2v212.2h-126.2z"/>
<path fill="#FFFFFF" d="M417.8 513.3h0.9v108.7h-0.9z"/>
<path fill="#A6CEE3" d="M418.7 513.3h2.4v2.4h-2.4z"/>
<path fill="#FF8C00" d="M418.7 515.7h2.4v12.1h-2.4z"/>
<path fill="#A020F0" d="M418.7 527.8h2.4v5.4h-2.4z"/>
<path fill="#D02090" d="M418.7 533.1h2.4v52.4h-2.4z"/>
<path fill="#6B8E23" d="M418.7 585.5h2.4v8.1h-2.4z"/>
<path fill="#00FFFF" d="M418.7 593.5h2.4v28.5h-2.4z"/>
<path fill="#A6CEE3" d="M421.1 513.3h2.1v2.4h-2.1z"/>
<path fill="#A020F0" d="M421.1 515.7h2.1v4.0h-2.1z"/>
<path fill="#006400" d="M421.1 519.7h2.1v13.4h-2.1z"/>
<path fill="#00FFFF" d="M421.1 533.1h2.1v88.9h-2.1z"/>
<path fill="#A6CEE3" d="M423.2 513.3h2.4v11.8h-2.4z"/>
<path fill="#FF8C00" d="M423.2 525.1h2.4v10.7h-2.4z"/>
<path fill="#6B8E23" d="M423.2 535.8h2.4v17.5h-2.4z"/>
<path fill="#006400" d="M423.2 553.3h2.4v52.4h-2.4z"/>
<path fill="#00FFFF" d="M423.2 605.6h2.4v16.4h-2.4z"/>
<path fill="#A6CEE3" d="M425.7 513.3h2.1v9.1h-2.1z"/>
<path fill="#FF8C00" d="M425.7 522.4h2.1v4.0h-2.1z"/>
<path fill="#A020F0" d="M425.7 526.4h2.1v1.3h-2.1z"/>
<path fill="#6B8E23" d="M425.7 527.8h2.1v94.2h-2.1z"/>
<path fill="#A6CEE3" d="M427.8 513.3h2.4v1.0h-2.4z"/>
<path fill="#A020F0" d="M427.8 514.3h2.4v2.7h-2.4z"/>
<path fill="#006400" d="M427.8 517.0h2.4v4.0h-2.4z"/>
<path fill="#00FFFF" d="M427.8 521.1h2.4v100.9h-2.4z"/>
<path fill="#A6CEE3" d="M430.2 513.3h2.1v3.7h-2.1z"/>
<path fill="#006400" d="M430.2 517.0h2.1v4.0h-2.1z"/>
<path fill="#00FFFF" d="M430.2 521.1h2.1v100.9h-2.1z"/>
<path fill="#A6CEE3" d="M432.4 513.3h2.4v5.1h-2.4z"/>
<path fill="#B22222" d="M432.4 518.4h2.4v2.7h-2.4z"/>
<path fill="#006400" d="M432.4 521.1h2.4v30.9h-2.4z"/>
<path fill="#00FFFF" d="M432.4 551.9h2.4v70.1h-2.4z"/>
<path fill="#A6CEE3" d="M434.8 513.3h2.1v53.4h-2.1z"/>
<path fill="#6A5ACD" d="M434.8 566.7h2.1v2.7h-2.1z"/>
<path fill="#6B8E23" d="M434.8 569.4h2.1v8.1h-2.1z"/>
<path fill="#006400" d="M434.8 577.4h2.1v44.6h-2.1z"/>
<path fill="#A6CEE3" d="M436.9 513.3h2.1v41.3h-2.1z"/>
<path fill="#B22222" d="M436.9 554.6h2.1v3.4h-2.1z"/>
<path fill="#6A5ACD" d="M436.9 558.0h2.1v11.4h-2.1z"/>
<path fill="#D02090" d="M436.9 569.4h2.1v10.7h-2.1z"/>
<path fill="#6B8E23" d="M436.9 580.1h2.1v41.9h-2.1z"/>
<path fill="#A6CEE3" d="M439.1 513.3h2.1v78.9h-2.1z"/>
<path fill="#FF8C00" d="M439.1 592.2h2.1v29.8h-2.1z"/>
<path fill="#A6CEE3" d="M441.2 513.3h2.4v41.3h-2.4z"/>
<path fill="#FF8C00" d="M441.2 554.6h2.4v6.7h-2.4z"/>
<path fill="#B22222" d="M441.2 561.3h2.4v14.8h-2.4z"/>
<path fill="#6A5ACD" d="M441.2 576.1h2.4v6.7h-2.4z"/>
<path fill="#6B8E23" d="M441.2 582.8h2.4v39.2h-2.4z"/>
<path fill="#A6CEE3" d="M443.7 513.3h2.1v3.7h-2.1z"/>
<path fill="#FF8C00" d="M443.7 517.0h2.1v6.7h-2.1z"/>
<path fill="#6B8E23" d="M443.7 523.7h2.1v14.8h-2.1z"/>
<path fill="#00FFFF" d="M443.7 538.5h2.1v83.5h-2.1z"/>
<path fill="#FFFFFF" d="M445.8 513.3h2.4v108.7h-2.4z"/>
<path fill="#A6CEE3" d="M448.2 513.3h2.1v14.5h-2.1z"/>
<path fill="#6A5ACD" d="M448.2 527.8h2.1v25.5h-2.1z"/>
<path fill="#6B8E23" d="M448.2 553.3h2.1v18.8h-2.1z"/>
<path fill="#006400" d="M448.2 572.1h2.1v26.8h-2.1z"/>
<path fill="#00FFFF" d="M448.2 598.9h2.1v23.1h-2.1z"/>
<path fill="#A6CEE3" d="M450.4 513.3h2.4v9.1h-2.4z"/>
<path fill="#FF8C00" d="M450.4 522.4h2.4v4.7h-2.4z"/>
<path fill="#A020F0" d="M450.4 527.1h2.4v2.7h-2.4z"/>
<path fill="#00FF7F" d="M450.4 529.8h2.4v3.4h-2.4z"/>
<path fill="#6B8E23" d="M450.4 533.1h2.4v47.0h-2.4z"/>
<path fill="#006400" d="M450.4 580.1h2.4v18.8h-2.4z"/>
<path fill="#00FFFF" d="M450.4 598.9h2.4v23.1h-2.4z"/>
<path fill="#A6CEE3" d="M452.8 513.3h2.1v80.2h-2.1z"/>
<path fill="#CD0000" d="M452.8 593.5h2.1v18.8h-2.1z"/>
<path fill="#D02090" d="M452.8 612.3h2.1v9.7h-2.1z"/>
<path fill="#A6CEE3" d="M454.9 513.3h2.4v64.1h-2.4z"/>
<path fill="#FF8C00" d="M454.9 577.4h2.4v4.0h-2.4z"/>
<path fill="#D02090" d="M454.9 581.5h2.4v40.5h-2.4z"/>
<path fill="#A6CEE3" d="M457.3 513.3h2.4v11.8h-2.4z"/>
<path fill="#D02090" d="M457.3 525.1h2.4v96.9h-2.4z"/>
<path fill="#A6CEE3" d="M459.8 513.3h2.1v2.4h-2.1z"/>
<path fill="#A020F0" d="M459.8 515.7h2.1v25.5h-2.1z"/>
<path fill="#D02090" d="M459.8 541.2h2.1v34.9h-2.1z"/>
<path fill="#6B8E23" d="M459.8 576.1h2.1v45.9h-2.1z"/>
<path fill="#A6CEE3" d="M461.9 513.3h2.1v62.8h-2.1z"/>
<path fill="#A020F0" d="M461.9 576.1h2.1v6.7h-2.1z"/>
<path fill="#B22222" d="M461.9 582.8h2.1v10.7h-2.1z"/>
<path fill="#6B8E23" d="M461.9 593.5h2.1v28.5h-2.1z"/>
<path fill="#A6CEE3" d="M464.1 513.3h2.4v49.4h-2.4z"/>
<path fill="#B22222" d="M464.1 562.7h2.4v3.4h-2.4z"/>
<path fill="#6B8E23" d="M464.1 566.0h2.4v56.0h-2.4z"/>
<path fill="#A6CEE3" d="M466.5 513.3h2.1v61.4h-2.1z"/>
<path fill="#CD0000" d="M466.5 574.7h2.1v6.7h-2.1z"/>
<path fill="#FFB90F" d="M466.5 581.5h2.1v9.4h-2.1z"/>
<path fill="#6A5ACD" d="M466.5 590.9h2.1v8.1h-2.1z"/>
<path fill="#FFB90F" d="M466.5 598.9h2.1v4.0h-2.1z"/>
<path fill="#32CD32" d="M466.5 602.9h2.1v19.1h-2.1z"/>
<path fill="#A6CEE3" d="M468.6 513.3h2.4v85.6h-2.4z"/>
<path fill="#FF8C00" d="M468.6 598.9h2.4v2.7h-2.4z"/>
<path fill="#6A5ACD" d="M468.6 601.6h2.4v4.0h-2.4z"/>
<path fill="#32CD32" d="M468.6 605.6h2.4v16.4h-2.4z"/>
<path fill="#A6CEE3" d="M471.0 513.3h2.4v54.7h-2.4z"/>
<path fill="#FF8C00" d="M471.0 568.0h2.4v8.1h-2.4z"/>
<path fill="#A020F0" d="M471.0 576.1h2.4v20.1h-2.4z"/>
<path fill="#6B8E23" d="M471.0 596.2h2.4v25.8h-2.4z"/>
<path fill="#A6CEE3" d="M473.5 513.3h2.1v84.3h-2.1z"/>
<path fill="#FF8C00" d="M473.5 597.6h2.1v6.7h-2.1z"/>
<path fill="#6A5ACD" d="M473.5 604.3h2.1v8.1h-2.1z"/>
<path fill="#CD0000" d="M473.5 612.3h2.1v9.7h-2.1z"/>
<path fill="#A6CEE3" d="M475.6 513.3h2.1v78.9h-2.1z"/>
<path fill="#FF8C00" d="M475.6 592.2h2.1v4.0h-2.1z"/>
<path fill="#CD0000" d="M475.6 596.2h2.1v18.8h-2.1z"/>
<path fill="#D02090" d="M475.6 615.0h2.1v7.0h-2.1z"/>
<path fill="#A6CEE3" d="M477.7 513.3h2.3v33.3h-2.3z"/>
<path fill="#CD0000" d="M477.7 546.6h2.3v4.0h-2.3z"/>
<path fill="#6A5ACD" d="M477.7 550.6h2.3v9.4h-2.3z"/>
<path fill="#00FF7F" d="M477.7 560.0h2.3v4.7h-2.3z"/>
<path fill="#6B8E23" d="M477.7 564.7h2.3v57.3h-2.3z"/>
<path fill="#A6CEE3" d="M480.0 513.3h2.1v11.1h-2.1z"/>
<path fill="#FF8C00" d="M480.0 524.4h2.1v51.7h-2.1z"/>
<path fill="#A020F0" d="M480.0 576.1h2.1v9.4h-2.1z"/>
<path fill="#6B8E23" d="M480.0 585.5h2.1v36.5h-2.1z"/>
<path fill="#A6CEE3" d="M482.1 513.3h2.1v42.7h-2.1z"/>
<path fill="#6B8E23" d="M482.1 556.0h2.1v66.0h-2.1z"/>
<path fill="#A6CEE3" d="M484.3 513.3h2.4v3.7h-2.4z"/>
<path fill="#A020F0" d="M484.3 517.0h2.4v2.7h-2.4z"/>
<path fill="#006400" d="M484.3 519.7h2.4v87.3h-2.4z"/>
<path fill="#6B8E23" d="M484.3 607.0h2.4v15.0h-2.4z"/>
<path fill="#A6CEE3" d="M486.7 513.3h2.1v65.5h-2.1z"/>
<path fill="#B22222" d="M486.7 578.8h2.1v2.7h-2.1z"/>
<path fill="#00FFFF" d="M486.7 581.5h2.1v40.5h-2.1z"/>
<path fill="#A6CEE3" d="M488.9 513.3h2.4v31.9h-2.4z"/>
<path fill="#A020F0" d="M488.9 545.2h2.4v4.0h-2.4z"/>
<path fill="#00FF7F" d="M488.9 549.2h2.4v10.7h-2.4z"/>
<path fill="#6B8E23" d="M488.9 560.0h2.4v5.4h-2.4z"/>
<path fill="#006400" d="M488.9 565.4h2.4v8.1h-2.4z"/>
<path fill="#00FFFF" d="M488.9 573.4h2.4v48.6h-2.4z"/>
<path fill="#A6CEE3" d="M491.3 513.3h2.1v46.0h-2.1z"/>
<path fill="#CD0000" d="M491.3 559.3h2.1v3.4h-2.1z"/>
<path fill="#6495ED" d="M491.3 562.7h2.1v4.0h-2.1z"/>
<path fill="#FFB90F" d="M491.3 566.7h2.1v5.4h-2.1z"/>
<path fill="#A020F0" d="M491.3 572.1h2.1v32.2h-2.1z"/>
<path fill="#6B8E23" d="M491.3 600.3h2.1v21.7h-2.1z"/>
<path fill="#A6CEE3" d="M493.4 513.3h2.4v2.4h-2.4z"/>
<path fill="#FFB90F" d="M493.4 515.7h2.4v88.6h-2.4z"/>
<path fill="#32CD32" d="M493.4 604.3h2.4v17.7h-2.4z"/>
<path fill="#A6CEE3" d="M495.8 513.3h2.1v25.2h-2.1z"/>
<path fill="#FF8C00" d="M495.8 538.5h2.1v9.4h-2.1z"/>
<path fill="#B22222" d="M495.8 547.9h2.1v2.7h-2.1z"/>
<path fill="#00FF7F" d="M495.8 550.6h2.1v24.2h-2.1z"/>
<path fill="#6B8E23" d="M495.8 574.7h2.1v47.3h-2.1z"/>
<path fill="#A6CEE3" d="M498.0 513.3h2.4v13.1h-2.4z"/>
<path fill="#D02090" d="M498.0 526.4h2.4v48.3h-2.4z"/>
<path fill="#6B8E23" d="M498.0 574.7h2.4v18.8h-2.4z"/>
<path fill="#006400" d="M498.0 593.5h2.4v10.7h-2.4z"/>
<path fill="#6B8E23" d="M498.0 604.3h2.4v17.7h-2.4z"/>
<path fill="#A6CEE3" d="M500.4 513.3h2.1v45.3h-2.1z"/>
<path fill="#FF8C00" d="M500.4 558.6h2.1v13.4h-2.1z"/>
<path fill="#6A5ACD" d="M500.4 572.1h2.1v21.5h-2.1z"/>
<path fill="#32CD32" d="M500.4 593.5h2.1v6.7h-2.1z"/>
<path fill="#6B8E23" d="M500.4 600.3h2.1v21.7h-2.1z"/>
<path fill="#A6CEE3" d="M502.6 513.3h2.4v44.0h-2.4z"/>
<path fill="#FF8C00" d="M502.6 557.3h2.4v6.7h-2.4z"/>
<path fill="#A020F0" d="M502.6 564.0h2.4v5.4h-2.4z"/>
<path fill="#00FF7F" d="M502.6 569.4h2.4v8.1h-2.4z"/>
<path fill="#6B8E23" d="M502.6 577.4h2.4v44.6h-2.4z"/>
<path fill="#A6CEE3" d="M505.0 513.3h1.9v108.7h-1.9zM506.8 513.3h2.4v2.4h-2.4z"/>
<path fill="#FFB90F" d="M506.8 515.7h2.4v4.0h-2.4z"/>
<path fill="#54FF9F" d="M506.8 519.7h2.4v9.4h-2.4z"/>
<path fill="#6B8E23" d="M506.8 529.1h2.4v92.9h-2.4z"/>
<path fill="#A6CEE3" d="M509.3 513.3h2.4v54.7h-2.4z"/>
<path fill="#404040" d="M509.3 568.0h2.4v2.7h-2.4z"/>
<path fill="#A020F0" d="M509.3 570.7h2.4v6.7h-2.4z"/>
<path fill="#6B8E23" d="M509.3 577.4h2.4v44.6h-2.4z"/>
<path fill="#A6CEE3" d="M511.7 513.3h2.4v80.2h-2.4z"/>
<path fill="#FF8C00" d="M511.7 593.5h2.4v2.7h-2.4z"/>
<path fill="#A020F0" d="M511.7 596.2h2.4v10.7h-2.4z"/>
<path fill="#54FF9F" d="M511.7 607.0h2.4v15.0h-2.4z"/>
<path fill="#A6CEE3" d="M514.1 513.3h2.1v62.8h-2.1z"/>
<path fill="#FF8C00" d="M514.1 576.1h2.1v12.1h-2.1z"/>
<path fill="#B22222" d="M514.1 588.2h2.1v13.4h-2.1z"/>
<path fill="#A020F0" d="M514.1 601.6h2.1v8.1h-2.1z"/>
<path fill="#6B8E23" d="M514.1 600.3h2.1v21.7h-2.1z"/>
<path fill="#A6CEE3" d="M516.2 513.3h2.1v10.4h-2.1z"/>
<path fill="#006400" d="M516.2 523.7h2.1v2.7h-2.1z"/>
<path fill="#A020F0" d="M516.2 526.4h2.1v10.7h-2.1z"/>
<path fill="#00FF7F" d="M516.2 537.2h2.1v4.0h-2.1z"/>
<path fill="#6B8E23" d="M516.2 541.2h2.1v80.8h-2.1z"/>
<path fill="#A6CEE3" d="M518.4 513.3h2.1v62.8h-2.1z"/>
<path fill="#6A5ACD" d="M518.4 576.1h2.1v4.0h-2.1z"/>
<path fill="#FF8C00" d="M518.4 580.1h2.1v4.0h-2.1z"/>
<path fill="#CD0000" d="M518.4 584.1h2.1v14.8h-2.1z"/>
<path fill="#A020F0" d="M518.4 598.9h2.1v5.4h-2.1z"/>
<path fill="#6B8E23" d="M518.4 600.3h2.1v21.7h-2.1z"/>
<path fill="#A6CEE3" d="M520.5 513.3h2.1v58.8h-2.1z"/>
<path fill="#FF8C00" d="M520.5 572.1h2.1v10.7h-2.1z"/>
<path fill="#A020F0" d="M520.5 582.8h2.1v13.4h-2.1z"/>
<path fill="#32CD32" d="M520.5 596.2h2.1v4.0h-2.1z"/>
<path fill="#6B8E23" d="M520.5 600.3h2.1v21.7h-2.1z"/>
<path fill="#A6CEE3" d="M522.7 513.3h2.1v40.0h-2.1z"/>
<path fill="#FF8C00" d="M522.7 553.3h2.1v20.1h-2.1z"/>
<path fill="#FFB90F" d="M522.7 573.4h2.1v12.1h-2.1z"/>
<path fill="#A020F0" d="M522.7 585.5h2.1v8.1h-2.1z"/>
<path fill="#32CD32" d="M522.7 593.5h2.1v6.7h-2.1z"/>
<path fill="#6B8E23" d="M522.7 600.3h2.1v21.7h-2.1z"/>
<path fill="#A6CEE3" d="M524.8 513.3h2.1v9.1h-2.1z"/>
<path fill="#FF8C00" d="M524.8 522.4h2.1v2.7h-2.1z"/>
<path fill="#006400" d="M524.8 525.1h2.1v10.7h-2.1z"/>
<path fill="#00FFFF" d="M524.8 535.8h2.1v86.2h-2.1z"/>
<path fill="#A6CEE3" d="M527.0 513.3h2.4v21.2h-2.4z"/>
<path fill="#CD0000" d="M527.0 534.5h2.4v2.0h-2.4z"/>
<path fill="#A020F0" d="M527.0 536.5h2.4v15.4h-2.4z"/>
<path fill="#00FF7F" d="M527.0 551.9h2.4v12.1h-2.4z"/>
<path fill="#00FFFF" d="M527.0 564.0h2.4v58.0h-2.4z"/>
<path fill="#A6CEE3" d="M529.4 513.3h2.1v49.4h-2.1z"/>
<path fill="#CD0000" d="M529.4 562.7h2.1v3.4h-2.1z"/>
<path fill="#6A5ACD" d="M529.4 566.0h2.1v32.9h-2.1z"/>
<path fill="#A020F0" d="M529.4 598.9h2.1v8.1h-2.1z"/>
<path fill="#6B8E23" d="M529.4 600.3h2.1v21.7h-2.1z"/>
<path fill="#A6CEE3" d="M531.5 513.3h2.1v72.2h-2.1z"/>
<path fill="#FF8C00" d="M531.5 585.5h2.1v13.4h-2.1z"/>
<path fill="#A020F0" d="M531.5 598.9h2.1v8.1h-2.1z"/>
<path fill="#FF8C00" d="M531.5 607.0h2.1v6.7h-2.1z"/>
<path fill="#6B8E23" d="M531.5 600.3h2.1v21.7h-2.1z"/>
<path fill="#A6CEE3" d="M533.7 513.3h2.1v57.4h-2.1z"/>
<path fill="#FF8C00" d="M533.7 570.7h2.1v9.4h-2.1z"/>
<path fill="#A020F0" d="M533.7 580.1h2.1v12.1h-2.1z"/>
<path fill="#FFB90F" d="M533.7 592.2h2.1v4.0h-2.1z"/>
<path fill="#32CD32" d="M533.7 596.2h2.1v4.0h-2.1z"/>
<path fill="#6B8E23" d="M533.7 600.3h2.1v21.7h-2.1z"/>
<path fill="#A6CEE3" d="M535.8 513.3h2.4v2.4h-2.4z"/>
<path fill="#FF8C00" d="M535.8 515.7h2.4v24.2h-2.4z"/>
<path fill="#D02090" d="M535.8 539.8h2.4v37.6h-2.4z"/>
<path fill="#00FF7F" d="M535.8 577.4h2.4v10.7h-2.4z"/>
<path fill="#6B8E23" d="M535.8 588.2h2.4v33.8h-2.4z"/>
<path fill="#A6CEE3" d="M538.3 513.3h2.1v13.1h-2.1z"/>
<path fill="#00FF7F" d="M538.3 526.4h2.1v4.0h-2.1z"/>
<path fill="#6B8E23" d="M538.3 530.5h2.1v91.5h-2.1z"/>
<path fill="#A6CEE3" d="M540.4 513.3h3.6v25.2h-3.6z"/>
<path fill="#FF8C00" d="M540.4 538.5h3.6v22.8h-3.6z"/>
<path fill="#FFB90F" d="M540.4 561.3h3.6v5.4h-3.6z"/>
<path fill="#6A5ACD" d="M540.4 566.7h3.6v55.3h-3.6z"/>
<path fill="#FFFFFF" d="M417.8 622.0h0.1v108.6h-0.1z"/>
<path fill="#D02090" d="M417.9 622.0h1.4v16.3h-1.4z"/>
<path fill="#32CD32" d="M417.9 638.3h1.4v76.8h-1.4z"/>
<path fill="#00FFFF" d="M417.9 715.1h1.4v15.5h-1.4zM419.3 622.0h6.1v108.6h-6.1z"/>
<path fill="#006400" d="M425.3 622.0h2.3v47.7h-2.3z"/>
<path fill="#00FFFF" d="M425.3 669.7h2.3v60.9h-2.3zM427.6 622.0h10.2v108.6h-10.2z"/>
<path fill="#6B8E23" d="M437.9 622.0h2.3v100.1h-2.3z"/>
<path fill="#00FFFF" d="M437.9 722.1h2.3v8.5h-2.3z"/>
<path fill="#A020F0" d="M440.2 622.0h2.3v4.7h-2.3z"/>
<path fill="#006400" d="M440.2 626.7h2.3v7.0h-2.3z"/>
<path fill="#00FFFF" d="M440.2 633.6h2.3v97.0h-2.3zM442.5 622.0h3.3v108.6h-3.3z"/>
<path fill="#FFFFFF" d="M445.8 622.0h2.3v108.6h-2.3z"/>
<path fill="#32CD32" d="M448.1 622.0h1.9v27.9h-1.9z"/>
<path fill="#00FFFF" d="M448.1 649.9h1.9v80.7h-1.9zM450.0 622.0h2.3v108.6h-2.3z"/>
<path fill="#6B8E23" d="M452.3 622.0h3.3v41.9h-3.3z"/>
<path fill="#00FFFF" d="M452.3 663.9h3.3v66.7h-3.3zM455.6 622.0h1.4v108.6h-1.4z"/>
<path fill="#D02090" d="M457.0 622.0h3.3v79.1h-3.3z"/>
<path fill="#6B8E23" d="M457.0 701.1h3.3v7.0h-3.3z"/>
<path fill="#00FFFF" d="M457.0 708.1h3.3v2.3h-3.3z"/>
<path fill="#006400" d="M457.0 710.4h3.3v7.0h-3.3z"/>
<path fill="#00FFFF" d="M457.0 717.4h3.3v13.2h-3.3zM460.2 622.0h1.4v108.6h-1.4z"/>
<path fill="#6B8E23" d="M461.6 622.0h2.3v60.5h-2.3z"/>
<path fill="#006400" d="M461.6 682.5h2.3v4.7h-2.3z"/>
<path fill="#00FFFF" d="M461.6 687.2h2.3v43.4h-2.3z"/>
<path fill="#6B8E23" d="M464.4 622.0h3.3v88.4h-3.3z"/>
<path fill="#00FFFF" d="M464.4 710.4h3.3v20.2h-3.3z"/>
<path fill="#6B8E23" d="M467.7 622.0h3.3v81.5h-3.3z"/>
<path fill="#006400" d="M467.7 703.5h3.3v9.3h-3.3z"/>
<path fill="#00FFFF" d="M467.7 712.8h3.3v17.8h-3.3z"/>
<path fill="#6B8E23" d="M470.9 622.0h2.3v23.3h-2.3z"/>
<path fill="#00FFFF" d="M470.9 645.3h2.3v85.3h-2.3zM473.3 622.0h0.5v108.6h-0.5z"/>
<path fill="#D02090" d="M473.7 622.0h2.3v4.7h-2.3z"/>
<path fill="#6B8E23" d="M473.7 626.7h2.3v32.6h-2.3z"/>
<path fill="#006400" d="M473.7 659.2h2.3v30.3h-2.3z"/>
<path fill="#00FFFF" d="M473.7 689.5h2.3v41.1h-2.3zM476.0 622.0h4.2v108.6h-4.2z"/>
<path fill="#6B8E23" d="M480.2 622.0h2.8v88.4h-2.8z"/>
<path fill="#00FFFF" d="M480.2 710.4h2.8v20.2h-2.8zM483.0 622.0h1.9v108.6h-1.9z"/>
<path fill="#006400" d="M484.9 622.0h2.8v4.7h-2.8z"/>
<path fill="#6B8E23" d="M484.9 626.7h2.8v41.9h-2.8z"/>
<path fill="#006400" d="M484.9 668.5h2.8v9.3h-2.8z"/>
<path fill="#00FFFF" d="M484.9 677.9h2.8v52.7h-2.8z"/>
<path fill="#6B8E23" d="M487.7 622.0h2.3v102.4h-2.3z"/>
<path fill="#00FFFF" d="M487.7 724.4h2.3v6.2h-2.3zM490.0 622.0h0.9v108.6h-0.9z"/>
<path fill="#6A5ACD" d="M490.9 622.0h2.3v34.9h-2.3z"/>
<path fill="#D02090" d="M490.9 656.9h2.3v3.5h-2.3z"/>
<path fill="#00FFFF" d="M490.9 660.4h2.3v70.2h-2.3zM493.3 622.0h0.9v108.6h-0.9z"/>
<path fill="#6B8E23" d="M494.2 622.0h3.3v97.7h-3.3z"/>
<path fill="#00FFFF" d="M494.2 719.7h3.3v10.9h-3.3z"/>
<path fill="#006400" d="M497.5 622.0h2.8v23.3h-2.8z"/>
<path fill="#00FFFF" d="M497.5 645.3h2.8v85.3h-2.8zM500.2 622.0h3.3v11.6h-3.3z"/>
<path fill="#6B8E23" d="M500.2 633.6h3.3v51.2h-3.3z"/>
<path fill="#00FFFF" d="M500.2 684.8h3.3v45.8h-3.3z"/>
<path fill="#6B8E23" d="M503.5 622.0h1.9v81.5h-1.9z"/>
<path fill="#006400" d="M503.5 703.5h1.9v16.3h-1.9z"/>
<path fill="#00FFFF" d="M503.5 719.7h1.9v10.9h-1.9z"/>
<path fill="#C0C0C0" d="M505.4 622.0h2.8v11.6h-2.8z"/>
<path fill="#6B8E23" d="M505.4 633.6h2.8v69.8h-2.8z"/>
<path fill="#006400" d="M505.4 703.5h2.8v16.3h-2.8z"/>
<path fill="#00FFFF" d="M505.4 719.7h2.8v10.9h-2.8z"/>
<path fill="#6B8E23" d="M508.2 622.0h3.7v69.8h-3.7z"/>
<path fill="#00FFFF" d="M508.2 691.8h3.7v38.8h-3.7z"/>
<path fill="#6B8E23" d="M511.9 622.0h4.2v46.5h-4.2z"/>
<path fill="#00FFFF" d="M511.9 668.5h4.2v62.1h-4.2z"/>
<path fill="#6B8E23" d="M516.1 622.0h2.3v46.5h-2.3z"/>
<path fill="#006400" d="M516.1 668.5h2.3v23.3h-2.3z"/>
<path fill="#00FFFF" d="M516.1 691.8h2.3v38.8h-2.3z"/>
<path fill="#32CD32" d="M518.4 622.0h3.7v58.2h-3.7z"/>
<path fill="#00FFFF" d="M518.4 680.2h3.7v50.4h-3.7z"/>
<path fill="#6B8E23" d="M522.1 622.0h3.3v76.8h-3.3z"/>
<path fill="#00FFFF" d="M522.1 698.8h3.3v31.8h-3.3zM525.4 622.0h1.9v108.6h-1.9z"/>
<path fill="#6B8E23" d="M527.2 622.0h3.7v76.8h-3.7z"/>
<path fill="#00FFFF" d="M527.2 698.8h3.7v31.8h-3.7z"/>
<path fill="#6B8E23" d="M531.0 622.0h1.9v76.8h-1.9z"/>
<path fill="#006400" d="M531.0 698.8h1.9v18.6h-1.9z"/>
<path fill="#00FFFF" d="M531.0 717.4h1.9v13.2h-1.9z"/>
<path fill="#6B8E23" d="M532.8 622.0h4.2v74.5h-4.2z"/>
<path fill="#00FFFF" d="M532.8 696.5h4.2v34.1h-4.2z"/>
<path fill="#6B8E23" d="M537.0 622.0h3.7v102.4h-3.7z"/>
<path fill="#00FFFF" d="M537.0 724.4h3.7v6.2h-3.7z"/>
<path fill="#6B8E23" d="M540.7 622.0h2.3v76.8h-2.3z"/>
<path fill="#006400" d="M540.7 698.8h2.3v7.0h-2.3z"/>
<path fill="#00FFFF" d="M540.7 705.8h2.3v24.8h-2.3z"/>
</g>
<rect x="31.5" y="5.4" width="126.25" height="11.3" fill="#fff" stroke="#7a7a7a" stroke-width="1"/>
<rect x="31.5" y="16.700000000000003" width="126.25" height="11.3" fill="#fff" stroke="#7a7a7a" stroke-width="1"/>
<text x="94.625" y="14.4" class="b" text-anchor="middle">axilla</text>
<text x="94.625" y="25.700000000000003" class="b" text-anchor="middle">day1</text>
<rect x="160.25" y="5.4" width="126.25" height="11.3" fill="#fff" stroke="#7a7a7a" stroke-width="1"/>
<rect x="160.25" y="16.700000000000003" width="126.25" height="11.3" fill="#fff" stroke="#7a7a7a" stroke-width="1"/>
<text x="223.375" y="14.4" class="b" text-anchor="middle">axilla</text>
<text x="223.375" y="25.700000000000003" class="b" text-anchor="middle">day7</text>
<rect x="289.0" y="5.4" width="126.25" height="11.3" fill="#fff" stroke="#7a7a7a" stroke-width="1"/>
<rect x="289.0" y="16.700000000000003" width="126.25" height="11.3" fill="#fff" stroke="#7a7a7a" stroke-width="1"/>
<text x="352.125" y="14.4" class="b" text-anchor="middle">axilla</text>
<text x="352.125" y="25.700000000000003" class="b" text-anchor="middle">day14</text>
<rect x="417.75" y="5.4" width="126.25" height="11.3" fill="#fff" stroke="#7a7a7a" stroke-width="1"/>
<rect x="417.75" y="16.700000000000003" width="126.25" height="11.3" fill="#fff" stroke="#7a7a7a" stroke-width="1"/>
<text x="480.875" y="14.4" class="b" text-anchor="middle">axilla</text>
<text x="480.875" y="25.700000000000003" class="b" text-anchor="middle">day21</text>
<rect x="31.5" y="248.2" width="126.25" height="11.3" fill="#fff" stroke="#7a7a7a" stroke-width="1"/>
<rect x="31.5" y="259.5" width="126.25" height="11.3" fill="#fff" stroke="#7a7a7a" stroke-width="1"/>
<text x="94.625" y="257.2" class="b" text-anchor="middle">ear</text>
<text x="94.625" y="268.5" class="b" text-anchor="middle">day1</text>
<rect x="160.25" y="248.2" width="126.25" height="11.3" fill="#fff" stroke="#7a7a7a" stroke-width="1"/>
<rect x="160.25" y="259.5" width="126.25" height="11.3" fill="#fff" stroke="#7a7a7a" stroke-width="1"/>
<text x="223.375" y="257.2" class="b" text-anchor="middle">ear</text>
<text x="223.375" y="268.5" class="b" text-anchor="middle">day7</text>
<rect x="289.0" y="248.2" width="126.25" height="11.3" fill="#fff" stroke="#7a7a7a" stroke-width="1"/>
<rect x="289.0" y="259.5" width="126.25" height="11.3" fill="#fff" stroke="#7a7a7a" stroke-width="1"/>
<text x="352.125" y="257.2" class="b" text-anchor="middle">ear</text>
<text x="352.125" y="268.5" class="b" text-anchor="middle">day14</text>
<rect x="417.75" y="248.2" width="126.25" height="11.3" fill="#fff" stroke="#7a7a7a" stroke-width="1"/>
<rect x="417.75" y="259.5" width="126.25" height="11.3" fill="#fff" stroke="#7a7a7a" stroke-width="1"/>
<text x="480.875" y="257.2" class="b" text-anchor="middle">ear</text>
<text x="480.875" y="268.5" class="b" text-anchor="middle">day21</text>
<rect x="31.5" y="490.6" width="126.25" height="11.3" fill="#fff" stroke="#7a7a7a" stroke-width="1"/>
<rect x="31.5" y="501.90000000000003" width="126.25" height="11.3" fill="#fff" stroke="#7a7a7a" stroke-width="1"/>
<text x="94.625" y="499.6" class="b" text-anchor="middle">groin</text>
<text x="94.625" y="510.90000000000003" class="b" text-anchor="middle">day1</text>
<rect x="160.25" y="490.6" width="126.25" height="11.3" fill="#fff" stroke="#7a7a7a" stroke-width="1"/>
<rect x="160.25" y="501.90000000000003" width="126.25" height="11.3" fill="#fff" stroke="#7a7a7a" stroke-width="1"/>
<text x="223.375" y="499.6" class="b" text-anchor="middle">groin</text>
<text x="223.375" y="510.90000000000003" class="b" text-anchor="middle">day7</text>
<rect x="289.0" y="490.6" width="126.25" height="11.3" fill="#fff" stroke="#7a7a7a" stroke-width="1"/>
<rect x="289.0" y="501.90000000000003" width="126.25" height="11.3" fill="#fff" stroke="#7a7a7a" stroke-width="1"/>
<text x="352.125" y="499.6" class="b" text-anchor="middle">groin</text>
<text x="352.125" y="510.90000000000003" class="b" text-anchor="middle">day14</text>
<rect x="417.75" y="490.6" width="126.25" height="11.3" fill="#fff" stroke="#7a7a7a" stroke-width="1"/>
<rect x="417.75" y="501.90000000000003" width="126.25" height="11.3" fill="#fff" stroke="#7a7a7a" stroke-width="1"/>
<text x="480.875" y="499.6" class="b" text-anchor="middle">groin</text>
<text x="480.875" y="510.90000000000003" class="b" text-anchor="middle">day21</text>
<text x="29.4" y="31.7" class="t" text-anchor="end">100</text>
<text x="29.4" y="86.0" class="t" text-anchor="end">75</text>
<text x="29.4" y="140.3" class="t" text-anchor="end">50</text>
<text x="29.4" y="194.7" class="t" text-anchor="end">25</text>
<text x="29.4" y="249.0" class="t" text-anchor="end">0</text>
<text x="29.4" y="274.7" class="t" text-anchor="end">100</text>
<text x="29.4" y="329.0" class="t" text-anchor="end">75</text>
<text x="29.4" y="383.3" class="t" text-anchor="end">50</text>
<text x="29.4" y="437.7" class="t" text-anchor="end">25</text>
<text x="29.4" y="492.0" class="t" text-anchor="end">0</text>
<text x="29.4" y="517.0" class="t" text-anchor="end">100</text>
<text x="29.4" y="571.3" class="t" text-anchor="end">75</text>
<text x="29.4" y="625.6" class="t" text-anchor="end">50</text>
<text x="29.4" y="680.0" class="t" text-anchor="end">25</text>
<text x="29.4" y="734.3" class="t" text-anchor="end">0</text>
<text transform="translate(11.6,379.5) rotate(-90)" class="a" text-anchor="middle">Mean Relative Abundance (%)</text>
<text x="287.3" y="739.8" class="a" text-anchor="middle">Participants</text>
<rect x="75.8" y="747.60" width="5.2" height="8.0" fill="#A6CEE3"/>
<text x="83.4" y="754.70" class="l">Other</text>
<rect x="75.8" y="755.95" width="5.2" height="8.0" fill="#1F78B4"/>
<text x="83.4" y="763.05" class="l">Diaphorobacter</text>
<rect x="75.8" y="764.30" width="5.2" height="8.0" fill="#B2DF8A"/>
<text x="83.4" y="771.40" class="l">Lautropia</text>
<rect x="75.8" y="772.65" width="5.2" height="8.0" fill="#33A02C"/>
<text x="83.4" y="779.75" class="l">Prevotella 7</text>
<rect x="75.8" y="781.00" width="5.2" height="8.0" fill="#FB9A99"/>
<text x="83.4" y="788.10" class="l">Lawsonella</text>
<rect x="75.8" y="789.35" width="5.2" height="8.0" fill="#E31A1C"/>
<text x="83.4" y="796.45" class="l">Gemella</text>
<rect x="75.8" y="797.70" width="5.2" height="8.0" fill="#FDBF6F"/>
<text x="83.4" y="804.80" class="l">Fusobacterium</text>
<rect x="146.5" y="747.60" width="5.2" height="8.0" fill="#FF7F00"/>
<text x="155.0" y="754.70" class="l">Enterobacter</text>
<rect x="146.5" y="755.95" width="5.2" height="8.0" fill="#C0C0C0"/>
<text x="155.0" y="763.05" class="l">Sneathia</text>
<rect x="146.5" y="764.30" width="5.2" height="8.0" fill="#8B3A2A"/>
<text x="155.0" y="771.40" class="l">Actinomyces</text>
<rect x="146.5" y="772.65" width="5.2" height="8.0" fill="#228B22"/>
<text x="155.0" y="779.75" class="l">Peptostreptococcus</text>
<rect x="146.5" y="781.00" width="5.2" height="8.0" fill="#B22222"/>
<text x="155.0" y="788.10" class="l">Ureaplasma</text>
<rect x="146.5" y="789.35" width="5.2" height="8.0" fill="#7FFFD4"/>
<text x="155.0" y="796.45" class="l">Gardnerella</text>
<rect x="146.5" y="797.70" width="5.2" height="8.0" fill="#FF7F24"/>
<text x="155.0" y="804.80" class="l">Klebsiella</text>
<rect x="236.6" y="747.60" width="5.2" height="8.0" fill="#404040"/>
<text x="244.7" y="754.70" class="l">Prevotella</text>
<rect x="236.6" y="755.95" width="5.2" height="8.0" fill="#6495ED"/>
<text x="244.7" y="763.05" class="l">Peptoniphilus</text>
<rect x="236.6" y="764.30" width="5.2" height="8.0" fill="#8B8378"/>
<text x="244.7" y="771.40" class="l">Bacteroides</text>
<rect x="236.6" y="772.65" width="5.2" height="8.0" fill="#00008B"/>
<text x="244.7" y="779.75" class="l">Haemophilus</text>
<rect x="236.6" y="781.00" width="5.2" height="8.0" fill="#FFB90F"/>
<text x="244.7" y="788.10" class="l">Serratia</text>
<rect x="236.6" y="789.35" width="5.2" height="8.0" fill="#8B1C9C"/>
<text x="244.7" y="796.45" class="l">Acinetobacter</text>
<rect x="236.6" y="797.70" width="5.2" height="8.0" fill="#FF8C00"/>
<text x="244.7" y="804.80" class="l">Lactobacillus</text>
<rect x="301.5" y="747.60" width="5.2" height="8.0" fill="#A020F0"/>
<text x="309.6" y="754.70" class="l">Enterococcus</text>
<rect x="301.5" y="755.95" width="5.2" height="8.0" fill="#CD0000"/>
<text x="309.6" y="763.05" class="l">Plasmopara viticola</text>
<rect x="301.5" y="764.30" width="5.2" height="8.0" fill="#6A5ACD"/>
<text x="309.6" y="771.40" class="l">Streptococcus</text>
<rect x="301.5" y="772.65" width="5.2" height="8.0" fill="#D02090"/>
<text x="309.6" y="779.75" class="l">Escherichia-Shigella</text>
<rect x="301.5" y="781.00" width="5.2" height="8.0" fill="#54FF9F"/>
<text x="309.6" y="788.10" class="l">Clostridium sensu stricto 1</text>
<rect x="301.5" y="789.35" width="5.2" height="8.0" fill="#00FF7F"/>
<text x="309.6" y="796.45" class="l">uncultured</text>
<rect x="301.5" y="797.70" width="5.2" height="8.0" fill="#6B8E23"/>
<text x="309.6" y="804.80" class="l">Bifidobacterium</text>
<rect x="417.1" y="747.60" width="5.2" height="8.0" fill="#32CD32"/>
<text x="425.3" y="754.70" class="l">Stenotrophomonas</text>
<rect x="417.1" y="755.95" width="5.2" height="8.0" fill="#3CB371"/>
<text x="425.3" y="763.05" class="l">Delftia</text>
<rect x="417.1" y="764.30" width="5.2" height="8.0" fill="#006400"/>
<text x="425.3" y="771.40" class="l">Corynebacterium 1</text>
<rect x="417.1" y="772.65" width="5.2" height="8.0" fill="#00FFFF"/>
<text x="425.3" y="779.75" class="l">Staphylococcus</text>
</svg>
</body></html>
